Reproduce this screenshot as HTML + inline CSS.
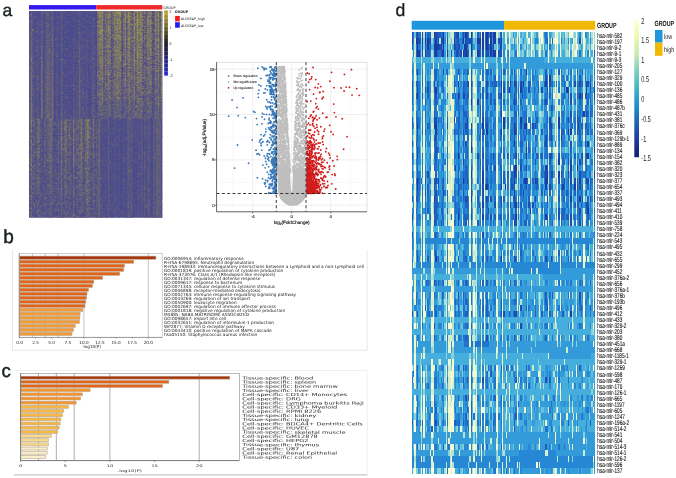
<!DOCTYPE html><html><head><meta charset="utf-8"><style>html,body{margin:0;padding:0;background:#fff}body{width:676px;height:478px;overflow:hidden;position:relative}svg{position:absolute;left:0;top:0}text{font-family:"Liberation Sans",Arial,sans-serif}.dj{font-family:"DejaVu Sans","Liberation Sans",sans-serif}svg text{text-rendering:geometricPrecision}</style></head><body>
<svg width="676" height="478" viewBox="0 0 676 478">
<text x="2.6" y="15.8" font-size="17.4" fill="#1a221c" stroke="#1a221c" stroke-width="0.45">a</text>
<text x="3.2" y="243.4" font-size="19" fill="#1a221c" stroke="#1a221c" stroke-width="0.45">b</text>
<text x="1.6" y="377" font-size="18.5" fill="#1a221c" stroke="#1a221c" stroke-width="0.5">c</text>
<text x="395.6" y="15.6" font-size="17.6" fill="#1a221c" stroke="#1a221c" stroke-width="0.35">d</text>
<rect x="29" y="5.1" width="67.2" height="4.4" fill="#3418f0"/>
<rect x="96.2" y="5.1" width="66.1" height="4.4" fill="#f02a2a"/>
<rect x="29.0" y="11.0" width="133.3" height="206.7" fill="#4a4a8e"/>
<g transform="translate(29.76 11) scale(1.5148 0.9986)" fill="none" stroke-width="1" shape-rendering="crispEdges">
<path d="M0 3v2M0 7v3M0 11v1M0 14v2M0 17v1M0 19v1M0 21v6M0 28v4M0 35v5M0 41v1M0 44v1M0 46v2M0 50v2M0 53v4M0 58v1M0 60v1M0 62v1M0 64v1M0 66v6M0 73v2M0 76v2M0 79v3M0 83v1M0 86v2M0 89v7M0 97v5M0 103v5M0 113v1M0 115v2M0 118v2M0 123v2M0 127v1M0 129v1M0 132v6M0 139v1M0 145v1M0 150v1M0 154v1M0 162v1M0 166v1M0 170v4M0 175v2M0 181v1M0 183v2M0 186v2M0 195v1M0 198v1M0 200v1M0 204v2M1 0v1M1 7v2M1 123v1M1 183v1M1 190v1M1 199v1M2 0v1M2 4v5M2 10v6M2 17v1M2 20v4M2 25v3M2 32v1M2 34v6M2 43v2M2 48v2M2 51v1M2 53v1M2 55v1M2 57v1M2 61v3M2 68v3M2 72v2M2 78v1M2 80v3M2 85v6M2 92v1M2 97v1M2 103v1M2 117v1M2 121v1M2 123v1M2 127v2M2 131v1M2 137v1M2 143v1M2 148v2M2 158v2M2 161v2M2 176v1M2 183v1M2 188v2M2 193v2M2 197v1M2 203v2M3 1v2M3 4v4M3 10v1M3 13v1M3 19v2M3 22v2M3 25v1M3 27v4M3 33v1M3 36v1M3 38v1M3 43v5M3 49v5M3 55v9M3 65v1M3 71v2M3 77v2M3 80v8M3 89v4M3 94v5M3 100v4M3 105v2M3 118v1M3 123v1M3 148v1M3 159v2M3 164v1M3 170v1M3 175v1M3 183v2M3 187v1M3 191v1M3 198v3M3 202v2M3 205v1M4 1v1M4 5v2M4 13v1M4 17v4M4 22v1M4 26v1M4 30v1M4 35v1M4 41v1M4 44v1M4 50v2M4 54v1M4 56v1M4 59v1M4 62v1M4 64v1M4 68v3M4 72v3M4 77v1M4 86v1M4 88v1M4 91v1M4 98v2M4 103v1M4 107v2M4 110v1M4 113v2M4 116v1M4 118v3M4 125v3M4 130v1M4 136v1M4 140v1M4 144v2M4 150v2M4 153v1M4 156v3M4 163v2M4 166v1M4 168v2M4 176v1M4 179v1M4 181v1M4 183v3M4 187v1M4 191v1M4 197v1M5 2v1M5 4v3M5 9v2M5 14v4M5 19v1M5 22v7M5 31v1M5 33v2M5 40v1M5 42v2M5 46v7M5 54v1M5 56v6M5 63v1M5 69v1M5 73v1M5 75v1M5 79v4M5 87v6M5 94v1M5 100v1M5 103v1M5 119v1M5 128v1M5 135v2M5 139v1M5 154v1M5 162v1M5 178v1M5 180v1M5 183v2M5 187v1M5 190v2M5 202v1M6 1v1M6 8v2M6 11v2M6 14v1M6 16v2M6 19v1M6 22v3M6 28v1M6 30v1M6 32v2M6 36v1M6 39v1M6 42v3M6 48v2M6 51v5M6 57v2M6 60v2M6 64v6M6 71v1M6 74v3M6 79v2M6 89v1M6 91v4M6 96v1M6 98v2M6 101v1M6 103v1M6 105v1M6 107v1M6 132v1M6 142v1M6 148v1M6 150v1M6 156v2M6 162v1M6 183v3M6 195v2M7 0v1M7 2v1M7 9v2M7 13v2M7 16v1M7 20v3M7 27v1M7 29v1M7 31v1M7 33v1M7 35v2M7 38v1M7 41v1M7 45v1M7 49v1M7 51v1M7 56v1M7 58v1M7 60v2M7 63v4M7 68v1M7 70v7M7 79v5M7 86v3M7 91v1M7 97v3M7 101v7M7 111v2M7 117v2M7 122v2M7 127v2M7 136v1M7 142v4M7 148v1M7 154v2M7 158v1M7 161v2M7 164v1M7 166v1M7 170v1M7 172v1M7 174v1M7 178v2M7 188v3M7 192v1M7 194v1M7 197v4M8 7v2M8 18v1M8 109v1M8 124v1M8 126v1M8 131v2M8 141v1M8 143v4M8 149v1M8 154v1M8 167v1M8 172v1M8 175v2M8 181v1M8 187v1M8 192v1M8 197v1M8 199v1M8 204v1M9 1v2M9 10v1M9 12v2M9 20v2M9 29v1M9 52v4M9 69v2M9 72v1M9 79v1M9 84v1M9 89v2M9 92v1M9 95v2M9 99v1M9 104v2M9 108v1M9 119v4M9 124v3M9 129v2M9 136v3M9 143v1M9 147v2M9 155v1M9 159v1M9 161v2M9 166v2M9 169v1M9 171v1M9 174v3M9 179v1M9 181v2M9 184v2M9 190v1M9 192v4M9 197v1M9 200v1M9 203v1M9 205v1M10 0v1M10 2v2M10 6v1M10 8v1M10 10v2M10 14v1M10 18v1M10 20v1M10 22v1M10 24v2M10 27v1M10 29v1M10 32v1M10 35v4M10 40v1M10 44v1M10 47v4M10 53v1M10 55v4M10 60v2M10 63v1M10 65v4M10 72v10M10 86v6M10 93v5M10 99v1M10 102v5M10 118v1M10 122v1M10 125v1M10 128v1M10 137v1M10 141v2M10 147v1M10 163v1M10 165v2M10 168v1M10 172v3M10 176v1M10 180v2M10 184v1M10 187v1M10 190v1M10 198v4M11 0v1M11 4v2M11 7v4M11 13v1M11 16v1M11 20v1M11 22v1M11 24v1M11 27v2M11 33v1M11 37v1M11 40v1M11 46v2M11 49v1M11 54v1M11 59v1M11 63v1M11 66v1M11 86v1M11 109v1M11 112v2M11 116v1M11 122v1M11 129v1M11 132v1M11 134v2M11 140v1M11 151v1M11 158v1M11 161v1M11 163v1M11 166v1M11 168v5M11 174v2M11 181v1M11 188v1M11 190v2M11 200v1M11 202v2M12 1v1M12 3v1M12 7v1M12 9v2M12 17v1M12 19v1M12 38v1M12 112v2M12 117v1M12 124v2M12 127v1M12 129v1M12 131v1M12 136v1M12 139v1M12 144v1M12 147v1M12 151v1M12 157v1M12 160v1M12 164v1M12 168v1M12 172v2M12 176v1M12 181v1M12 191v1M12 193v2M12 199v6M13 0v2M13 3v10M13 15v4M13 20v2M13 23v1M13 25v4M13 30v1M13 32v2M13 36v1M13 43v2M13 47v1M13 95v1M13 110v1M13 116v1M13 120v1M13 141v1M13 151v3M13 156v1M13 159v1M13 162v1M13 165v2M13 168v1M13 175v1M13 178v1M13 185v1M13 192v1M13 201v2M13 206v1M14 1v3M14 5v1M14 7v2M14 11v4M14 16v6M14 23v3M14 30v2M14 33v4M14 39v2M14 43v2M14 46v5M14 52v1M14 54v3M14 58v2M14 61v1M14 65v1M14 68v1M14 70v1M14 82v2M14 86v1M14 89v2M14 95v1M14 101v1M14 105v2M14 136v1M14 147v1M14 153v1M14 171v1M14 173v1M14 179v1M14 183v2M14 189v1M14 191v1M14 200v1M14 204v1M14 206v1M15 3v2M15 9v1M15 13v1M15 116v1M15 132v1M15 139v1M15 143v3M15 149v4M15 154v4M15 159v2M15 167v1M15 176v2M15 181v1M15 194v1M15 198v1M15 202v1M15 205v1M16 4v2M16 7v3M16 12v1M16 14v3M16 18v1M16 20v1M16 22v1M16 24v1M16 26v1M16 30v3M16 37v1M16 39v2M16 44v1M16 46v1M16 48v1M16 50v1M16 52v3M16 56v2M16 59v1M16 62v2M16 65v2M16 68v1M16 74v2M16 78v2M16 81v5M16 87v2M16 90v2M16 93v2M16 96v10M16 107v1M16 110v1M16 117v1M16 119v1M16 121v1M16 126v2M16 136v1M16 145v1M16 151v1M16 153v3M16 157v4M16 165v2M16 171v1M16 174v1M16 179v1M16 181v2M16 186v1M16 188v1M17 0v1M17 16v1M17 18v1M17 25v1M17 27v1M17 35v1M17 52v1M17 62v1M17 70v1M17 76v1M17 83v1M17 91v1M17 100v2M17 108v1M17 110v1M17 112v1M17 121v2M17 124v1M17 129v2M17 133v1M17 136v1M17 139v1M17 143v2M17 148v4M17 153v1M17 155v2M17 161v1M17 163v1M17 165v1M17 169v2M17 175v4M17 183v1M17 189v2M17 198v1M18 0v1M18 3v1M18 5v2M18 8v1M18 11v8M18 22v1M18 24v4M18 29v3M18 34v3M18 38v3M18 43v1M18 46v4M18 51v11M18 63v1M18 67v4M18 73v1M18 76v1M18 78v1M18 83v1M18 85v2M18 88v2M18 92v1M18 95v5M18 101v1M18 106v1M18 110v1M18 112v1M18 115v2M18 121v1M18 123v1M18 127v1M18 131v1M18 133v1M18 136v1M18 141v1M18 143v1M18 145v3M18 151v1M18 153v1M18 174v3M18 178v3M18 182v1M18 185v3M18 197v1M19 5v2M19 10v3M19 15v3M19 22v1M19 25v1M19 27v1M19 34v2M19 42v1M19 44v1M19 48v1M19 57v1M19 65v1M19 67v1M19 69v1M19 76v2M19 79v2M19 87v1M19 93v2M19 97v1M19 101v1M19 103v1M19 107v2M19 110v1M19 112v1M19 118v2M19 124v1M19 127v3M19 131v1M19 135v1M19 137v1M19 139v2M19 152v4M19 158v1M19 164v2M19 175v1M19 186v2M19 189v1M19 193v2M19 197v1M19 200v3M20 0v1M20 2v1M20 5v4M20 13v1M20 16v2M20 20v3M20 24v1M20 31v1M20 33v1M20 40v1M20 47v3M20 53v1M20 56v1M20 58v1M20 64v1M20 67v1M20 69v2M20 72v3M20 76v1M20 78v2M20 81v1M20 93v1M20 99v1M20 101v1M20 103v1M20 106v1M20 113v7M20 122v6M20 129v1M20 135v6M20 144v1M20 147v1M20 149v1M20 157v2M20 160v1M20 163v1M20 166v1M20 170v2M20 176v1M20 183v1M20 189v1M20 193v1M20 198v1M20 201v1M20 203v1M20 206v1M21 0v3M21 5v1M21 9v2M21 12v3M21 17v1M21 20v2M21 23v2M21 30v2M21 40v1M21 42v1M21 44v1M21 46v1M21 50v1M21 54v2M21 57v1M21 77v1M21 84v1M21 93v1M21 95v1M21 124v1M21 166v1M21 189v1M21 191v1M21 195v1M21 205v1M22 2v1M22 4v2M22 7v2M22 13v2M22 16v2M22 25v1M22 27v2M22 32v2M22 37v1M22 39v3M22 47v1M22 50v3M22 54v2M22 62v4M22 67v6M22 74v1M22 77v1M22 79v1M22 82v2M22 85v1M22 87v3M22 94v5M22 102v2M22 110v1M22 115v5M22 122v1M22 125v1M22 135v2M22 139v1M22 142v1M22 145v1M22 147v2M22 151v1M22 154v1M22 159v2M22 165v3M22 170v1M22 175v1M22 177v1M22 179v1M22 182v1M22 188v1M22 191v1M22 197v1M22 200v1M22 202v1M22 206v1M23 0v2M23 5v2M23 10v2M23 13v2M23 19v1M23 23v2M23 26v1M23 29v4M23 37v2M23 41v1M23 44v1M23 49v3M23 53v2M23 56v1M23 60v1M23 63v4M23 71v1M23 73v2M23 76v2M23 79v2M23 82v1M23 84v4M23 90v2M23 93v2M23 96v2M23 99v2M23 102v4M23 107v1M23 123v1M23 141v1M23 143v1M23 147v2M23 151v3M23 160v3M23 168v3M23 173v1M23 177v1M23 183v1M23 185v1M23 187v1M23 190v2M23 194v1M23 196v2M23 200v1M24 0v2M24 3v2M24 7v1M24 10v1M24 12v2M24 15v1M24 21v1M24 23v1M24 25v3M24 31v1M24 38v2M24 42v2M24 45v1M24 49v3M24 55v2M24 63v3M24 69v2M24 75v1M24 77v1M24 81v1M24 83v1M24 85v1M24 88v1M24 90v1M24 93v2M24 96v1M24 98v2M24 101v1M24 103v4M24 158v1M24 187v1M24 189v1M24 193v2M24 198v5M25 3v2M25 8v5M25 14v1M25 16v1M25 19v2M25 25v2M25 33v1M25 37v3M25 42v1M25 44v2M25 48v2M25 52v2M25 56v3M25 60v4M25 65v2M25 68v1M25 70v3M25 74v4M25 79v2M25 82v1M25 85v1M25 90v2M25 94v6M25 101v1M25 103v2M25 106v6M25 113v1M25 115v2M25 123v1M25 125v1M25 128v1M25 130v1M25 132v1M25 135v1M25 141v1M25 143v1M25 157v1M25 159v1M25 164v1M25 167v1M25 172v1M25 177v1M25 183v1M25 187v1M25 193v2M25 197v1M25 201v1M26 2v1M26 4v1M26 11v1M26 19v1M26 21v1M26 27v1M26 31v1M26 35v2M26 40v1M26 43v1M26 51v1M26 58v1M26 60v2M26 66v1M26 74v1M26 80v1M26 83v1M26 87v1M26 89v1M26 91v3M26 97v1M26 105v1M26 108v1M26 111v2M26 129v2M26 138v1M26 146v1M26 153v1M26 159v2M26 169v1M26 172v1M26 179v2M26 184v1M26 189v1M26 191v1M26 198v1M26 202v1M26 205v1M27 1v1M27 3v2M27 7v1M27 11v1M27 13v1M27 23v1M27 25v1M27 31v1M27 35v1M27 38v1M27 42v5M27 48v1M27 50v1M27 52v1M27 58v1M27 60v4M27 68v3M27 72v1M27 74v2M27 80v2M27 83v1M27 85v2M27 88v1M27 92v1M27 94v4M27 103v1M27 106v2M27 110v1M27 114v2M27 125v1M27 128v1M27 131v1M27 139v1M27 144v1M27 148v1M27 151v2M27 154v4M27 159v1M27 171v1M27 174v2M27 177v1M27 181v1M27 187v1M27 190v1M27 193v1M27 197v1M27 203v2M28 1v2M28 7v2M28 28v1M28 31v1M28 34v2M28 40v2M28 49v2M28 56v1M28 59v3M28 79v1M28 91v1M28 101v1M28 107v2M28 110v1M28 113v1M28 117v1M28 120v1M28 125v3M28 129v1M28 132v1M28 147v1M28 150v1M28 154v2M28 157v1M28 163v1M28 165v1M28 170v1M28 172v1M28 174v2M28 177v2M28 181v1M28 183v2M28 187v1M28 189v2M28 193v1M28 200v1M28 202v1M28 204v1M29 2v1M29 7v2M29 10v2M29 14v2M29 18v3M29 23v2M29 26v2M29 29v1M29 32v2M29 35v1M29 38v1M29 40v2M29 44v4M29 49v1M29 51v1M29 53v3M29 57v4M29 62v4M29 67v1M29 69v2M29 73v1M29 76v1M29 78v4M29 83v5M29 89v1M29 91v3M29 97v2M29 101v2M29 104v1M29 106v2M29 162v1M29 187v2M29 192v1M29 195v1M29 197v2M29 200v1M30 0v2M30 4v2M30 8v2M30 11v1M30 14v4M30 19v1M30 22v2M30 25v1M30 27v1M30 29v1M30 31v2M30 36v1M30 38v1M30 40v2M30 43v5M30 49v1M30 51v1M30 53v1M30 56v1M30 59v1M30 62v1M30 64v2M30 67v3M30 74v1M30 77v1M30 79v1M30 85v1M30 88v2M30 92v3M30 96v1M30 99v10M30 113v1M30 117v1M30 120v1M30 127v1M30 129v2M30 133v1M30 136v1M30 139v1M30 141v1M30 145v1M30 152v1M30 157v1M30 159v1M30 161v1M30 165v1M30 175v1M30 178v1M30 181v1M30 183v1M30 187v6M30 195v2M30 200v1M30 205v2M31 1v3M31 10v1M31 13v1M31 17v1M31 21v2M31 26v1M31 29v2M31 32v6M31 41v6M31 48v2M31 53v1M31 56v4M31 61v1M31 64v3M31 69v3M31 73v4M31 78v3M31 83v5M31 89v1M31 91v1M31 93v2M31 98v6M31 105v3M31 120v1M31 140v1M31 144v4M31 150v1M31 156v3M31 160v1M31 164v1M31 170v2M31 178v2M31 184v2M31 189v1M31 192v1M31 197v1M31 199v1M31 202v1M31 204v1M31 206v1M32 0v4M32 5v1M32 8v1M32 10v2M32 13v1M32 15v4M32 23v1M32 26v1M32 29v2M32 32v1M32 34v5M32 40v3M32 44v1M32 46v1M32 49v1M32 51v7M32 61v2M32 64v2M32 67v2M32 71v1M32 73v1M32 75v1M32 77v1M32 79v4M32 85v1M32 88v8M32 97v1M32 102v2M32 105v1M32 107v1M32 119v1M32 121v2M32 127v1M32 132v1M32 135v1M32 139v1M32 144v1M32 151v2M32 158v1M32 160v1M32 168v2M32 171v3M32 175v1M32 178v2M32 185v1M32 202v2M33 0v3M33 4v5M33 11v2M33 14v3M33 18v2M33 24v1M33 28v1M33 30v1M33 35v1M33 113v2M33 125v1M33 129v1M33 132v1M33 139v1M33 141v1M33 145v1M33 152v1M33 154v1M33 157v2M33 166v1M33 176v1M33 178v1M33 181v1M33 189v1M33 193v1M33 195v3M33 205v2M34 2v1M34 11v3M34 25v1M34 28v1M34 35v1M34 43v1M34 56v1M34 58v1M34 60v1M34 62v1M34 70v1M34 73v3M34 81v1M34 84v5M34 97v2M34 101v2M34 177v1M34 185v1M34 187v1M34 193v1M34 203v1M35 1v1M35 3v1M35 5v2M35 8v1M35 10v1M35 12v2M35 18v7M35 26v8M35 37v1M35 39v6M35 46v1M35 48v2M35 51v1M35 57v2M35 60v3M35 64v1M35 66v1M35 69v3M35 73v3M35 79v1M35 83v1M35 86v2M35 89v2M35 92v2M35 101v1M35 103v1M35 106v1M35 110v1M35 112v1M35 123v1M35 141v1M35 143v1M35 149v3M35 153v2M35 157v1M35 163v2M35 171v1M35 175v1M35 179v1M35 183v1M35 186v4M35 194v1M35 200v1M35 205v1M36 1v1M36 3v1M36 8v2M36 12v1M36 16v1M36 20v2M36 27v2M36 30v1M36 33v2M36 37v2M36 43v1M36 45v2M36 49v1M36 51v2M36 55v1M36 60v1M36 62v2M36 65v1M36 67v2M36 71v1M36 73v1M36 76v1M36 80v4M36 85v4M36 91v2M36 97v3M36 101v1M36 105v5M36 112v2M36 115v1M36 118v3M36 123v1M36 127v1M36 130v1M36 132v2M36 140v1M36 145v1M36 150v2M36 154v3M36 159v3M36 165v3M36 170v1M36 173v1M36 176v1M36 179v1M36 190v2M36 198v1M36 200v4M37 0v2M37 5v2M37 8v1M37 10v1M37 15v2M37 18v5M37 29v1M37 33v4M37 38v2M37 41v7M37 49v1M37 52v1M37 55v1M37 57v2M37 60v3M37 69v2M37 74v3M37 78v10M37 89v4M37 94v1M37 96v2M37 99v8M37 134v1M37 137v1M37 142v1M37 151v1M37 164v1M37 168v1M37 170v1M37 183v1M37 185v3M37 190v1M37 193v1M37 195v2M37 203v1M37 206v1M38 0v1M38 2v2M38 5v2M38 9v4M38 14v1M38 16v3M38 20v2M38 23v4M38 28v1M38 30v8M38 39v2M38 43v20M38 66v3M38 70v7M38 78v6M38 87v1M38 89v3M38 94v4M38 99v6M38 107v1M38 184v1M38 196v1M38 202v1M39 1v1M39 7v1M39 10v2M39 15v1M39 19v1M39 21v1M39 25v1M39 28v2M39 34v1M39 36v2M39 43v2M39 47v1M39 49v1M39 52v1M39 54v1M39 66v1M39 70v1M39 72v1M39 76v1M39 81v1M39 88v1M39 95v1M39 97v1M39 102v1M39 105v1M39 128v1M39 149v1M39 154v1M39 160v1M39 167v2M39 172v1M39 177v1M39 189v1M39 192v1M39 205v1M40 2v1M40 8v1M40 11v2M40 15v1M40 22v2M40 25v2M40 29v3M40 35v1M40 37v1M40 42v2M40 45v1M40 49v1M40 55v2M40 58v1M40 60v1M40 66v3M40 71v1M40 75v1M40 77v1M40 85v1M40 88v1M40 94v1M40 97v1M40 100v1M40 102v1M40 105v1M40 114v1M40 124v1M40 130v1M40 132v2M40 138v1M40 141v1M40 144v2M40 150v2M40 164v2M40 169v3M40 176v2M40 180v2M40 183v2M40 189v1M40 192v1M40 194v1M40 197v1M40 200v1M40 202v1M41 0v1M41 2v2M41 6v1M41 9v1M41 12v1M41 14v3M41 18v1M41 20v5M41 26v2M41 29v4M41 34v1M41 37v2M41 40v3M41 44v1M41 47v1M41 49v1M41 51v1M41 54v4M41 60v6M41 68v1M41 70v2M41 73v5M41 79v6M41 90v2M41 93v6M41 101v1M41 104v4M41 110v2M41 113v1M41 117v1M41 119v1M41 122v3M41 126v1M41 129v1M41 131v2M41 135v1M41 138v1M41 140v1M41 142v1M41 145v1M41 147v1M41 149v2M41 153v1M41 159v1M41 162v2M41 175v1M41 180v1M41 186v1M41 198v1M41 203v1M42 2v1M42 7v1M42 10v2M42 13v5M42 19v4M42 24v3M42 29v1M42 31v2M42 36v2M42 39v1M42 42v3M42 49v3M42 53v1M42 57v2M42 60v1M42 63v1M42 67v1M42 70v1M42 79v1M42 85v1M42 92v1M42 95v1M42 101v1M42 148v1M42 153v1M42 159v1M42 161v1M42 166v1M42 170v1M42 175v1M42 185v1M42 188v1M42 196v1M42 199v1M42 203v1M43 1v2M43 7v2M43 12v5M43 18v1M43 21v2M43 29v1M43 31v1M43 33v1M43 36v2M43 39v3M43 44v1M43 46v3M43 50v4M43 56v1M43 58v7M43 66v1M43 68v7M43 76v3M43 81v1M43 83v2M43 87v1M43 89v3M43 93v4M43 99v1M43 101v4M43 107v1M43 113v1M43 116v2M43 120v1M43 124v2M43 132v1M43 140v3M43 149v1M43 156v1M43 163v1M43 165v1M43 167v1M43 177v2M43 180v1M43 182v1M43 191v1M43 194v1M43 196v1M43 198v1M43 200v1M43 203v1M43 205v1M44 22v1M44 33v1M44 38v1M44 44v1M44 46v1M44 49v1M44 54v1M44 64v1M44 67v1M44 81v1M44 84v1M44 86v1M44 88v1M44 91v3M44 101v3M44 108v1M44 111v1M44 114v1M44 116v1M44 118v2M44 124v1M44 132v2M44 137v2M44 140v1M44 142v1M44 145v2M44 150v1M44 155v1M44 164v2M44 170v2M44 173v1M44 180v3M44 184v1M44 186v1M44 195v1M44 197v1M44 200v2M45 8v1M45 76v1M45 85v1M45 88v1M45 90v1M45 94v1M45 96v1M45 99v3M45 104v1M45 110v1M45 112v1M45 116v1M45 130v1M45 136v1M45 139v1M45 141v1M45 146v2M45 158v1M45 162v1M45 165v1M45 196v2M45 201v1M45 204v2M46 61v2M46 74v1M46 77v1M46 105v1M46 107v1M47 97v1M47 101v1M47 108v3M47 113v3M47 117v1M47 119v2M47 124v2M47 130v1M47 132v1M47 134v1M47 136v1M47 139v1M47 153v1M47 155v1M47 157v1M47 159v2M47 162v2M47 167v2M47 171v1M47 173v1M47 179v2M47 182v1M47 186v4M47 193v4M47 198v1M47 200v1M47 202v1M47 204v1M47 206v1M48 94v1M48 97v1M48 100v2M48 105v1M48 108v1M48 110v3M48 114v8M48 124v1M48 126v2M48 129v1M48 131v1M48 133v2M48 137v3M48 141v1M48 145v1M48 147v8M48 157v2M48 160v1M48 162v1M48 164v1M48 166v5M48 175v1M48 177v1M48 182v1M48 184v2M48 187v1M48 189v2M48 192v4M48 197v2M48 202v2M48 205v2M49 1v1M49 6v2M49 12v1M49 20v1M49 22v1M49 29v6M49 38v1M49 40v1M49 42v2M49 50v1M49 52v1M49 56v6M49 65v1M49 69v1M49 72v2M49 85v1M49 90v1M49 102v2M49 106v1M49 108v1M49 110v2M49 113v2M49 117v3M49 121v1M49 124v2M49 130v1M49 132v1M49 134v3M49 138v3M49 143v1M49 145v2M49 148v1M49 150v1M49 153v3M49 158v2M49 163v2M49 167v2M49 171v2M49 177v1M49 180v2M49 183v2M49 186v2M49 189v2M49 192v1M49 198v1M49 200v2M49 204v2M50 24v1M50 29v1M50 35v1M50 38v1M50 42v1M50 50v1M50 52v1M50 67v1M50 69v1M50 79v1M50 84v1M50 91v2M50 96v1M50 98v1M50 100v1M50 104v1M50 107v3M50 113v1M50 116v3M50 121v1M50 124v1M50 126v3M50 130v1M50 136v1M50 138v12M50 151v1M50 154v2M50 157v1M50 159v11M50 171v1M50 174v7M50 182v1M50 184v3M50 188v4M50 193v1M50 197v1M50 199v1M50 203v2M51 28v1M51 33v1M51 47v1M51 56v1M51 65v1M51 69v1M51 82v1M51 86v1M51 100v1M51 103v1M51 108v3M51 112v1M51 114v2M51 121v1M51 125v2M51 131v1M51 141v1M51 148v1M51 150v3M51 154v1M51 158v1M51 160v4M51 166v1M51 168v1M51 171v1M51 176v1M51 179v1M51 181v1M51 185v1M51 196v2M51 199v1M51 202v1M51 204v1M51 206v1M52 108v1M52 120v1M52 124v2M52 135v1M52 138v1M52 150v1M52 171v1M52 181v1M52 187v1M52 196v1M52 202v1M53 37v1M53 67v1M53 78v2M53 106v1M53 110v1M53 113v1M53 115v1M53 117v2M53 120v2M53 124v2M53 127v2M53 130v1M53 132v2M53 136v1M53 139v2M53 146v2M53 150v4M53 155v2M53 158v3M53 166v4M53 175v1M53 177v2M53 181v1M53 183v1M53 186v2M53 191v1M53 194v2M53 197v3M54 5v1M54 7v3M54 11v1M54 13v2M54 16v2M54 20v1M54 23v1M54 29v1M54 31v1M54 36v2M54 42v2M54 48v2M54 51v1M54 53v1M54 55v2M54 62v1M54 71v2M54 75v1M54 80v1M54 82v1M54 96v3M54 104v2M54 107v1M54 110v3M54 114v1M54 117v2M54 121v1M54 123v1M54 125v2M54 129v1M54 131v4M54 137v7M54 150v1M54 152v1M54 154v1M54 158v1M54 160v2M54 163v1M54 166v1M54 168v1M54 170v2M54 173v2M54 176v3M54 183v4M54 189v1M54 191v1M54 193v1M54 196v1M54 198v2M54 201v1M54 203v1M54 206v1M55 5v1M55 33v1M55 36v1M55 45v1M55 47v1M55 50v1M55 54v1M55 60v2M55 64v1M55 72v1M55 87v1M55 99v8M55 108v1M55 110v1M55 112v1M55 116v2M55 120v4M55 132v1M55 135v1M55 148v1M55 151v1M55 154v1M55 156v1M55 161v2M55 164v3M55 168v1M55 170v1M55 175v1M55 177v2M55 180v2M55 183v1M55 188v1M55 190v1M55 192v2M55 197v1M55 199v1M55 201v1M56 41v1M56 66v2M56 94v1M56 110v10M56 121v2M56 124v2M56 127v1M56 129v3M56 133v4M56 138v4M56 144v6M56 151v1M56 153v1M56 155v1M56 158v2M56 161v2M56 164v4M56 169v2M56 173v3M56 177v3M56 181v5M56 187v3M56 191v3M56 195v1M56 197v10M57 90v1M57 92v1M57 95v1M57 99v1M57 103v1M57 106v1M57 108v4M57 113v1M57 115v1M57 117v2M57 120v1M57 122v1M57 125v4M57 131v2M57 134v1M57 136v3M57 140v1M57 142v2M57 148v2M57 152v3M57 156v2M57 159v2M57 162v6M57 171v4M57 176v3M57 180v2M57 185v1M57 188v2M57 191v1M57 194v8M57 204v1M58 103v1M58 106v3M58 114v1M58 116v1M58 118v2M58 125v2M58 132v4M58 142v1M58 144v1M58 146v1M58 149v1M58 152v1M58 154v1M58 157v1M58 162v1M58 165v1M58 167v2M58 179v1M58 183v2M58 187v1M58 191v1M58 193v1M58 195v5M58 203v1M59 68v1M59 91v1M59 100v1M59 107v4M59 112v1M59 115v1M59 117v3M59 121v5M59 128v1M59 131v9M59 141v2M59 144v2M59 148v2M59 151v1M59 153v5M59 159v3M59 163v7M59 172v10M59 183v5M59 189v2M59 192v2M59 195v1M59 197v4M59 202v5M60 39v1M60 85v1M60 97v1M60 100v1M60 109v1M60 116v1M60 122v1M60 130v1M60 134v1M60 142v2M60 146v1M60 155v1M60 157v1M60 164v1M60 169v1M60 191v1M60 200v2M60 203v1M60 205v1M61 4v1M61 7v1M61 9v1M61 11v1M61 14v1M61 16v1M61 19v1M61 26v1M61 33v1M61 35v1M61 37v1M61 42v1M61 49v1M61 59v1M61 63v1M61 65v1M61 76v1M61 80v1M61 89v2M61 95v2M61 105v1M61 117v1M61 122v1M61 126v1M61 130v2M61 136v2M61 144v1M61 147v1M61 152v1M61 159v1M61 161v1M61 171v1M61 173v1M61 185v3M61 192v1M61 194v1M61 198v3M61 204v1M62 5v1M62 30v1M62 58v1M62 60v1M62 64v3M62 76v1M62 80v1M62 88v1M62 96v1M62 99v2M62 105v1M62 108v1M62 110v2M62 113v1M62 115v6M62 123v4M62 128v3M62 132v3M62 137v4M62 142v5M62 148v1M62 152v4M62 157v3M62 161v1M62 163v1M62 165v3M62 170v2M62 174v4M62 179v8M62 188v9M62 199v1M62 202v5M63 77v1M63 97v1M63 104v1M63 110v1M63 112v1M63 126v2M63 129v1M63 143v1M63 157v1M63 163v1M63 173v1M63 177v1M63 180v2M63 187v1M63 191v1M63 198v1M63 201v1M63 203v2M64 8v3M64 14v3M64 19v1M64 23v1M64 26v1M64 29v1M64 39v1M64 42v1M64 48v2M64 55v1M64 58v1M64 63v2M64 67v1M64 75v1M64 83v1M64 87v2M64 94v2M64 102v1M64 106v14M64 121v2M64 126v5M64 133v5M64 140v4M64 146v1M64 148v5M64 154v1M64 157v2M64 160v3M64 164v1M64 168v6M64 175v1M64 177v1M64 179v1M64 182v1M64 184v1M64 188v1M64 190v7M64 199v1M64 201v3M64 205v2M65 99v1M65 104v1M65 113v1M65 116v1M65 118v1M65 124v1M65 131v1M65 135v1M65 141v1M65 144v1M65 149v1M65 154v1M65 170v2M65 174v2M65 177v2M65 182v1M65 185v1M65 198v2M65 202v1M66 82v1M66 104v1M66 109v5M66 115v1M66 118v5M66 124v2M66 127v1M66 131v6M66 138v12M66 151v2M66 154v1M66 158v1M66 161v1M66 163v3M66 167v1M66 169v1M66 171v2M66 175v1M66 177v7M66 185v1M66 188v3M66 192v2M66 195v4M66 200v2M66 203v2M67 0v2M67 7v1M67 11v1M67 21v1M67 32v1M67 39v1M67 43v1M67 50v1M67 54v1M67 58v1M67 71v1M67 84v1M67 86v3M67 91v1M67 99v1M67 102v1M67 110v1M67 117v4M67 127v1M67 131v4M67 136v1M67 142v1M67 145v3M67 151v2M67 154v3M67 165v1M67 167v1M67 169v1M67 173v1M67 176v1M67 179v1M67 181v1M67 184v1M67 186v2M67 190v1M67 200v1M67 205v2M68 0v2M68 4v1M68 10v1M68 14v2M68 17v1M68 19v1M68 22v1M68 28v1M68 31v1M68 33v1M68 38v2M68 41v2M68 45v1M68 52v1M68 57v1M68 63v1M68 69v2M68 72v1M68 77v1M68 81v2M68 92v1M68 95v1M68 104v1M68 109v3M68 114v1M68 116v6M68 123v2M68 126v7M68 137v3M68 141v2M68 145v3M68 151v1M68 154v2M68 157v1M68 159v2M68 162v2M68 165v5M68 172v2M68 175v2M68 178v1M68 181v1M68 183v7M68 192v5M68 199v1M68 201v1M68 206v1M69 88v1M69 95v1M69 109v1M69 112v1M69 114v1M69 119v1M69 121v1M69 123v2M69 126v1M69 135v1M69 141v1M69 143v1M69 149v1M69 156v2M69 160v2M69 174v1M69 177v1M69 188v2M69 195v1M69 198v1M69 201v1M70 10v1M70 19v1M70 21v1M70 25v1M70 28v1M70 31v1M70 43v2M70 46v1M70 56v1M70 62v3M70 75v2M70 78v1M70 80v1M70 83v2M70 91v1M70 97v1M70 109v1M70 111v2M70 114v1M70 117v2M70 121v2M70 124v7M70 133v1M70 135v3M70 141v3M70 147v4M70 152v1M70 155v1M70 158v2M70 163v1M70 167v1M70 171v2M70 175v2M70 181v2M70 185v1M70 187v1M70 189v1M70 193v3M70 197v2M70 201v1M70 203v3M71 72v1M71 81v1M71 108v1M71 111v2M71 114v3M71 118v4M71 126v1M71 128v1M71 130v2M71 133v1M71 135v1M71 138v1M71 141v1M71 144v1M71 150v2M71 156v1M71 162v5M71 170v1M71 174v1M71 182v1M71 186v1M71 188v1M71 191v1M71 193v1M71 195v1M71 199v2M71 202v2M72 81v1M72 86v1M72 93v2M72 108v6M72 115v2M72 118v1M72 120v2M72 124v2M72 127v2M72 130v2M72 136v5M72 142v1M72 144v1M72 150v8M72 159v2M72 164v1M72 166v1M72 168v2M72 172v2M72 175v8M72 184v2M72 189v11M72 202v4M73 31v1M73 97v1M73 119v1M73 124v1M73 127v1M73 129v1M73 137v1M73 140v1M73 142v1M73 145v1M73 147v1M73 153v1M73 155v2M73 166v1M73 176v1M73 178v1M73 183v2M73 186v1M73 188v1M73 203v1M74 65v1M74 71v2M74 86v1M74 106v1M74 109v1M74 127v1M74 129v1M74 157v1M74 159v1M74 165v1M74 167v1M74 171v1M74 173v1M74 180v1M74 187v1M74 192v1M74 196v1M74 198v2M74 201v1M75 3v2M75 10v2M75 21v2M75 37v1M75 39v1M75 48v1M75 52v6M75 59v2M75 65v1M75 71v1M75 83v2M75 95v2M75 101v1M75 104v1M75 117v1M75 122v1M75 129v1M75 139v1M75 147v1M75 156v2M75 159v1M75 167v1M75 176v1M75 186v3M75 191v2M75 198v1M75 200v1M75 202v1M76 13v1M76 22v1M76 31v1M76 37v1M76 44v1M76 51v1M76 57v1M76 70v1M76 72v1M76 74v1M76 82v1M76 85v1M76 89v1M76 91v2M76 102v1M76 111v3M76 121v1M76 126v4M76 131v2M76 134v2M76 138v1M76 140v1M76 148v1M76 157v1M76 159v1M76 161v1M76 163v1M76 165v3M76 170v1M76 173v1M76 180v1M76 190v4M76 197v1M76 201v1M76 205v1M77 1v2M77 6v2M77 10v1M77 12v1M77 16v1M77 19v2M77 27v1M77 29v1M77 31v1M77 33v1M77 37v1M77 40v5M77 50v1M77 53v1M77 57v1M77 59v2M77 62v2M77 65v2M77 70v1M77 73v4M77 78v2M77 85v3M77 93v1M77 95v1M77 98v1M77 105v1M77 110v1M77 114v1M77 120v2M77 123v1M77 125v3M77 142v1M77 147v1M77 150v1M77 159v1M77 163v1M77 173v1M77 176v1M77 188v1M77 190v1M78 96v2M78 111v2M78 114v1M78 116v1M78 119v1M78 122v3M78 128v2M78 131v1M78 133v1M78 135v1M78 137v2M78 141v3M78 147v1M78 150v2M78 153v3M78 160v1M78 162v1M78 168v1M78 171v3M78 177v1M78 184v1M78 186v3M78 192v1M78 200v1M78 203v2M79 7v1M79 18v1M79 85v2M79 94v1M79 98v1M79 104v1M79 108v2M79 111v1M79 114v1M79 119v2M79 125v1M79 130v1M79 132v1M79 134v1M79 139v1M79 142v3M79 147v1M79 151v2M79 155v1M79 157v2M79 160v1M79 163v2M79 166v1M79 168v2M79 173v1M79 175v1M79 181v1M79 183v1M79 185v1M79 187v1M79 196v2M79 203v1M79 206v1M80 83v1M80 86v1M80 88v2M80 116v2M80 121v1M80 133v1M80 136v1M80 140v2M80 143v1M80 146v2M80 149v1M80 157v1M80 162v3M80 167v1M80 171v1M80 173v1M80 177v2M80 183v3M80 188v1M80 194v2M80 203v2M81 0v1M81 6v2M81 9v1M81 15v1M81 17v1M81 21v1M81 29v1M81 32v2M81 47v3M81 51v2M81 54v2M81 59v2M81 62v1M81 64v1M81 70v3M81 76v1M81 80v3M81 90v1M81 93v1M81 96v1M81 100v1M81 103v1M81 121v1M81 129v1M81 134v3M81 144v1M81 149v1M81 158v1M81 167v1M81 175v1M81 186v1M81 188v1M81 192v1M81 196v1M81 198v1M81 202v1M81 206v1M82 0v1M82 4v1M82 6v2M82 9v1M82 16v1M82 20v2M82 24v4M82 39v1M82 45v1M82 53v1M82 59v2M82 69v2M82 74v1M82 77v1M82 80v2M82 83v3M82 88v3M82 95v1M82 105v1M82 107v1M82 119v1M82 130v1M82 142v1M82 153v1M82 176v1M82 179v1M82 189v1M82 194v1M82 203v2M83 99v1M83 108v2M83 111v2M83 114v3M83 120v4M83 125v3M83 129v4M83 134v1M83 136v1M83 138v1M83 140v1M83 143v3M83 148v3M83 152v2M83 156v12M83 169v3M83 175v2M83 178v5M83 184v2M83 187v1M83 189v1M83 191v6M83 200v3M83 206v1M84 31v1M84 50v1M84 56v1M84 61v1M84 65v1M84 67v1M84 81v1M84 89v1M84 96v1M84 100v1M85 101v1M85 109v1M85 114v1M85 116v1M85 130v1M85 132v1M85 136v1M85 146v1M85 158v1M85 160v1M85 164v1M85 166v1M85 169v1M85 173v1M85 178v1M85 183v2M85 188v1M85 197v1M85 205v1M86 8v2M86 12v2M86 17v3M86 23v1M86 35v1M86 43v2M86 47v1M86 49v1M86 51v1M86 55v2M86 59v1M86 63v1M86 65v1M86 67v1M86 69v1M86 74v1M86 77v3M86 81v4M86 94v5M86 103v1M86 182v1M86 185v1M86 197v1M86 200v1M86 202v1M86 204v1M87 58v1M87 87v1M87 108v2M87 112v1M87 114v4M87 119v1M87 122v6M87 132v2M87 135v2M87 138v1M87 140v1M87 142v2M87 146v3M87 150v3M87 154v2M87 158v2M87 161v10M87 172v2M87 175v2M87 178v2M87 181v8M87 194v2M87 197v1M87 199v1M87 202v1M87 204v2" stroke="#565485"/>
<path d="M0 10v1M0 27v1M0 33v2M0 45v1M0 57v1M0 63v1M0 84v1M0 102v1M0 111v1M0 120v1M0 128v1M0 144v1M0 152v1M0 157v3M0 180v1M0 192v1M0 197v1M1 1v1M1 5v2M1 9v1M1 11v3M1 15v3M1 19v2M1 24v1M1 26v3M1 35v1M1 39v2M1 52v2M1 128v1M1 156v1M1 158v1M1 160v2M1 169v1M1 172v1M1 174v1M1 179v2M1 182v1M1 193v3M1 198v1M1 201v1M2 1v1M2 9v1M2 28v1M2 30v2M2 33v1M2 40v1M2 42v1M2 45v1M2 47v1M2 50v1M2 54v1M2 56v1M2 58v1M2 60v1M2 64v4M2 71v1M2 74v3M2 79v1M2 84v1M2 91v1M2 93v4M2 99v4M2 104v2M2 107v2M2 113v1M2 115v1M2 119v1M2 122v1M2 124v2M2 132v1M2 136v1M2 139v2M2 142v1M2 145v1M2 147v1M2 151v1M2 157v1M2 163v1M2 166v4M2 173v2M2 177v1M2 184v3M2 190v1M2 199v2M2 205v1M3 66v1M3 74v1M3 79v1M3 88v1M3 107v1M3 110v1M3 120v1M3 122v1M3 126v1M3 128v1M3 130v1M3 135v1M3 137v1M3 139v2M3 142v1M3 146v2M3 149v1M3 156v1M3 158v1M3 161v1M3 165v1M3 167v1M3 174v1M3 177v2M3 180v1M3 188v1M3 192v1M3 201v1M3 206v1M4 39v1M4 123v1M4 128v1M4 131v1M4 137v1M4 139v1M4 152v1M4 154v1M4 159v2M4 167v1M4 172v1M4 174v2M4 180v1M4 189v1M4 192v1M5 11v2M5 21v1M5 30v1M5 32v1M5 35v5M5 41v1M5 44v2M5 53v1M5 62v1M5 64v1M5 66v3M5 71v2M5 74v1M5 76v1M5 78v1M5 83v4M5 93v1M5 95v5M5 101v2M5 104v1M5 107v1M5 109v1M5 112v2M5 129v1M5 133v1M5 140v2M5 146v4M5 151v1M5 153v1M5 158v4M5 166v1M5 168v1M5 172v4M5 181v1M5 194v2M5 198v1M6 13v1M6 41v1M6 73v1M6 78v1M6 102v1M6 121v1M6 134v1M6 139v1M6 149v1M6 151v1M6 155v1M6 158v1M6 163v3M6 169v1M6 174v1M6 176v1M6 179v2M6 186v2M6 192v1M6 202v1M7 109v1M7 115v2M7 121v1M7 125v2M7 129v1M7 133v3M7 138v1M7 140v1M7 146v1M7 157v1M7 160v1M7 163v1M7 171v1M7 185v1M7 187v1M7 196v1M7 201v1M7 203v1M7 205v2M8 0v3M8 4v2M8 9v4M8 14v2M8 17v1M8 19v1M8 22v10M8 33v1M8 38v1M8 42v2M8 48v2M8 117v1M8 121v1M8 129v2M8 139v1M8 147v1M8 150v2M8 156v3M8 160v2M8 164v1M8 168v1M8 170v2M8 173v1M8 180v1M8 184v2M8 195v1M8 201v3M9 97v1M9 117v1M9 131v1M9 154v1M9 186v1M9 188v1M10 46v1M10 59v1M10 71v1M10 83v1M10 85v1M10 98v1M10 101v1M10 116v1M10 124v1M10 126v1M10 129v1M10 135v1M10 138v2M10 144v1M10 148v1M10 150v1M10 153v1M10 156v1M10 158v1M10 160v1M10 162v1M10 167v1M10 175v1M10 177v3M10 182v2M10 185v1M10 189v1M10 194v1M10 197v1M10 203v2M10 206v1M11 1v3M11 6v1M11 11v2M11 14v2M11 17v3M11 21v1M11 23v1M11 25v2M11 29v4M11 34v3M11 38v2M11 41v5M11 48v1M11 50v1M11 52v2M11 55v4M11 62v1M11 64v1M11 67v2M11 70v3M11 74v2M11 80v2M11 83v1M11 90v1M11 92v2M11 98v1M11 102v1M11 110v1M11 114v1M11 120v1M11 123v1M11 130v1M11 152v1M11 157v1M11 162v1M11 164v1M11 167v1M11 183v1M11 192v1M11 199v1M11 201v1M12 0v1M12 2v1M12 5v2M12 8v1M12 11v5M12 20v6M12 27v11M12 39v4M12 44v5M12 50v2M12 59v2M12 64v1M12 68v1M12 70v2M12 75v1M12 79v1M12 85v1M12 91v1M12 93v1M12 96v1M12 98v1M12 101v1M12 108v4M12 115v1M12 121v1M12 133v2M12 140v2M12 143v1M12 162v2M12 165v1M12 167v1M12 169v1M12 178v2M12 182v1M12 195v1M12 197v1M13 13v2M13 19v1M13 22v1M13 29v1M13 31v1M13 34v2M13 37v1M13 42v1M13 45v2M13 48v18M13 67v1M13 69v8M13 78v1M13 80v7M13 88v4M13 93v2M13 97v1M13 99v2M13 105v1M13 107v1M13 118v1M13 121v1M13 125v2M13 133v1M13 136v2M13 139v1M13 145v1M13 155v1M13 158v1M13 163v2M13 171v2M13 176v1M13 182v3M13 186v1M13 188v3M13 193v2M13 197v1M13 200v1M13 205v1M14 0v1M14 6v1M14 9v1M14 22v1M14 26v1M14 29v1M14 32v1M14 37v1M14 41v2M14 45v1M14 51v1M14 57v1M14 60v1M14 62v3M14 66v2M14 69v1M14 71v5M14 77v5M14 84v2M14 87v1M14 91v2M14 94v1M14 96v5M14 102v2M14 107v1M14 125v1M14 130v1M14 155v1M14 159v1M14 164v1M14 167v1M14 170v1M14 177v1M14 186v2M14 193v2M14 197v1M14 199v1M14 203v1M15 0v3M15 5v2M15 8v1M15 10v3M15 14v4M15 19v1M15 21v3M15 25v1M15 30v1M15 32v1M15 36v4M15 42v1M15 45v1M15 53v1M15 56v2M15 61v1M15 63v1M15 76v1M15 79v1M15 110v1M15 112v1M15 119v3M15 127v1M15 129v1M15 131v1M15 136v3M15 141v1M15 146v1M15 148v1M15 153v1M15 161v1M15 164v3M15 174v2M15 178v1M15 182v1M15 184v1M15 186v1M15 190v1M15 192v1M15 200v2M15 204v1M15 206v1M16 29v1M16 42v2M16 49v1M16 69v1M16 80v1M16 112v1M16 114v1M16 118v1M16 130v1M16 141v1M16 144v1M16 148v1M16 156v1M16 162v1M16 164v1M16 172v1M16 175v1M16 183v3M16 190v3M16 197v1M16 199v1M17 127v2M17 131v1M17 134v1M17 138v1M17 142v1M17 147v1M17 159v2M17 164v1M17 166v1M17 168v1M17 171v2M17 179v2M17 184v1M17 188v1M17 193v1M17 197v1M17 203v1M18 1v1M18 19v3M18 28v1M18 32v2M18 41v2M18 44v1M18 50v1M18 62v1M18 64v3M18 71v2M18 75v1M18 77v1M18 79v4M18 84v1M18 87v1M18 91v1M18 93v2M18 100v1M18 102v2M18 105v1M18 107v2M18 114v1M18 117v1M18 122v1M18 130v1M18 135v1M18 137v2M18 142v1M18 150v1M18 156v1M18 162v1M18 164v1M18 167v2M18 171v1M18 173v1M18 181v1M18 183v1M18 189v1M18 192v1M18 194v3M18 198v1M18 205v1M19 115v2M19 120v1M19 122v2M19 134v1M19 141v5M19 147v3M19 156v2M19 159v1M19 161v1M19 167v1M19 169v1M19 172v1M19 176v1M19 180v2M19 185v1M19 188v1M19 190v1M19 196v1M19 203v1M19 205v2M20 112v1M20 120v1M20 130v2M20 141v2M20 150v1M20 155v2M20 161v1M20 164v1M20 180v1M20 186v2M20 190v1M20 192v1M21 3v2M21 6v1M21 8v1M21 11v1M21 15v2M21 18v2M21 22v1M21 25v5M21 32v2M21 35v5M21 41v1M21 43v1M21 45v1M21 48v1M21 51v3M21 56v1M21 58v10M21 69v8M21 78v3M21 83v1M21 85v1M21 87v5M21 96v5M21 107v1M21 115v1M21 140v1M21 147v1M21 165v1M21 172v1M21 180v2M21 186v1M21 197v2M21 201v4M22 1v1M22 81v1M22 93v1M22 105v1M22 108v1M22 111v2M22 126v2M22 130v1M22 132v1M22 141v1M22 143v2M22 149v1M22 158v1M22 168v1M22 172v1M22 203v1M23 21v1M23 34v1M23 43v1M23 106v1M23 108v3M23 115v1M23 121v2M23 124v1M23 127v4M23 132v1M23 135v1M23 138v3M23 145v1M23 155v3M23 163v1M23 179v4M23 188v1M23 193v1M23 199v1M23 202v2M24 37v1M24 74v1M24 133v1M24 142v1M24 145v1M24 163v1M24 165v1M24 168v1M24 170v1M24 172v1M24 180v2M24 185v1M24 190v1M24 197v1M24 203v1M24 206v1M25 73v1M25 87v1M25 112v1M25 119v1M25 124v1M25 127v1M25 129v1M25 133v2M25 136v1M25 147v2M25 150v1M25 154v1M25 162v1M25 168v2M25 175v1M25 186v1M25 189v2M25 195v1M25 200v1M25 204v1M26 121v1M26 127v1M26 133v2M26 136v2M26 139v2M26 157v1M26 162v1M26 165v1M26 168v1M26 171v1M26 173v1M26 178v1M26 182v2M26 188v1M26 192v1M26 194v1M26 199v2M26 204v1M27 55v1M27 111v1M27 116v4M27 122v1M27 129v2M27 132v1M27 137v2M27 140v1M27 147v1M27 149v1M27 153v1M27 164v1M27 178v1M27 180v1M27 183v1M27 185v1M27 188v1M27 191v1M27 198v1M27 201v2M27 205v2M28 111v1M28 115v2M28 131v1M28 133v1M28 164v1M28 176v1M28 180v1M28 186v1M28 197v1M28 199v1M28 201v1M28 205v1M29 5v1M29 28v1M29 30v1M29 37v1M29 42v1M29 48v1M29 56v1M29 66v1M29 71v2M29 74v2M29 77v1M29 82v1M29 88v1M29 90v1M29 94v3M29 99v2M29 103v1M29 105v1M29 133v1M29 157v1M29 163v1M29 168v1M29 171v1M29 173v1M29 175v1M29 177v1M29 189v1M29 202v1M29 206v1M30 78v1M30 110v1M30 112v1M30 118v1M30 122v1M30 124v2M30 132v1M30 135v1M30 149v1M30 166v2M30 169v1M30 171v1M30 173v1M30 177v1M30 182v1M30 185v1M30 193v1M31 9v1M31 62v1M31 95v1M31 97v1M31 104v1M31 108v3M31 112v1M31 115v1M31 121v2M31 124v1M31 128v4M31 136v1M31 138v1M31 152v4M31 161v3M31 168v1M31 174v4M31 180v1M31 183v1M31 187v1M31 190v2M31 193v1M31 196v1M31 201v1M32 21v1M32 45v1M32 60v1M32 69v1M32 74v1M32 76v1M32 84v1M32 86v1M32 98v1M32 101v1M32 118v1M32 125v1M32 130v1M32 133v2M32 136v1M32 138v1M32 140v1M32 143v1M32 146v2M32 149v2M32 155v2M32 159v1M32 164v4M32 180v2M32 188v3M32 192v2M32 196v1M32 199v1M32 201v1M33 9v2M33 13v1M33 17v1M33 20v4M33 25v3M33 29v1M33 31v4M33 36v1M33 38v1M33 41v5M33 47v2M33 51v7M33 59v2M33 62v1M33 65v1M33 67v1M33 69v2M33 73v1M33 76v2M33 83v1M33 88v1M33 98v1M33 104v1M33 107v2M33 117v1M33 120v2M33 123v1M33 126v1M33 128v1M33 133v1M33 146v2M33 150v2M33 153v1M33 162v1M33 164v2M33 168v1M33 171v2M33 177v1M33 182v1M33 185v1M33 188v1M33 201v4M34 22v1M34 115v1M34 126v1M34 139v1M34 168v1M34 175v2M34 182v1M34 190v3M34 194v5M34 201v2M35 7v1M35 15v2M35 34v3M35 45v1M35 47v1M35 52v2M35 56v1M35 63v1M35 65v1M35 67v2M35 72v1M35 77v2M35 80v3M35 84v2M35 88v1M35 91v1M35 95v6M35 102v1M35 105v1M35 107v2M35 114v2M35 118v1M35 120v1M35 124v1M35 127v1M35 130v2M35 134v2M35 138v1M35 142v1M35 148v1M35 156v1M35 159v3M35 167v4M35 173v2M35 177v2M35 185v1M35 196v1M35 206v1M36 47v1M36 111v1M36 116v2M36 122v1M36 124v1M36 129v1M36 143v2M36 149v1M36 152v1M36 175v1M36 184v1M36 196v1M37 27v1M37 30v1M37 67v1M37 73v1M37 88v1M37 93v1M37 95v1M37 110v1M37 112v1M37 121v1M37 126v1M37 139v2M37 150v1M37 152v2M37 155v2M37 162v2M37 166v2M37 172v2M37 181v1M37 192v1M37 198v2M37 201v1M38 4v1M38 29v1M38 42v1M38 63v1M38 65v1M38 69v1M38 84v3M38 92v1M38 98v1M38 105v2M38 138v1M38 148v1M38 154v2M38 158v2M38 173v1M38 176v1M38 181v1M38 186v1M38 194v1M38 201v1M38 203v1M38 206v1M39 115v1M39 118v1M39 129v1M39 142v1M39 148v1M39 150v1M39 152v1M39 156v1M39 162v1M39 164v2M39 176v1M39 182v3M39 187v2M39 191v1M39 193v3M39 198v1M39 201v1M39 203v1M40 50v1M40 108v2M40 111v3M40 115v2M40 122v2M40 125v2M40 131v1M40 134v1M40 136v1M40 148v2M40 152v1M40 154v2M40 157v1M40 162v2M40 168v1M40 172v1M40 179v1M40 182v1M40 185v1M40 190v1M40 193v1M40 195v1M40 201v1M40 203v1M41 46v1M41 67v1M41 88v1M41 99v2M41 102v2M41 116v1M41 118v1M41 125v1M41 130v1M41 133v1M41 136v1M41 148v1M41 161v1M41 165v6M41 177v1M41 182v1M41 202v1M41 205v1M42 1v1M42 8v2M42 12v1M42 18v1M42 23v1M42 27v2M42 30v1M42 33v3M42 38v1M42 40v2M42 45v4M42 52v1M42 54v3M42 59v1M42 61v2M42 64v3M42 68v2M42 71v7M42 80v4M42 88v2M42 91v1M42 93v1M42 97v3M42 102v1M42 104v3M42 115v1M42 139v1M42 150v2M42 164v1M42 167v1M42 169v1M42 173v1M42 180v2M42 186v1M42 194v2M42 197v2M42 200v1M42 205v1M43 35v1M43 42v1M43 54v1M43 75v1M43 98v1M43 100v1M43 105v2M43 110v1M43 114v2M43 118v2M43 123v1M43 131v1M43 136v1M43 145v2M43 150v1M43 153v2M43 158v1M43 160v1M43 166v1M43 169v2M43 172v1M43 175v2M43 181v1M43 190v1M43 197v1M43 199v1M44 110v1M44 113v1M44 115v1M44 125v2M44 129v1M44 131v1M44 139v1M44 147v3M44 151v3M44 157v2M44 160v4M44 169v1M44 174v6M44 185v1M44 196v1M44 198v1M44 202v2M45 7v1M45 30v1M45 32v1M45 46v1M45 55v3M45 62v1M45 68v3M45 75v1M45 77v1M45 86v2M45 92v1M45 95v1M45 102v1M45 106v1M45 108v2M45 111v1M45 113v3M45 117v2M45 121v4M45 126v4M45 131v2M45 134v2M45 137v2M45 140v1M45 142v1M45 144v2M45 148v4M45 153v1M45 155v3M45 159v3M45 163v2M45 166v7M45 174v3M45 178v3M45 182v14M45 198v3M45 202v2M45 206v1M46 25v2M46 53v1M46 75v2M46 78v1M46 80v1M46 86v3M46 101v2M46 122v1M46 124v1M46 131v2M46 135v1M46 157v1M46 161v1M46 165v1M46 171v1M46 174v1M46 182v4M47 38v1M47 44v1M47 70v1M47 85v1M47 89v1M47 96v1M47 150v1M47 161v1M47 197v1M48 75v2M48 79v1M48 91v1M48 103v1M48 106v1M48 122v1M48 191v1M49 3v1M49 5v1M49 10v1M49 15v2M49 18v1M49 26v1M49 28v1M49 37v1M49 44v2M49 53v1M49 66v3M49 70v2M49 76v1M49 78v1M49 80v2M49 86v1M49 91v1M49 95v1M49 99v1M49 105v1M49 107v1M50 2v1M50 7v2M50 18v2M50 22v1M50 25v1M50 31v1M50 37v1M50 58v2M50 71v1M50 74v1M50 76v1M50 78v1M50 80v1M50 82v2M50 89v2M50 99v1M50 101v1M50 105v2M50 115v1M50 119v2M50 150v1M50 173v1M50 181v1M50 194v1M50 206v1M51 2v1M51 9v1M51 11v1M51 14v1M51 22v1M51 26v2M51 37v1M51 41v1M51 43v1M51 46v1M51 53v1M51 58v1M51 66v2M51 70v1M51 76v1M51 80v1M51 84v1M51 89v1M51 91v1M51 95v4M51 102v1M51 104v1M51 106v1M51 137v1M51 194v1M52 55v1M52 58v1M52 80v1M52 83v1M52 88v1M52 93v1M52 97v1M52 100v2M52 105v3M52 109v2M52 112v8M52 121v2M52 126v4M52 131v1M52 134v1M52 136v2M52 139v3M52 143v7M52 152v3M52 157v8M52 166v5M52 172v9M52 182v5M52 188v8M52 197v3M52 201v1M52 203v4M53 13v1M53 38v1M53 47v1M53 56v2M53 59v1M53 66v1M53 72v2M53 75v1M53 83v2M53 90v1M53 92v1M53 99v1M53 123v1M53 149v1M53 184v1M53 189v1M53 193v1M54 0v1M54 2v1M54 15v1M54 19v1M54 26v1M54 33v1M54 39v1M54 45v1M54 52v1M54 57v1M54 60v2M54 69v1M54 73v1M54 78v2M54 84v1M54 86v1M54 90v2M54 93v1M54 99v2M54 103v1M54 106v1M54 156v1M54 165v1M54 194v1M55 0v1M55 14v3M55 18v3M55 22v1M55 28v2M55 31v2M55 34v2M55 38v1M55 41v2M55 49v1M55 51v3M55 57v2M55 62v1M55 66v3M55 73v2M55 79v1M55 83v1M55 86v1M55 89v2M55 96v1M55 98v1M55 107v1M55 133v1M55 195v1M55 206v1M56 2v1M56 29v1M56 45v1M56 47v1M56 56v1M56 70v1M56 75v1M56 80v1M56 85v2M56 91v2M56 97v1M56 103v1M56 109v1M56 120v1M56 128v1M56 143v1M56 152v1M56 154v1M56 157v1M56 163v1M56 168v1M56 172v1M56 180v1M56 186v1M56 190v1M57 32v1M57 49v1M57 52v1M57 57v1M57 59v1M57 61v1M57 67v1M57 96v1M57 100v1M57 104v1M57 107v1M57 129v1M57 133v1M57 144v1M57 182v1M57 187v1M58 60v1M58 71v1M58 79v1M58 84v1M58 88v1M58 92v1M58 95v2M58 98v1M58 101v1M59 60v1M59 73v1M59 82v1M59 84v1M59 90v1M59 93v1M59 96v1M59 102v1M59 106v1M59 114v1M59 120v1M59 126v2M59 129v1M59 140v1M59 143v1M59 146v2M59 152v1M59 158v1M59 171v1M59 182v1M59 191v1M60 7v1M60 56v2M60 60v1M60 63v1M60 66v1M60 72v2M60 78v1M60 80v2M60 84v1M60 86v1M60 88v1M60 93v1M60 101v1M60 103v1M60 105v1M61 0v1M61 5v1M61 17v1M61 20v1M61 23v1M61 25v1M61 28v2M61 50v1M61 54v2M61 62v1M61 68v1M61 70v1M61 72v2M61 75v1M61 81v1M61 93v1M62 4v1M62 15v1M62 19v2M62 24v1M62 32v1M62 34v1M62 37v1M62 39v2M62 42v1M62 45v2M62 48v1M62 51v1M62 56v2M62 59v1M62 67v1M62 71v1M62 73v3M62 77v2M62 83v3M62 92v3M62 97v1M62 102v3M62 107v1M62 114v1M62 127v1M62 135v1M62 149v3M62 156v1M62 162v1M62 168v1M62 173v1M62 201v1M63 12v1M63 41v1M63 55v1M63 57v1M63 63v1M63 76v1M63 81v1M63 91v1M63 107v1M64 0v1M64 2v3M64 7v1M64 12v1M64 18v1M64 21v2M64 24v1M64 27v1M64 34v3M64 38v1M64 46v1M64 56v2M64 59v2M64 65v1M64 68v1M64 71v2M64 78v2M64 84v1M64 90v1M64 96v2M64 101v1M64 153v1M64 176v1M64 187v1M65 58v1M65 69v1M65 76v1M65 86v1M65 89v3M65 94v1M65 102v1M65 105v1M65 107v1M65 109v4M65 114v2M65 117v1M65 119v3M65 123v1M65 125v3M65 129v2M65 132v3M65 136v5M65 143v1M65 147v2M65 150v4M65 156v8M65 165v5M65 172v2M65 176v1M65 179v3M65 183v2M65 187v2M65 190v4M65 197v1M65 200v2M65 203v4M66 39v1M66 51v1M66 59v3M66 65v1M66 67v1M66 84v2M66 97v1M66 99v1M66 101v1M66 103v1M66 105v1M66 108v1M66 114v1M66 116v2M66 123v1M66 126v1M66 129v2M66 137v1M66 150v1M66 153v1M66 155v2M66 162v1M66 166v1M66 168v1M66 173v2M66 184v1M66 186v1M66 191v1M66 199v1M66 202v1M66 205v2M67 4v1M67 9v2M67 15v1M67 18v1M67 23v2M67 29v1M67 33v3M67 37v1M67 41v2M67 44v1M67 51v2M67 55v1M67 69v2M67 72v2M67 75v7M67 92v1M67 94v1M67 96v1M67 101v1M67 103v3M67 107v3M67 111v2M67 114v3M67 122v1M67 124v3M67 128v3M67 135v1M67 137v5M67 143v2M67 148v1M67 150v1M67 153v1M67 157v8M67 166v1M67 168v1M67 170v3M67 174v1M67 177v2M67 180v1M67 182v2M67 188v2M67 191v1M67 193v7M67 201v4M68 3v1M68 21v1M68 23v1M68 26v1M68 37v1M68 40v1M68 48v2M68 51v1M68 53v1M68 58v2M68 61v1M68 65v1M68 68v1M68 75v1M68 79v1M68 83v1M68 85v1M68 89v1M68 94v1M68 98v1M68 101v2M68 105v3M68 112v1M68 125v1M68 136v1M68 149v1M68 197v1M69 64v1M69 73v1M69 75v1M69 96v1M69 98v2M69 104v1M69 115v1M70 3v1M70 8v1M70 16v3M70 20v1M70 33v2M70 40v1M70 42v1M70 48v1M70 51v1M70 53v3M70 60v1M70 67v1M70 70v2M70 74v1M70 79v1M70 82v1M70 85v3M70 94v1M70 96v1M70 102v1M70 106v1M70 123v1M71 77v1M71 79v1M71 88v1M71 97v1M71 106v1M72 6v1M72 16v1M72 41v1M72 47v1M72 54v1M72 59v2M72 64v1M72 73v1M72 75v1M72 79v1M72 82v1M72 96v1M72 100v1M72 103v2M72 106v2M72 114v1M72 117v1M72 122v2M72 132v4M72 141v1M72 143v1M72 145v4M72 158v1M72 161v3M72 165v1M72 170v2M72 174v1M72 183v1M72 186v3M72 200v2M72 206v1M73 25v1M73 48v1M73 56v1M73 79v1M73 82v2M73 86v1M73 89v1M73 92v1M73 98v1M73 102v1M73 104v1M73 132v1M74 48v1M74 51v1M74 62v1M74 78v1M74 85v1M74 94v1M74 104v1M74 108v1M74 110v17M74 128v1M74 130v1M74 132v2M74 135v4M74 140v16M74 158v1M74 160v5M74 166v1M74 168v3M74 172v1M74 174v6M74 181v6M74 188v4M74 193v3M74 197v1M74 200v1M74 202v2M74 205v2M75 0v2M75 12v1M75 18v1M75 20v1M75 29v1M75 31v1M75 34v1M75 38v1M75 40v1M75 42v1M75 49v1M75 51v1M75 67v1M75 76v1M75 80v1M75 87v1M75 90v1M75 92v2M75 99v1M75 106v1M75 181v1M76 3v2M76 10v1M76 18v1M76 30v1M76 32v1M76 35v2M76 39v1M76 43v1M76 47v2M76 53v2M76 68v1M76 73v1M76 75v1M76 77v2M76 81v1M76 84v1M76 86v3M76 94v3M76 100v1M76 104v3M76 109v2M76 114v2M76 118v3M76 122v4M76 130v1M76 133v1M76 136v2M76 139v1M76 141v2M76 144v4M76 149v6M76 160v1M76 162v1M76 164v1M76 168v2M76 171v2M76 174v3M76 179v1M76 181v1M76 183v7M76 195v2M76 198v3M76 202v3M76 206v1M77 3v1M77 8v2M77 11v1M77 14v2M77 17v1M77 38v1M77 48v1M77 67v2M77 71v1M77 80v1M77 84v1M77 89v2M77 92v1M77 97v1M77 100v2M77 103v1M77 106v1M78 55v1M78 63v1M78 78v1M78 84v1M78 90v1M78 98v1M78 105v1M78 107v4M78 113v1M78 115v1M78 118v1M78 120v2M78 125v3M78 130v1M78 132v1M78 134v1M78 136v1M78 139v2M78 144v3M78 148v2M78 152v1M78 156v4M78 161v1M78 163v5M78 169v2M78 174v1M78 176v1M78 178v6M78 185v1M78 189v3M78 194v6M78 201v2M78 205v2M79 22v1M79 33v1M79 43v1M79 50v1M79 53v2M79 56v1M79 69v1M79 71v1M79 74v1M79 76v2M79 82v3M79 88v1M79 90v1M79 93v1M79 103v1M79 105v1M79 107v1M79 110v1M79 112v2M79 115v1M79 117v2M79 121v2M79 124v1M79 126v1M79 128v2M79 131v1M79 133v1M79 135v1M79 137v2M79 140v2M79 145v2M79 148v3M79 153v2M79 156v1M79 159v1M79 161v2M79 165v1M79 167v1M79 170v3M79 176v5M79 182v1M79 184v1M79 186v1M79 188v8M79 198v5M79 205v1M80 36v1M80 45v1M80 48v1M80 53v1M80 58v1M80 60v1M80 62v1M80 79v1M80 85v1M80 87v1M80 91v1M80 97v1M80 101v2M80 104v1M81 2v1M81 5v1M81 10v2M81 13v1M81 18v1M81 24v2M81 27v2M81 36v1M81 40v2M81 44v1M81 58v1M81 63v1M81 66v1M81 68v1M81 83v1M81 94v1M81 104v1M81 107v1M82 2v2M82 5v1M82 11v1M82 33v1M82 38v1M82 41v2M82 44v1M82 51v1M82 56v1M82 61v1M82 65v1M82 67v1M82 71v1M82 73v1M82 78v1M82 87v1M82 92v1M82 97v1M82 99v1M82 102v1M82 104v1M82 106v1M82 108v8M82 118v1M82 122v1M82 124v4M82 129v1M82 131v1M82 133v9M82 143v3M82 147v1M82 149v1M82 151v2M82 154v6M82 161v1M82 163v3M82 167v5M82 173v1M82 175v1M82 177v1M82 180v9M82 190v4M82 195v1M82 197v3M82 201v1M82 205v2M83 41v1M83 53v1M83 58v1M83 61v1M83 73v1M83 75v1M83 77v1M83 85v1M83 90v2M83 94v2M83 97v2M83 107v1M83 110v1M83 113v1M83 117v3M83 135v1M83 146v2M83 183v1M83 190v1M83 197v1M83 203v2M84 6v1M84 11v1M84 14v1M84 16v1M84 20v1M84 24v1M84 32v1M84 39v1M84 41v1M84 51v1M84 54v1M84 62v1M84 64v1M84 69v2M84 73v1M84 76v2M84 83v1M84 88v1M84 93v2M84 99v1M84 101v4M84 107v1M84 110v2M84 113v1M84 115v2M84 118v1M84 121v1M84 125v1M84 128v1M84 130v4M84 135v2M84 141v1M84 144v2M84 150v2M84 161v1M84 173v2M84 176v2M84 181v1M84 186v1M84 189v1M84 191v1M84 195v1M84 204v1M85 37v1M85 58v1M85 80v1M85 82v1M85 90v1M85 97v1M85 99v1M85 105v2M85 108v1M85 110v2M85 113v1M85 115v1M85 117v1M85 119v11M85 131v1M85 133v1M85 137v5M85 143v3M85 147v8M85 156v2M85 159v1M85 161v3M85 168v1M85 170v1M85 174v4M85 179v2M85 182v1M85 185v3M85 189v1M85 191v6M85 198v1M85 200v2M85 203v2M85 206v1M86 0v1M86 7v1M86 11v1M86 16v1M86 29v2M86 32v1M86 34v1M86 36v3M86 42v1M86 46v1M86 48v1M86 58v1M86 60v1M86 70v2M86 75v1M86 86v2M86 93v1M86 107v3M86 111v1M86 114v1M86 118v6M86 125v1M86 127v3M86 131v1M86 133v3M86 138v1M86 140v1M86 142v2M86 145v5M86 151v1M86 153v2M86 156v1M86 158v1M86 160v4M86 165v3M86 169v2M86 172v1M86 174v5M86 180v1M86 183v2M86 187v1M86 189v1M86 193v1M86 196v1M86 199v1M86 201v1M86 205v2M87 50v1M87 62v1M87 65v1M87 90v2M87 95v1M87 98v2M87 102v1M87 106v2M87 111v1M87 120v1M87 129v1M87 144v2M87 177v1M87 192v2M87 198v1M87 203v1M87 206v1" stroke="#625e7c"/>
<path d="M0 109v1M0 122v1M0 125v1M0 185v1M0 201v1M1 2v3M1 10v1M1 14v1M1 18v1M1 21v3M1 25v1M1 30v5M1 36v3M1 41v6M1 50v2M1 54v1M1 56v2M1 59v4M1 65v1M1 68v2M1 72v2M1 76v1M1 80v1M1 83v1M1 85v1M1 88v1M1 90v1M1 118v1M1 122v1M1 124v1M1 126v1M1 134v1M1 141v2M1 152v1M1 155v1M1 164v2M1 167v2M1 170v1M1 177v1M1 181v1M1 185v1M1 187v1M1 189v1M1 191v2M1 196v1M1 202v1M1 204v3M2 52v1M2 59v1M2 77v1M2 83v1M2 98v1M2 106v1M2 109v2M2 114v1M2 120v1M2 126v1M2 133v2M2 144v1M2 146v1M2 150v1M2 155v2M2 160v1M2 165v1M2 172v1M2 178v1M2 182v1M2 191v1M3 64v1M3 108v2M3 113v5M3 119v1M3 127v1M3 131v2M3 134v1M3 138v1M3 143v2M3 153v2M3 157v1M3 168v1M3 171v3M3 176v1M3 179v1M3 182v1M3 186v1M3 195v3M4 100v1M4 122v1M4 182v1M4 201v1M5 29v1M5 55v1M5 110v2M5 115v2M5 121v1M5 123v2M5 127v1M5 132v1M5 134v1M5 138v1M5 142v1M5 150v1M5 152v1M5 155v1M5 157v1M5 165v1M5 169v2M5 176v2M5 182v1M5 185v1M5 196v1M5 200v1M6 114v2M6 119v2M6 123v3M6 133v1M6 136v1M6 144v1M6 152v1M6 159v2M6 168v1M6 170v1M6 173v1M6 177v1M6 181v2M6 189v1M6 191v1M6 198v1M6 200v1M6 206v1M7 47v1M7 110v1M7 119v2M7 149v1M7 152v1M7 159v1M7 168v1M7 182v1M7 195v1M8 3v1M8 6v1M8 13v1M8 16v1M8 20v2M8 32v1M8 34v3M8 40v2M8 44v4M8 52v2M8 56v1M8 58v2M8 61v1M8 63v1M8 65v1M8 68v1M8 72v3M8 76v2M8 81v1M8 86v1M8 111v1M8 113v1M8 118v1M8 123v1M8 127v1M8 133v1M8 138v1M8 140v1M8 148v1M8 194v1M8 205v1M9 101v1M9 151v1M9 177v1M9 202v1M10 1v1M10 109v6M10 117v1M10 119v1M10 121v1M10 123v1M10 127v1M10 131v1M10 134v1M10 140v1M10 143v1M10 146v1M10 149v1M10 152v1M10 154v1M10 159v1M10 161v1M10 164v1M10 186v1M10 195v2M10 205v1M11 51v1M11 60v2M11 69v1M11 73v1M11 76v4M11 82v1M11 84v2M11 87v3M11 94v3M11 99v3M11 103v5M11 125v1M11 138v1M11 144v1M11 159v1M11 180v1M11 182v1M11 187v1M11 193v1M11 198v1M12 16v1M12 18v1M12 26v1M12 43v1M12 49v1M12 52v7M12 61v3M12 65v3M12 69v1M12 72v3M12 76v3M12 80v5M12 86v5M12 95v1M12 97v1M12 99v2M12 102v2M12 106v1M12 118v2M12 122v1M12 126v1M12 128v1M12 132v1M12 135v1M12 137v2M12 142v1M12 145v1M12 148v1M12 155v1M12 159v1M12 161v1M12 166v1M12 175v1M12 183v1M12 190v1M13 38v1M13 40v2M13 66v1M13 68v1M13 77v1M13 79v1M13 87v1M13 92v1M13 96v1M13 98v1M13 101v4M13 106v1M13 111v3M13 115v1M13 117v1M13 119v1M13 122v2M13 127v1M13 129v2M13 132v1M13 135v1M13 138v1M13 140v1M13 142v2M13 149v2M13 157v1M13 160v2M13 170v1M13 173v2M13 177v1M13 180v2M13 198v2M14 76v1M14 93v1M14 104v1M14 117v1M14 119v1M14 121v2M14 127v1M14 131v2M14 140v2M14 143v1M14 146v1M14 151v1M14 160v1M14 162v1M14 165v1M14 168v2M14 172v1M14 175v1M14 180v2M14 185v1M14 188v1M14 190v1M14 195v2M14 198v1M14 201v1M14 205v1M15 7v1M15 18v1M15 20v1M15 24v1M15 26v4M15 31v1M15 33v3M15 40v2M15 43v2M15 46v7M15 54v2M15 58v3M15 64v12M15 77v2M15 80v1M15 82v1M15 85v1M15 87v5M15 97v1M15 99v1M15 104v1M15 109v1M15 111v1M15 113v1M15 115v1M15 117v2M15 122v2M15 125v2M15 128v1M15 130v1M15 133v2M15 163v1M15 169v1M15 179v2M15 188v1M15 191v1M15 193v1M16 38v1M16 113v1M16 149v1M16 205v1M17 28v1M17 111v1M17 113v1M17 118v1M17 145v1M17 158v1M17 162v1M17 199v2M18 90v1M18 104v1M18 134v1M18 148v1M18 172v1M18 193v1M18 206v1M19 109v1M19 111v1M19 113v1M19 125v2M19 133v1M19 138v1M19 146v1M19 150v1M19 163v1M19 168v1M19 170v1M19 174v1M19 177v3M19 192v1M19 199v1M19 204v1M20 128v1M20 165v1M20 172v1M20 181v1M20 184v1M20 194v1M20 205v1M21 34v1M21 47v1M21 68v1M21 81v2M21 86v1M21 92v1M21 94v1M21 101v6M21 108v1M21 131v1M21 143v1M21 145v1M21 148v1M21 154v1M21 156v1M21 160v1M21 164v1M21 167v1M21 169v3M21 173v1M21 175v2M21 184v1M21 187v2M21 190v1M21 192v2M21 199v1M22 48v1M22 61v1M22 133v1M22 163v1M22 192v1M22 199v1M23 52v1M23 112v2M23 120v1M23 126v1M23 136v1M23 142v1M23 144v1M23 149v2M23 158v1M23 164v2M23 167v1M23 172v1M23 174v2M23 186v1M23 189v1M23 192v1M24 111v1M24 114v1M24 124v1M24 126v1M24 130v2M24 146v2M24 149v1M24 153v1M24 155v2M24 164v1M24 166v2M24 169v1M24 171v1M24 174v3M24 179v1M24 183v2M24 186v1M24 191v1M24 195v2M24 204v2M25 142v1M25 144v1M25 161v1M25 166v1M25 176v1M25 179v2M25 192v1M25 206v1M26 103v1M26 110v1M26 114v1M26 116v3M26 123v1M26 131v2M26 135v1M26 141v4M26 147v5M26 156v1M26 158v1M26 161v1M26 166v1M26 175v1M26 177v1M26 185v3M26 196v2M27 105v1M27 108v2M27 112v2M27 124v1M27 126v1M27 133v1M27 141v2M27 145v1M27 158v1M27 161v1M27 165v2M27 169v1M27 173v1M27 176v1M27 179v1M27 182v1M27 192v1M27 194v1M28 74v1M28 144v1M28 203v1M29 114v1M29 116v1M29 123v1M29 126v1M29 131v1M29 134v1M29 140v2M29 145v1M29 147v1M29 150v1M29 158v2M29 165v2M29 170v1M29 172v1M29 174v1M29 179v1M29 182v1M29 185v2M29 191v1M29 203v1M30 119v1M30 123v1M30 128v1M30 153v1M30 204v1M31 81v1M31 111v1M31 114v1M31 116v4M31 123v1M31 125v1M31 127v1M31 132v3M31 137v1M31 141v3M31 148v2M31 186v1M31 188v1M31 194v1M31 198v1M31 205v1M32 108v1M32 110v1M32 112v2M32 116v2M32 120v1M32 123v2M32 126v1M32 129v1M32 131v1M32 145v1M32 148v1M32 153v1M32 157v1M32 163v1M32 176v1M32 182v3M32 195v1M32 200v1M32 205v1M33 3v1M33 39v2M33 46v1M33 49v2M33 58v1M33 61v1M33 63v2M33 66v1M33 68v1M33 72v1M33 74v2M33 78v5M33 84v4M33 89v9M33 99v1M33 101v3M33 105v1M33 109v3M33 115v2M33 118v1M33 122v1M33 135v3M33 142v3M33 148v1M33 160v1M33 163v1M33 173v2M33 179v1M33 183v1M33 187v1M33 198v1M34 47v1M34 59v1M34 69v1M34 119v2M34 145v1M34 148v2M34 151v1M34 155v1M34 157v1M34 160v1M34 163v2M34 169v2M34 173v2M34 180v1M34 183v1M34 186v1M34 188v1M34 199v1M34 206v1M35 104v1M35 109v1M35 111v1M35 117v1M35 119v1M35 125v1M35 128v1M35 132v2M35 136v1M35 139v1M35 145v2M35 158v1M35 162v1M35 166v1M35 176v1M35 181v2M35 184v1M35 192v2M35 195v1M35 198v2M35 201v1M36 126v1M36 137v1M36 139v1M36 146v1M36 157v1M36 164v1M36 174v1M36 178v1M36 186v1M36 194v1M37 113v3M37 117v2M37 122v1M37 124v1M37 127v1M37 132v1M37 135v2M37 144v3M37 148v1M37 154v1M37 159v1M37 169v1M37 176v4M37 184v1M37 188v2M37 197v1M37 202v1M38 119v1M38 134v1M38 145v1M38 152v2M38 156v1M38 160v1M38 163v1M38 165v1M38 169v1M38 174v2M38 177v1M38 182v1M38 189v1M38 192v1M38 195v1M38 197v4M38 204v2M39 111v1M39 113v1M39 123v1M39 132v1M39 134v1M39 137v1M39 139v2M39 143v2M39 153v1M39 155v1M39 161v1M39 166v1M39 171v1M39 173v3M39 179v2M39 185v1M39 196v1M39 199v1M39 204v1M39 206v1M40 5v1M40 57v1M40 121v1M40 127v2M40 135v1M40 140v1M40 143v1M40 156v1M40 178v1M40 188v1M41 48v1M41 127v1M41 164v1M42 6v1M42 78v1M42 84v1M42 86v2M42 90v1M42 94v1M42 96v1M42 100v1M42 103v1M42 107v1M42 116v1M42 120v3M42 126v1M42 128v4M42 137v1M42 140v1M42 142v1M42 149v1M42 154v3M42 158v1M42 162v2M42 168v1M42 171v2M42 176v4M42 182v2M42 189v1M42 191v3M42 201v1M42 204v1M42 206v1M43 126v2M43 144v1M43 152v1M43 159v1M43 164v1M43 173v1M43 184v1M44 109v1M44 112v1M44 117v1M44 120v1M44 134v3M44 141v1M44 144v1M44 159v1M44 166v1M44 187v1M44 192v1M44 206v1M45 5v1M45 9v1M45 12v2M45 16v2M45 22v1M45 25v1M45 35v1M45 38v4M45 43v3M45 48v7M45 59v1M45 65v2M45 71v1M45 73v2M45 79v4M45 84v1M45 93v1M45 97v1M45 103v1M45 105v1M45 119v2M45 125v1M45 133v1M45 143v1M45 152v1M45 154v1M45 173v1M45 177v1M45 181v1M46 9v1M46 13v2M46 16v1M46 18v2M46 24v1M46 34v1M46 40v1M46 43v1M46 47v1M46 54v2M46 57v1M46 59v1M46 63v1M46 66v1M46 70v2M46 73v1M46 79v1M46 81v1M46 89v1M46 92v4M46 98v1M46 100v1M46 103v2M46 108v12M46 125v1M46 127v2M46 130v1M46 133v2M46 136v9M46 146v3M46 150v7M46 158v3M46 163v2M46 166v1M46 169v2M46 172v2M46 175v7M46 186v5M46 192v2M46 195v7M46 203v1M46 205v1M47 8v1M47 39v1M47 53v1M47 58v1M47 64v3M47 68v2M47 74v4M47 80v2M47 84v1M47 86v1M47 88v1M47 90v2M47 94v1M47 98v3M47 102v1M47 166v1M48 3v1M48 31v1M48 36v1M48 47v1M48 54v1M48 59v1M48 66v1M48 72v3M48 80v1M48 85v1M48 88v2M48 93v1M48 96v1M48 104v1M48 201v1M49 0v1M49 2v1M49 4v1M49 9v1M49 17v1M49 23v2M49 27v1M49 39v1M49 46v2M49 49v1M49 51v1M49 54v1M49 62v1M49 64v1M49 79v1M49 88v2M49 94v1M49 97v2M49 101v1M49 104v1M50 1v1M50 4v2M50 11v1M50 13v2M50 17v1M50 26v1M50 33v1M50 40v2M50 44v3M50 48v1M50 51v1M50 53v1M50 56v1M50 62v2M50 70v1M50 77v1M50 81v1M50 85v2M50 94v2M50 97v1M50 103v1M50 187v1M51 0v1M51 5v1M51 12v2M51 21v1M51 23v1M51 29v1M51 32v1M51 38v1M51 42v1M51 44v1M51 50v1M51 52v1M51 55v1M51 57v1M51 60v1M51 62v3M51 68v1M51 72v2M51 75v1M51 77v3M51 81v1M51 90v1M51 93v1M51 101v1M51 105v1M51 107v1M52 4v1M52 8v2M52 26v1M52 31v1M52 33v1M52 42v1M52 49v1M52 53v2M52 74v2M52 79v1M52 86v2M52 89v1M52 91v1M52 96v1M52 98v2M52 102v3M52 111v1M52 123v1M52 130v1M52 132v2M52 142v1M52 151v1M52 155v2M52 165v1M52 200v1M53 7v1M53 17v1M53 25v1M53 29v1M53 33v1M53 42v1M53 45v1M53 48v1M53 58v1M53 60v1M53 64v2M53 68v1M53 74v1M53 80v2M53 86v1M53 89v1M53 93v1M53 95v1M53 98v1M53 100v6M54 6v1M54 10v1M54 12v1M54 40v1M54 66v1M54 70v1M54 74v1M55 3v1M55 9v1M55 12v1M55 17v1M55 26v2M55 46v1M55 48v1M55 65v1M55 69v3M55 75v3M55 80v3M55 84v2M55 88v1M55 94v1M55 97v1M55 134v1M56 0v1M56 6v1M56 20v1M56 23v3M56 30v1M56 33v1M56 49v1M56 51v1M56 57v3M56 62v1M56 64v2M56 68v2M56 79v1M56 82v1M56 84v1M56 90v1M56 101v2M56 104v1M56 106v2M57 5v1M57 10v1M57 13v1M57 22v1M57 31v1M57 35v1M57 43v1M57 53v2M57 58v1M57 62v2M57 72v1M57 76v1M57 78v1M57 80v2M57 85v3M57 91v1M57 94v1M57 97v2M57 101v1M57 205v1M58 6v1M58 28v2M58 33v2M58 38v1M58 42v1M58 45v1M58 54v1M58 58v1M58 63v1M58 69v2M58 83v1M58 86v1M58 89v1M58 91v1M58 93v1M58 97v1M58 99v2M58 102v1M58 104v1M59 22v1M59 29v1M59 41v1M59 48v2M59 54v1M59 56v1M59 59v1M59 65v3M59 69v2M59 75v3M59 83v1M59 85v1M59 92v1M59 95v1M59 97v3M59 103v1M60 21v1M60 23v1M60 30v1M60 36v1M60 50v5M60 61v1M60 67v2M60 70v2M60 75v3M60 89v1M60 91v2M60 94v1M60 96v1M60 99v1M60 102v1M60 104v1M60 106v1M60 118v1M61 2v1M61 10v1M61 21v1M61 98v1M61 106v1M61 201v1M62 0v1M62 2v1M62 6v1M62 10v2M62 16v1M62 23v1M62 26v2M62 29v1M62 36v1M62 38v1M62 43v1M62 49v1M62 52v1M62 55v1M62 62v2M62 68v2M62 72v1M62 79v1M62 82v1M62 86v2M62 89v2M62 106v1M63 44v1M63 59v2M63 62v1M63 71v1M63 73v1M63 80v1M63 82v1M63 84v1M63 86v1M63 92v1M63 94v3M63 100v2M63 105v2M64 1v1M64 11v1M64 17v1M64 25v1M64 28v1M64 40v2M64 44v2M64 52v2M64 62v1M64 73v1M64 80v2M64 98v1M64 100v1M64 147v1M65 12v1M65 18v1M65 24v1M65 50v1M65 52v1M65 54v2M65 60v1M65 66v3M65 71v1M65 73v1M65 77v1M65 80v2M65 83v1M65 87v1M65 92v2M65 95v1M65 97v1M65 108v1M65 122v1M65 128v1M65 146v1M65 155v1M65 164v1M65 186v1M65 195v2M66 3v1M66 15v1M66 19v1M66 30v1M66 35v1M66 38v1M66 43v1M66 46v1M66 54v1M66 58v1M66 62v1M66 64v1M66 71v3M66 75v1M66 83v1M66 89v1M66 93v4M66 100v1M66 102v1M66 106v1M66 160v1M67 3v1M67 6v1M67 14v1M67 16v2M67 19v1M67 25v1M67 27v1M67 31v1M67 38v1M67 45v1M67 49v1M67 53v1M67 57v1M67 59v1M67 62v1M67 68v1M67 82v1M67 89v1M67 98v1M67 123v1M67 149v1M67 175v1M67 185v1M67 192v1M68 2v1M68 6v1M68 8v1M68 18v1M68 27v1M68 32v1M68 35v2M68 43v1M68 46v1M68 50v1M68 54v1M68 56v1M68 60v1M68 64v1M68 66v1M68 71v1M68 78v1M68 80v1M68 86v3M68 91v1M68 93v1M68 96v1M68 99v1M68 103v1M69 11v1M69 32v1M69 35v1M69 58v1M69 60v1M69 62v1M69 71v2M69 74v1M69 78v1M69 91v1M69 93v2M69 101v3M69 105v3M69 151v1M69 171v1M70 1v1M70 6v1M70 9v1M70 11v2M70 15v1M70 23v1M70 29v2M70 37v1M70 41v1M70 52v1M70 57v3M70 65v2M70 68v1M70 72v2M70 88v1M70 100v2M70 104v2M71 54v1M71 56v1M71 62v1M71 64v1M71 70v1M71 76v1M71 82v1M71 86v2M71 92v2M71 98v1M71 100v1M71 102v4M71 179v1M72 2v1M72 14v2M72 26v1M72 28v1M72 32v1M72 37v2M72 49v1M72 52v1M72 63v1M72 67v1M72 70v1M72 74v1M72 84v2M72 95v1M72 98v2M72 102v1M73 15v1M73 27v1M73 33v1M73 45v1M73 57v1M73 59v1M73 67v1M73 72v2M73 76v1M73 81v1M73 88v1M73 91v1M73 95v2M73 99v3M74 10v1M74 20v1M74 35v1M74 37v2M74 45v1M74 53v1M74 55v1M74 57v2M74 61v1M74 70v1M74 74v3M74 79v2M74 90v1M74 92v1M74 95v1M74 97v3M74 101v2M74 105v1M74 131v1M74 134v1M74 139v1M74 156v1M74 204v1M75 2v1M75 6v1M75 8v1M75 15v1M75 26v1M75 30v1M75 44v1M75 58v1M75 61v1M75 70v1M75 81v1M75 91v1M75 107v1M75 142v1M76 7v1M76 9v1M76 12v1M76 14v1M76 16v1M76 20v1M76 23v1M76 29v1M76 33v1M76 38v1M76 42v1M76 45v1M76 49v2M76 58v4M76 63v2M76 69v1M76 71v1M76 79v1M76 90v1M76 93v1M76 98v1M76 103v1M76 107v2M76 116v2M76 143v1M76 155v2M76 158v1M76 178v1M76 182v1M76 194v1M77 13v1M77 21v1M77 23v4M77 30v1M77 34v3M77 39v1M77 46v2M77 51v1M77 56v1M77 58v1M77 69v1M77 72v1M77 77v1M77 81v2M77 88v1M77 96v1M77 104v1M77 194v1M77 196v1M78 0v1M78 14v1M78 26v1M78 39v2M78 49v2M78 52v2M78 59v1M78 64v3M78 69v3M78 73v2M78 80v1M78 83v1M78 85v3M78 95v1M78 101v2M78 104v1M78 117v1M79 0v1M79 11v1M79 16v1M79 24v1M79 29v1M79 39v2M79 45v1M79 52v1M79 55v1M79 57v1M79 63v1M79 66v1M79 68v1M79 73v1M79 75v1M79 78v1M79 87v1M79 92v1M79 96v1M79 99v1M79 102v1M79 116v1M79 123v1M79 204v1M80 0v1M80 7v1M80 13v1M80 21v1M80 32v1M80 50v1M80 54v1M80 57v1M80 61v1M80 63v1M80 65v1M80 67v1M80 74v1M80 81v1M80 84v1M80 93v2M80 98v2M80 103v1M80 105v1M81 22v2M81 26v1M81 34v1M81 42v1M81 50v1M81 57v1M81 77v1M81 85v1M81 91v1M82 12v1M82 18v2M82 23v1M82 28v1M82 32v1M82 36v2M82 43v1M82 49v2M82 52v1M82 57v2M82 96v1M82 117v1M82 120v2M82 123v1M82 128v1M82 132v1M82 148v1M82 150v1M82 160v1M82 162v1M82 166v1M82 172v1M82 174v1M82 178v1M82 196v1M82 200v1M83 4v1M83 17v1M83 21v1M83 24v1M83 26v1M83 33v1M83 38v1M83 40v1M83 43v2M83 46v2M83 51v1M83 54v1M83 56v2M83 63v1M83 66v1M83 70v1M83 76v1M83 78v1M83 82v3M83 86v1M83 89v1M83 96v1M83 142v1M83 173v1M84 2v2M84 7v1M84 13v1M84 18v1M84 23v1M84 25v2M84 36v1M84 38v1M84 45v1M84 47v2M84 52v2M84 58v1M84 63v1M84 71v2M84 74v1M84 79v1M84 82v1M84 85v1M84 87v1M84 90v2M84 97v2M84 105v2M84 108v2M84 112v1M84 117v1M84 119v1M84 122v3M84 126v2M84 129v1M84 134v1M84 138v3M84 142v2M84 146v4M84 152v9M84 162v5M84 168v5M84 175v1M84 178v3M84 182v4M84 187v2M84 190v1M84 192v3M84 196v6M84 203v1M84 205v2M85 25v1M85 51v1M85 54v1M85 64v1M85 67v1M85 69v1M85 72v1M85 76v4M85 83v2M85 88v1M85 104v1M85 112v1M85 118v1M85 134v1M85 155v1M85 165v1M85 167v1M85 171v2M85 181v1M85 190v1M85 199v1M85 202v1M86 2v1M86 5v2M86 22v1M86 27v1M86 33v1M86 45v1M86 53v1M86 89v2M86 92v1M86 100v1M86 105v1M86 110v1M86 112v1M86 115v3M86 124v1M86 126v1M86 130v1M86 132v1M86 136v2M86 139v1M86 141v1M86 144v1M86 150v1M86 152v1M86 155v1M86 157v1M86 159v1M86 164v1M86 168v1M86 171v1M86 173v1M86 181v1M86 188v1M86 190v3M86 194v2M86 203v1M87 9v1M87 20v1M87 34v1M87 46v1M87 57v1M87 60v1M87 71v1M87 80v1M87 83v1M87 88v1M87 92v2M87 96v2M87 100v1M87 103v2M87 156v1" stroke="#6e6973"/>
<path d="M0 148v1M0 151v1M1 29v1M1 47v1M1 49v1M1 55v1M1 58v1M1 63v2M1 66v2M1 70v2M1 74v2M1 77v3M1 81v2M1 84v1M1 86v2M1 89v1M1 91v1M1 93v3M1 97v5M1 104v1M1 106v1M1 108v1M1 114v1M1 116v1M1 127v1M1 131v1M1 133v1M1 135v2M1 139v2M1 143v3M1 148v1M1 150v1M1 162v2M1 166v1M1 171v1M1 173v1M1 175v1M1 178v1M1 200v1M2 19v1M2 181v1M3 111v2M3 125v1M3 129v1M3 133v1M3 141v1M3 145v1M3 150v1M3 155v1M3 162v1M3 166v1M3 194v1M4 190v1M5 20v1M5 65v1M5 77v1M5 105v1M5 117v2M5 120v1M5 122v1M5 125v2M5 131v1M5 137v1M5 143v1M5 145v1M5 156v1M5 164v1M5 171v1M5 179v1M5 192v2M5 199v1M5 201v1M5 203v1M6 110v1M6 116v1M6 118v1M6 122v1M6 126v2M6 129v3M6 143v1M6 145v3M6 153v2M6 161v1M6 166v2M6 172v1M6 175v1M6 178v1M6 190v1M6 194v1M6 199v1M6 205v1M7 124v1M7 184v1M8 37v1M8 39v1M8 50v2M8 54v2M8 57v1M8 60v1M8 62v1M8 64v1M8 66v2M8 69v3M8 75v1M8 79v2M8 82v4M8 87v4M8 92v2M8 95v3M8 99v8M8 166v1M8 183v1M9 191v1M10 108v1M10 120v1M10 130v1M10 132v2M10 136v1M10 145v1M10 151v1M10 188v1M10 193v1M10 202v1M11 65v1M11 91v1M11 97v1M11 118v1M11 124v1M11 127v1M11 149v1M11 186v1M12 4v1M12 92v1M12 94v1M12 104v2M12 107v1M12 116v1M12 120v1M12 123v1M12 149v2M12 152v1M12 156v1M12 177v1M13 24v1M13 108v1M13 114v1M13 131v1M13 134v1M13 144v1M13 147v1M13 154v1M13 167v1M13 203v1M14 28v1M14 53v1M14 88v1M14 110v2M14 113v1M14 116v1M14 118v1M14 120v1M14 123v2M14 128v1M14 133v1M14 135v1M14 137v3M14 142v1M14 144v1M14 148v3M14 152v1M14 156v3M14 163v1M14 166v1M14 176v1M14 178v1M14 182v1M14 202v1M15 62v1M15 81v1M15 83v2M15 86v1M15 92v5M15 100v4M15 105v4M15 147v1M15 171v1M16 177v1M17 186v1M18 45v1M18 177v1M18 199v1M19 114v1M19 117v1M19 136v1M19 162v1M19 182v1M19 191v1M19 198v1M21 49v1M21 109v5M21 116v1M21 119v3M21 130v1M21 132v1M21 134v1M21 136v1M21 138v1M21 141v1M21 144v1M21 146v1M21 149v2M21 153v1M21 155v1M21 157v3M21 161v3M21 174v1M21 177v3M21 182v2M21 185v1M21 194v1M21 196v1M21 200v1M23 101v1M23 114v1M23 116v4M23 125v1M23 131v1M23 133v2M23 146v1M23 166v1M23 171v1M23 176v1M23 184v1M23 201v1M24 108v1M24 113v1M24 120v1M24 123v1M24 125v1M24 128v1M24 137v2M24 144v1M24 148v1M24 150v3M24 154v1M24 157v1M24 159v2M24 162v1M24 173v1M24 177v2M24 192v1M25 86v1M26 109v1M26 113v1M26 120v1M26 122v1M26 125v2M26 152v1M26 154v1M26 167v1M26 181v1M27 121v1M27 134v1M27 163v1M27 168v1M27 170v1M27 172v1M29 108v1M29 112v1M29 124v1M29 139v1M29 143v2M29 151v1M29 153v1M29 155v2M29 161v1M29 164v1M29 169v1M29 176v1M29 178v1M29 180v2M29 190v1M29 194v1M29 196v1M29 199v1M29 201v1M29 205v1M30 144v1M30 147v1M30 150v1M31 113v1M31 126v1M31 151v1M31 166v2M32 50v1M32 109v1M32 111v1M32 114v2M32 128v1M32 137v1M32 141v2M32 154v1M32 161v2M32 174v1M32 177v1M32 206v1M33 37v1M33 100v1M33 106v1M33 127v1M33 138v1M33 149v1M33 155v2M33 169v1M33 175v1M33 200v1M34 110v5M34 124v1M34 128v1M34 131v1M34 136v2M34 140v1M34 150v1M34 152v1M34 154v1M34 158v1M34 161v2M34 165v3M34 178v2M34 181v1M34 189v1M34 200v1M35 113v1M35 122v1M35 126v1M35 140v1M35 147v1M35 152v1M35 191v1M36 102v1M36 182v1M37 108v1M37 111v1M37 116v1M37 119v1M37 123v1M37 125v1M37 129v1M37 133v1M37 138v1M37 141v1M37 143v1M37 157v2M37 160v2M37 165v1M37 174v2M37 180v1M37 191v1M37 205v1M38 108v1M38 111v1M38 117v1M38 122v1M38 128v1M38 130v3M38 135v1M38 137v1M38 139v2M38 143v1M38 150v1M38 161v1M38 167v1M38 172v1M38 178v1M38 183v1M38 187v1M38 190v2M39 112v1M39 120v1M39 133v1M39 135v2M39 138v1M39 141v1M39 145v3M39 151v1M39 157v3M39 163v1M39 178v1M39 181v1M39 186v1M39 197v1M40 117v2M40 142v1M40 166v1M40 174v1M40 198v1M41 197v1M42 110v1M42 112v1M42 117v3M42 123v3M42 127v1M42 132v4M42 138v1M42 141v1M42 143v3M42 147v1M42 160v1M42 165v1M42 174v1M42 184v1M42 187v1M42 190v1M43 86v1M43 183v1M43 189v1M43 202v1M44 127v1M44 130v1M44 143v1M44 189v1M44 194v1M45 2v3M45 6v1M45 18v2M45 21v1M45 23v2M45 26v4M45 31v1M45 36v1M45 42v1M45 47v1M45 60v1M45 63v1M45 72v1M45 78v1M45 89v1M45 91v1M46 22v2M46 27v1M46 30v2M46 36v3M46 42v1M46 44v3M46 48v2M46 51v2M46 56v1M46 58v1M46 60v1M46 64v1M46 68v1M46 72v1M46 82v4M46 91v1M46 96v2M46 99v1M46 120v2M46 123v1M46 126v1M46 129v1M46 145v1M46 162v1M46 167v2M46 191v1M46 194v1M46 202v1M46 204v1M46 206v1M47 0v1M47 7v1M47 11v1M47 13v1M47 17v1M47 29v1M47 32v1M47 35v1M47 40v1M47 46v1M47 49v1M47 55v1M47 57v1M47 59v1M47 73v1M47 78v1M47 87v1M47 92v1M47 95v1M47 104v1M47 107v1M47 174v1M48 17v1M48 22v1M48 27v1M48 34v1M48 38v1M48 41v1M48 43v4M48 52v1M48 60v1M48 62v3M48 69v1M48 71v1M48 77v2M48 81v1M48 83v2M48 95v1M48 98v2M48 107v1M49 19v1M49 35v2M49 84v1M50 0v1M50 3v1M50 9v2M50 15v1M50 23v1M50 27v1M50 30v1M50 32v1M50 34v1M50 36v1M50 43v1M50 54v2M50 61v1M50 64v1M50 66v1M50 68v1M50 72v2M50 102v1M51 1v1M51 6v3M51 15v2M51 18v3M51 25v1M51 30v1M51 36v1M51 39v1M51 45v1M51 49v1M51 51v1M51 61v1M51 83v1M51 88v1M52 0v1M52 2v1M52 7v1M52 13v1M52 23v1M52 25v1M52 27v1M52 37v2M52 41v1M52 43v1M52 45v2M52 51v1M52 56v2M52 60v2M52 64v2M52 67v2M52 70v1M52 76v2M52 81v2M52 92v1M52 94v1M53 1v1M53 8v1M53 10v3M53 15v1M53 23v2M53 27v1M53 31v2M53 35v1M53 39v1M53 43v1M53 46v1M53 51v1M53 53v3M53 61v1M53 63v1M53 70v2M53 77v1M53 87v2M53 94v1M53 96v2M54 25v1M54 59v1M54 87v1M55 4v1M55 6v3M55 10v2M55 13v1M55 23v1M55 25v1M55 37v1M55 39v1M55 43v2M55 55v2M55 63v1M55 93v1M56 7v1M56 13v2M56 17v2M56 22v1M56 26v1M56 32v1M56 34v1M56 37v2M56 40v1M56 42v1M56 44v1M56 46v1M56 50v1M56 53v1M56 55v1M56 60v2M56 72v3M56 76v1M56 87v1M56 89v1M56 93v1M56 99v2M57 8v1M57 11v1M57 16v1M57 19v2M57 26v1M57 30v1M57 34v1M57 37v1M57 40v1M57 47v1M57 50v2M57 55v1M57 60v1M57 64v1M57 66v1M57 69v1M57 71v1M57 73v3M57 77v1M57 79v1M57 82v3M57 93v1M57 102v1M57 105v1M58 3v3M58 7v1M58 13v4M58 22v1M58 37v1M58 46v2M58 49v2M58 53v1M58 57v1M58 59v1M58 65v1M58 67v2M58 73v1M58 75v1M58 77v2M58 85v1M58 105v1M59 6v1M59 10v1M59 19v2M59 23v1M59 30v3M59 34v1M59 37v1M59 44v1M59 46v1M59 52v1M59 57v2M59 62v2M59 71v1M59 74v1M59 78v2M59 81v1M59 87v3M59 94v1M59 101v1M59 104v1M60 6v1M60 9v1M60 13v1M60 17v2M60 24v1M60 26v1M60 32v1M60 35v1M60 37v2M60 42v2M60 47v1M60 58v1M60 65v1M60 74v1M60 79v1M60 87v1M60 90v1M60 95v1M60 98v1M60 107v1M61 43v1M61 78v1M61 86v1M61 104v1M62 1v1M62 3v1M62 7v2M62 12v1M62 14v1M62 17v2M62 21v2M62 25v1M62 28v1M62 33v1M62 50v1M62 54v1M62 61v1M62 70v1M62 81v1M62 147v1M62 169v1M63 2v1M63 13v2M63 18v1M63 22v2M63 31v1M63 37v1M63 40v1M63 43v1M63 46v3M63 58v1M63 61v1M63 65v1M63 70v1M63 78v2M63 85v1M63 87v2M63 90v1M63 93v1M63 98v1M63 102v1M64 5v2M64 32v1M64 43v1M64 47v1M64 77v1M64 86v1M65 0v1M65 8v1M65 22v1M65 25v1M65 35v1M65 37v1M65 39v1M65 41v1M65 46v2M65 56v1M65 65v1M65 72v1M65 74v1M65 78v2M65 84v2M65 96v1M65 98v1M65 100v2M65 103v1M65 106v1M65 142v1M65 145v1M65 194v1M66 7v1M66 10v1M66 16v1M66 20v1M66 25v2M66 32v1M66 34v1M66 37v1M66 40v1M66 47v3M66 52v1M66 56v1M66 66v1M66 68v3M66 74v1M66 76v1M66 78v1M66 80v1M66 86v1M66 88v1M66 90v2M67 2v1M67 8v1M67 12v1M67 22v1M67 26v1M67 30v1M67 47v2M67 56v1M67 61v1M67 63v2M67 67v1M67 90v1M67 95v1M68 7v1M68 20v1M68 30v1M68 34v1M68 44v1M68 67v1M68 73v2M68 76v1M68 100v1M69 27v1M69 31v1M69 37v1M69 41v1M69 43v1M69 51v1M69 55v1M69 61v1M69 66v3M69 70v1M69 79v2M69 82v1M69 84v2M69 90v1M69 92v1M70 5v1M70 7v1M70 22v1M70 24v1M70 26v2M70 32v1M70 36v1M70 38v1M70 49v2M71 17v1M71 32v1M71 34v1M71 36v1M71 47v1M71 51v1M71 58v1M71 61v1M71 65v1M71 68v2M71 74v2M71 80v1M71 83v3M71 90v2M71 94v1M71 99v1M71 101v1M71 107v1M72 0v2M72 4v2M72 10v1M72 18v1M72 20v1M72 22v1M72 25v1M72 27v1M72 30v2M72 40v1M72 46v1M72 50v2M72 53v1M72 55v1M72 57v2M72 65v2M72 68v1M72 77v2M72 80v1M72 88v4M72 97v1M73 7v2M73 12v1M73 17v1M73 20v1M73 24v1M73 30v1M73 34v2M73 37v1M73 40v1M73 42v1M73 44v1M73 49v1M73 51v1M73 60v1M73 62v4M73 68v1M73 71v1M73 74v2M73 77v2M73 80v1M73 84v1M73 87v1M73 90v1M73 93v1M73 105v1M73 107v1M73 163v1M74 0v1M74 30v1M74 32v1M74 34v1M74 39v1M74 41v2M74 44v1M74 56v1M74 59v2M74 68v2M74 77v1M74 82v3M74 87v1M74 89v1M74 91v1M74 103v1M74 107v1M75 5v1M75 14v1M75 19v1M75 63v1M75 66v1M75 75v1M75 77v1M75 82v1M75 94v1M76 5v2M76 11v1M76 17v1M76 19v1M76 24v3M76 28v1M76 34v1M76 40v1M76 46v1M76 62v1M76 65v2M76 80v1M76 99v1M76 177v1M78 2v2M78 16v1M78 22v1M78 35v2M78 38v1M78 44v1M78 46v1M78 51v1M78 58v1M78 60v1M78 62v1M78 68v1M78 75v1M78 77v1M78 79v1M78 82v1M78 88v1M78 93v2M78 99v1M78 106v1M78 193v1M79 1v1M79 4v1M79 6v1M79 9v1M79 12v1M79 14v2M79 19v1M79 23v1M79 25v1M79 27v2M79 30v2M79 37v1M79 41v2M79 44v1M79 46v1M79 48v2M79 58v4M79 64v2M79 67v1M79 70v1M79 72v1M79 79v2M79 95v1M79 97v1M79 100v2M79 106v1M79 136v1M80 4v3M80 14v2M80 26v3M80 46v1M80 49v1M80 51v1M80 66v1M80 69v1M80 75v4M80 80v1M80 82v1M80 95v2M80 100v1M81 12v1M82 202v1M83 6v1M83 15v2M83 25v1M83 34v3M83 45v1M83 48v3M83 60v1M83 64v2M83 69v1M83 71v2M83 80v1M83 87v1M83 93v1M83 100v4M83 105v2M84 0v1M84 5v1M84 8v1M84 10v1M84 12v1M84 19v1M84 21v2M84 27v2M84 30v1M84 33v2M84 37v1M84 40v1M84 43v1M84 46v1M84 49v1M84 60v1M84 68v1M84 78v1M84 86v1M84 92v1M84 114v1M84 137v1M84 167v1M84 202v1M85 6v2M85 10v2M85 32v1M85 38v2M85 41v1M85 45v1M85 47v2M85 50v1M85 52v2M85 55v1M85 57v1M85 60v4M85 66v1M85 70v2M85 74v1M85 81v1M85 86v2M85 91v1M85 95v1M85 98v1M85 102v2M85 135v1M86 15v1M86 50v1M86 57v1M86 64v1M86 113v1M86 186v1M86 198v1M87 1v1M87 8v1M87 15v1M87 21v1M87 26v1M87 28v2M87 39v1M87 41v1M87 43v2M87 47v3M87 52v1M87 55v2M87 61v1M87 66v1M87 70v1M87 73v3M87 82v1M87 84v2M87 94v1M87 101v1M87 105v1" stroke="#7a736a"/>
<path d="M1 48v1M1 92v1M1 96v1M1 102v2M1 105v1M1 107v1M1 110v2M1 115v1M1 117v1M1 121v1M1 125v1M1 132v1M1 137v2M1 146v2M1 151v1M1 157v1M1 184v1M1 186v1M1 188v1M1 203v1M2 18v1M3 163v1M4 141v1M5 130v1M5 144v1M5 167v1M6 109v1M6 111v3M6 117v1M6 128v1M6 135v1M6 137v2M6 140v1M6 171v1M6 204v1M8 78v1M8 91v1M8 94v1M8 98v1M8 107v1M10 115v1M10 170v1M11 147v1M12 114v1M12 130v1M12 174v1M13 39v1M13 109v1M13 124v1M14 109v1M14 112v1M14 114v2M14 134v1M14 145v1M14 154v1M14 174v1M14 192v1M15 98v1M16 189v1M19 130v1M19 132v1M19 166v1M21 117v2M21 125v3M21 129v1M21 137v1M21 139v1M21 142v1M21 151v2M21 168v1M23 159v1M24 109v2M24 117v2M24 122v1M24 127v1M24 139v3M24 143v1M24 161v1M26 115v1M26 119v1M26 128v1M29 109v3M29 115v1M29 117v1M29 119v4M29 127v4M29 132v1M29 136v3M29 142v1M29 154v1M29 160v1M29 167v1M29 184v1M29 193v1M33 71v1M33 134v1M33 161v1M34 109v1M34 116v3M34 123v1M34 125v1M34 127v1M34 130v1M34 132v4M34 141v4M34 146v2M34 153v1M34 156v1M34 159v1M34 171v1M34 184v1M35 137v1M37 109v1M37 120v1M37 128v1M37 131v1M37 147v1M37 171v1M37 182v1M38 109v1M38 112v5M38 118v1M38 120v2M38 124v3M38 133v1M38 144v1M38 146v2M38 149v1M38 151v1M38 157v1M38 166v1M38 168v1M38 170v2M38 179v2M38 185v1M38 193v1M39 108v1M39 114v1M39 116v2M39 119v1M39 121v2M39 125v3M39 130v2M39 169v1M39 202v1M41 143v1M42 108v2M42 113v1M42 136v1M42 146v1M42 152v1M44 122v1M45 0v2M45 20v1M45 33v2M45 37v1M45 61v1M45 83v1M46 1v1M46 3v1M46 6v2M46 11v2M46 17v1M46 29v1M46 33v1M46 39v1M46 41v1M46 50v1M46 65v1M46 69v1M47 6v1M47 10v1M47 12v1M47 21v1M47 24v1M47 26v2M47 30v1M47 37v1M47 41v3M47 47v1M47 50v2M47 60v4M47 72v1M47 79v1M47 82v2M47 103v1M48 0v1M48 4v1M48 7v1M48 9v3M48 13v4M48 21v1M48 23v1M48 25v1M48 28v1M48 32v1M48 37v1M48 39v1M48 42v1M48 49v2M48 53v1M48 55v4M48 61v1M48 68v1M48 87v1M48 92v1M49 8v1M50 6v1M50 12v1M50 20v2M50 28v1M50 39v1M50 47v1M50 49v1M50 57v1M50 60v1M50 88v1M51 4v1M51 10v1M51 17v1M51 24v1M51 31v1M51 40v1M51 54v1M51 59v1M51 87v1M51 92v1M52 1v1M52 3v1M52 10v1M52 12v1M52 20v3M52 24v1M52 29v2M52 36v1M52 39v1M52 48v1M52 50v1M52 62v1M52 66v1M52 69v1M52 71v1M52 73v1M52 84v2M52 90v1M52 95v1M53 2v1M53 6v1M53 9v1M53 14v1M53 16v1M53 19v3M53 28v1M53 30v1M53 34v1M53 40v2M53 44v1M53 50v1M53 52v1M53 69v1M53 76v1M53 82v1M53 85v1M55 2v1M55 24v1M56 4v2M56 9v3M56 15v2M56 21v1M56 28v1M56 31v1M56 35v2M56 43v1M56 48v1M56 52v1M56 78v1M56 81v1M56 83v1M56 96v1M56 105v1M57 1v2M57 9v1M57 12v1M57 14v1M57 23v1M57 25v1M57 28v1M57 33v1M57 36v1M57 38v1M57 42v1M57 45v2M57 48v1M57 65v1M57 68v1M57 70v1M57 89v1M58 11v1M58 17v1M58 19v1M58 21v1M58 23v1M58 25v2M58 32v1M58 35v2M58 40v2M58 43v2M58 48v1M58 51v2M58 55v2M58 61v2M58 66v1M58 72v1M58 80v1M58 82v1M58 90v1M58 94v1M59 0v1M59 3v1M59 12v2M59 15v1M59 18v1M59 21v1M59 26v2M59 36v1M59 39v1M59 45v1M59 51v1M59 53v1M59 55v1M59 61v1M59 64v1M59 72v1M59 80v1M59 86v1M59 105v1M60 0v1M60 5v1M60 8v1M60 10v1M60 15v2M60 19v1M60 22v1M60 28v2M60 31v1M60 33v2M60 40v1M60 45v1M60 55v1M60 64v1M60 69v1M60 82v2M62 9v1M62 31v1M62 41v1M62 44v1M62 53v1M63 1v1M63 15v1M63 19v1M63 21v1M63 24v1M63 26v2M63 30v1M63 33v3M63 38v2M63 45v1M63 49v3M63 54v1M63 56v1M63 66v1M63 69v1M63 74v1M63 103v1M64 69v1M65 6v1M65 13v2M65 16v2M65 20v2M65 23v1M65 26v1M65 29v2M65 33v2M65 38v1M65 42v2M65 45v1M65 48v1M65 53v1M65 57v1M65 62v3M65 70v1M65 75v1M65 88v1M66 0v2M66 4v2M66 9v1M66 11v2M66 17v2M66 23v2M66 29v1M66 41v2M66 44v2M66 50v1M66 53v1M66 55v1M66 57v1M66 63v1M66 77v1M66 79v1M66 81v1M66 87v1M66 92v1M66 159v1M67 5v1M67 13v1M67 65v2M67 85v1M68 25v1M68 29v1M68 84v1M69 0v2M69 5v1M69 7v1M69 9v1M69 13v3M69 18v1M69 20v1M69 22v3M69 28v3M69 33v2M69 42v1M69 44v1M69 46v1M69 48v1M69 53v1M69 56v2M69 59v1M69 63v1M69 65v1M69 69v1M69 76v2M69 83v1M69 86v2M69 97v1M69 100v1M70 13v2M70 95v1M70 103v1M71 7v1M71 20v1M71 23v2M71 26v1M71 30v1M71 33v1M71 37v1M71 39v2M71 45v1M71 49v1M71 55v1M71 57v1M71 59v1M71 63v1M71 67v1M71 73v1M71 89v1M71 95v2M72 3v1M72 7v1M72 9v1M72 11v2M72 23v2M72 29v1M72 33v1M72 35v1M72 39v1M72 43v2M72 48v1M72 69v1M72 71v2M72 92v1M72 105v1M73 0v1M73 2v1M73 11v1M73 13v2M73 16v1M73 22v1M73 26v1M73 29v1M73 39v1M73 41v1M73 43v1M73 47v1M73 50v1M73 52v2M73 55v1M73 58v1M73 66v1M73 69v1M73 94v1M73 106v1M74 1v4M74 6v1M74 9v1M74 14v2M74 17v3M74 21v2M74 26v1M74 28v1M74 33v1M74 36v1M74 43v1M74 50v1M74 52v1M74 63v1M74 66v2M74 73v1M74 88v1M74 93v1M74 96v1M76 0v1M76 2v1M76 15v1M76 21v1M76 41v1M76 55v2M76 67v1M76 83v1M77 32v1M78 4v1M78 8v1M78 17v1M78 20v1M78 23v3M78 29v1M78 32v1M78 37v1M78 41v1M78 43v1M78 45v1M78 48v1M78 54v1M78 57v1M78 67v1M78 72v1M78 76v1M78 81v1M78 89v1M78 91v2M78 100v1M79 2v2M79 8v1M79 10v1M79 17v1M79 20v2M79 26v1M79 32v1M79 35v2M79 38v1M79 47v1M79 51v1M79 62v1M79 81v1M79 91v1M80 8v2M80 16v2M80 19v1M80 22v1M80 24v2M80 31v1M80 34v1M80 42v2M80 47v1M80 56v1M80 68v1M80 71v2M80 90v1M80 92v1M82 116v1M82 146v1M83 0v1M83 2v1M83 8v1M83 10v3M83 14v1M83 22v2M83 27v1M83 29v2M83 37v1M83 39v1M83 42v1M83 52v1M83 62v1M83 68v1M83 74v1M83 79v1M83 81v1M83 88v1M83 92v1M84 1v1M84 9v1M84 17v1M84 29v1M84 35v1M84 57v1M84 59v1M84 66v1M84 80v1M85 0v2M85 15v3M85 21v4M85 26v2M85 30v2M85 34v2M85 42v1M85 44v1M85 56v1M85 65v1M85 68v1M85 75v1M85 85v1M85 93v2M85 96v1M85 100v1M85 107v1M85 142v1M86 179v1M87 2v1M87 10v1M87 12v3M87 16v2M87 23v1M87 27v1M87 30v2M87 35v4M87 51v1M87 54v1M87 63v2M87 67v2M87 72v1M87 76v3M87 89v1" stroke="#867d61"/>
<path d="M1 109v1M1 112v2M1 119v2M1 129v1M1 149v1M1 153v2M1 176v1M1 197v1M3 193v1M5 108v1M6 108v1M10 155v1M13 146v1M14 108v1M14 126v1M14 129v1M14 161v1M19 151v1M21 114v1M21 122v2M21 133v1M21 135v1M23 111v1M23 137v1M24 112v1M24 116v1M24 119v1M24 121v1M24 129v1M24 132v1M24 134v1M24 136v1M24 182v1M25 202v1M27 127v1M29 113v1M29 118v1M29 125v1M29 135v1M29 146v1M29 148v2M29 152v1M29 183v1M29 204v1M32 170v1M34 108v1M34 122v1M34 138v1M38 127v1M38 129v1M38 136v1M38 141v2M38 162v1M38 164v1M38 188v1M39 109v2M39 124v1M39 170v1M39 190v1M40 187v1M42 111v1M42 114v1M45 11v1M45 14v2M45 64v1M46 0v1M46 4v1M46 8v1M46 10v1M46 15v1M46 20v1M46 28v1M46 32v1M46 35v1M46 67v1M46 90v1M46 149v1M47 1v5M47 16v1M47 20v1M47 25v1M47 31v1M47 33v2M47 36v1M47 45v1M47 48v1M47 52v1M47 56v1M47 67v1M47 93v1M48 5v2M48 8v1M48 12v1M48 18v1M48 20v1M48 24v1M48 30v1M48 33v1M48 35v1M48 51v1M48 65v1M48 67v1M48 70v1M48 82v1M48 86v1M48 90v1M48 102v1M50 75v1M51 34v2M51 48v1M51 74v1M51 99v1M52 5v2M52 11v1M52 14v2M52 17v1M52 19v1M52 28v1M52 32v1M52 34v2M52 40v1M52 44v1M52 47v1M52 59v1M52 72v1M52 78v1M53 0v1M53 5v1M53 26v1M53 36v1M53 49v1M53 62v1M55 1v1M56 3v1M56 8v1M56 19v1M56 27v1M56 54v1M56 63v1M56 71v1M57 0v1M57 3v2M57 7v1M57 18v1M57 29v1M57 39v1M57 41v1M57 56v1M58 1v1M58 8v2M58 18v1M58 20v1M58 24v1M58 27v1M58 30v2M58 64v1M58 74v1M58 76v1M58 81v1M59 4v2M59 8v1M59 11v1M59 14v1M59 17v1M59 25v1M59 28v1M59 35v1M59 38v1M59 42v2M59 50v1M60 2v3M60 12v1M60 14v1M60 20v1M60 25v1M60 41v1M60 44v1M60 48v2M60 59v1M60 62v1M62 13v1M63 0v1M63 5v3M63 9v1M63 11v1M63 16v1M63 20v1M63 25v1M63 29v1M63 32v1M63 36v1M63 42v1M63 52v1M63 64v1M63 67v2M63 72v1M63 75v1M65 1v3M65 7v1M65 15v1M65 19v1M65 28v1M65 31v2M65 36v1M65 40v1M65 44v1M65 51v1M65 59v1M65 61v1M65 82v1M66 13v2M66 21v2M66 28v1M66 33v1M66 98v1M66 107v1M68 13v1M69 2v1M69 4v1M69 12v1M69 19v1M69 21v1M69 25v1M69 36v1M69 40v1M69 45v1M69 47v1M69 49v2M69 52v1M69 54v1M69 81v1M69 89v1M71 1v1M71 3v1M71 6v1M71 13v1M71 15v1M71 19v1M71 21v1M71 27v1M71 29v1M71 31v1M71 35v1M71 38v1M71 42v3M71 48v1M71 50v1M71 52v2M71 60v1M71 66v1M71 78v1M72 13v1M72 17v1M72 19v1M72 21v1M72 34v1M72 45v1M72 56v1M72 61v2M72 76v1M72 87v1M73 1v1M73 4v2M73 9v2M73 19v1M73 21v1M73 23v1M73 32v1M73 36v1M73 38v1M73 46v1M73 54v1M73 61v1M73 70v1M73 103v1M74 7v2M74 12v1M74 16v1M74 23v3M74 29v1M74 40v1M74 46v2M74 49v1M74 54v1M74 64v1M74 81v1M74 100v1M75 9v1M76 1v1M76 27v1M78 1v1M78 5v1M78 7v1M78 13v1M78 15v1M78 18v1M78 27v2M78 30v2M78 42v1M78 61v1M79 5v1M79 13v1M79 34v1M80 1v1M80 3v1M80 11v1M80 18v1M80 20v1M80 23v1M80 30v1M80 35v1M80 37v5M80 44v1M80 52v1M80 55v1M80 59v1M80 64v1M80 73v1M83 1v1M83 3v1M83 9v1M83 18v1M83 20v1M83 28v1M83 31v1M83 59v1M83 67v1M84 4v1M84 15v1M84 42v1M84 120v1M85 2v1M85 4v1M85 13v2M85 19v1M85 29v1M85 33v1M85 43v1M85 46v1M85 49v1M85 73v1M85 89v1M85 92v1M87 3v1M87 6v1M87 11v1M87 24v1M87 32v2M87 42v1M87 45v1M87 53v1M87 59v1M87 69v1M87 79v1M87 86v1" stroke="#928858"/>
<path d="M1 130v1M21 128v1M22 138v1M26 124v1M31 139v1M34 121v1M34 129v1M37 149v1M38 110v1M38 123v1M45 10v1M46 5v1M47 9v1M47 14v2M47 18v2M47 23v1M48 2v1M48 19v1M48 26v1M48 29v1M48 40v1M48 48v1M51 3v1M52 18v1M52 52v1M53 3v1M53 18v1M53 22v1M56 1v1M56 12v1M56 39v1M57 6v1M57 17v1M57 21v1M57 24v1M57 27v1M57 44v1M58 0v1M58 10v1M58 12v1M58 39v1M59 1v1M59 7v1M59 9v1M59 16v1M59 33v1M59 40v1M59 47v1M60 1v1M60 11v1M60 27v1M60 46v1M63 4v1M63 8v1M63 17v1M63 28v1M63 53v1M65 4v1M65 9v2M65 27v1M65 49v1M66 2v1M66 6v1M66 27v1M66 31v1M66 36v1M69 3v1M69 6v1M69 8v1M69 10v1M69 17v1M69 38v1M70 0v1M71 2v1M71 4v2M71 8v1M71 12v1M71 16v1M71 18v1M71 25v1M71 28v1M71 41v1M72 36v1M72 42v1M73 3v1M73 6v1M73 18v1M74 5v1M74 11v1M74 13v1M74 31v1M78 6v1M78 10v3M78 19v1M78 21v1M78 33v2M78 47v1M78 56v1M80 2v1M80 10v1M80 12v1M80 33v1M80 70v1M83 5v1M83 13v1M83 19v1M83 32v1M85 3v1M85 5v1M85 9v1M85 18v1M85 20v1M85 36v1M85 40v1M85 59v1M87 4v2M87 7v1M87 19v1M87 22v1M87 25v1M87 40v1M87 81v1" stroke="#9e924f"/>
<path d="M1 159v1M6 141v1M24 115v1M46 2v1M46 21v1M47 22v1M47 28v1M47 54v1M48 1v1M52 16v1M52 63v1M53 4v1M57 15v1M58 2v1M58 87v1M59 2v1M59 24v1M63 3v1M63 10v1M65 5v1M65 11v1M66 8v1M69 16v1M69 26v1M69 39v1M71 0v1M71 9v3M71 14v1M71 22v1M71 46v1M71 71v1M72 8v1M73 28v1M74 27v1M78 9v1M80 29v1M83 7v1M83 55v1M85 8v1M85 12v1M85 28v1M87 0v1M87 18v1" stroke="#aa9c46"/>
</g>
<text class="dj" x="163.3" y="8.7" font-size="3.4" fill="#222">GROUP</text>
<rect x="164.2" y="10.4" width="3.7" height="4.12" fill="#b8a23a"/>
<rect x="164.2" y="14.47" width="3.7" height="4.12" fill="#a39036"/>
<rect x="164.2" y="18.55" width="3.7" height="4.12" fill="#8f7f33"/>
<rect x="164.2" y="22.62" width="3.7" height="4.12" fill="#7a6d2f"/>
<rect x="164.2" y="26.7" width="3.7" height="4.12" fill="#665c2b"/>
<rect x="164.2" y="30.77" width="3.7" height="4.12" fill="#514a27"/>
<rect x="164.2" y="34.85" width="3.7" height="4.12" fill="#3d3824"/>
<rect x="164.2" y="38.92" width="3.7" height="4.12" fill="#282720"/>
<rect x="164.2" y="43" width="3.7" height="4.12" fill="#1f1f38"/>
<rect x="164.2" y="47.07" width="3.7" height="4.12" fill="#20204b"/>
<rect x="164.2" y="51.15" width="3.7" height="4.12" fill="#22225f"/>
<rect x="164.2" y="55.22" width="3.7" height="4.12" fill="#242472"/>
<rect x="164.2" y="59.3" width="3.7" height="4.12" fill="#252586"/>
<rect x="164.2" y="63.37" width="3.7" height="4.12" fill="#272799"/>
<rect x="164.2" y="67.45" width="3.7" height="4.12" fill="#2828ad"/>
<rect x="164.2" y="71.52" width="3.7" height="4.12" fill="#2a2ac0"/>
<text class="dj" x="169.3" y="13" font-size="3.6" fill="#222">2</text>
<text class="dj" x="169.3" y="28.6" font-size="3.6" fill="#222">1</text>
<text class="dj" x="169.3" y="44.8" font-size="3.6" fill="#222">0</text>
<text class="dj" x="169.3" y="61" font-size="3.6" fill="#222">-1</text>
<text class="dj" x="169.3" y="77.4" font-size="3.6" fill="#222">-2</text>
<text class="dj" x="174.8" y="13.4" font-size="3.4" fill="#222" font-weight="bold">GROUP</text>
<rect x="175.1" y="15.9" width="4.7" height="5.5" fill="#f01e1e"/>
<rect x="175.1" y="22.2" width="4.7" height="5.5" fill="#1e1ef0"/>
<text class="dj" x="181" y="20.1" font-size="3.35" fill="#222">ALOX5AP_high</text>
<text class="dj" x="181" y="26.6" font-size="3.35" fill="#222">ALOX5AP_low</text>
<rect x="216.6" y="62.2" width="150.4" height="149.6" fill="#fff" stroke="#d0d0d0" stroke-width="0.6"/>
<path d="M233.2 62.2V211.8M272.2 62.2V211.8M311.2 62.2V211.8M350.2 62.2V211.8M216.6 182.52H367.0M216.6 137.17H367.0M216.6 91.82H367.0" stroke="#f0f0f0" stroke-width="0.5"/>
<path d="M252.7 62.2V211.8M291.7 62.2V211.8M330.7 62.2V211.8M216.6 205.2H367.0M216.6 159.85H367.0M216.6 114.5H367.0M216.6 69.15H367.0" stroke="#e4e4e4" stroke-width="0.6"/>
<polygon points="277.07,167.11 289.74,167.11 289.93,170.6 290.12,174.1 290.3,177.6 290.49,181.1 290.68,184.6 290.87,188.1 291.06,191.59 292.29,191.59 292.37,188.36 292.52,185.12 292.66,181.88 292.81,178.64 292.95,175.4 293.1,172.16 293.25,168.92 306.32,168.92 306.9,193.5 306.2,196 304.2,199.8 302,202 299.4,204 297.4,205.2 295.6,205.8 289.6,205.8 287.8,205.2 285.8,204 283.2,202 281,199.8 279,196 278.3,193.5" fill="#bebebe"/>
<path d="M288.23 145.19h0M277.22 112.83h0M286.39 133.45h0M285.56 94.43h0M295.89 144.92h0M281.99 169.8h0M303.58 140.41h0M295.82 123.43h0M299.04 106.4h0M283.59 168.61h0M277.74 112.13h0M300.84 105.13h0M281.01 131.77h0M299.68 107.06h0M299.45 118.53h0M286.43 158.67h0M297.61 120.25h0M286.66 129.13h0M279.78 69.04h0M303.99 108.06h0M297.04 149.68h0M296.94 94.99h0M283.3 78.72h0M280.19 164.85h0M296.97 164.37h0M284.12 87.37h0M284.49 130.89h0M279.98 66.83h0M287.61 135.8h0M297.74 99.86h0M282.62 142.39h0M293.77 170.78h0M283.11 105.42h0M293.44 160.34h0M298.79 164.39h0M282.61 110.86h0M279.84 139.63h0M297.22 168.89h0M295.39 158.46h0M283.81 115.86h0M300.89 158.81h0M284.27 71.95h0M279.63 86.43h0M281.6 81.72h0M278.55 69.91h0M285.79 110.51h0M282.8 77.21h0M288.11 171.41h0M285.54 95.31h0M282.82 126.08h0M286.45 170.54h0M303.19 130.19h0M280.84 87.16h0M280.46 126.67h0M277.52 84.19h0M289.63 170.51h0M283.54 143.75h0M281.13 146.42h0M282.06 112.62h0M299.93 169.87h0M284.17 158.04h0M280.07 151.08h0M303.34 157.76h0M285.72 151.63h0M279.08 110.12h0M282.7 146.53h0M295.08 127.54h0M284.22 95.4h0M279.35 121.92h0M283.07 79.85h0M280.21 169.27h0M286.93 107.74h0M280.26 115.89h0M300.55 97.9h0M281.61 76.89h0M302.84 147.7h0M278.47 97.3h0M283.27 100.2h0M298.4 152.67h0M279.04 147.93h0M301.92 162h0M278.35 85.15h0M281.46 116.21h0M282.48 166.11h0M280.99 79.92h0M301.85 76.51h0M278.42 130.96h0M304.02 169.76h0M295.14 126.56h0M281.64 172.29h0M282.26 163.34h0M281.55 159.87h0M301.16 125.51h0M281.68 114.01h0M284 133.39h0M283.53 67.13h0M283.19 74.12h0M281.33 101.74h0M282 142.48h0M293.43 169.21h0M288.73 159.5h0M281.26 103.57h0M283.06 87.3h0M281.99 90.29h0M298.62 145.96h0M301.99 172.48h0M284.98 85.88h0M287 141.32h0M287.76 128.57h0M284.62 69.24h0M297.1 77.72h0M305.88 147.84h0M294.42 167.99h0M279.69 147.09h0M305.38 147.14h0M278.2 149.01h0M278.64 167.71h0M289.13 155.33h0M282.96 97.57h0M288.57 169.48h0M285.61 145.79h0M301.04 156.71h0M303.04 129.44h0M286.15 152.3h0M282.47 97.48h0M280.23 99.72h0M284.09 117.89h0M280.4 121.83h0M285.86 109.15h0M290.09 168.19h0M287.39 130.6h0M280.16 88.57h0M296.4 158.87h0M279.94 105.87h0M283.42 166.78h0M282.4 124.77h0M281.9 126.21h0M297.81 158h0M283.66 136.67h0M303.18 109.5h0M300.53 89.6h0M278.36 168.01h0M305.48 129.12h0M293.9 148.55h0M283.78 110.27h0M287.38 162.1h0M303.8 130.36h0M280.06 157.58h0M288.09 151.12h0M303.54 168.74h0M283.27 125.91h0M278.12 153.88h0M302.54 121.03h0M281.54 90.67h0M301.06 145.51h0M284.1 122.69h0M295.59 156.55h0M281.3 108.54h0M277.16 169.81h0M304.26 134.54h0M288.83 146.32h0M278.51 170.67h0M278.82 159.14h0M281.56 115.28h0M298.87 124.32h0M295.92 145.71h0M279.97 85.05h0M295.37 129.82h0M283.87 86.64h0M281.18 141.54h0M304.32 119.7h0M286.33 101.1h0M286 171.04h0M289.44 156.87h0M289.19 166.6h0M299.04 128.16h0M277.83 100.08h0M302.67 126.97h0M298.58 156.56h0M285.96 131.61h0M281.21 153.77h0M287.61 151.73h0M298.69 171.59h0M297.3 152.65h0M282.53 98.83h0M299.7 169.16h0M278.94 145.12h0M287.59 123.52h0M285.57 165.55h0M282 168.58h0M281.98 166.39h0M285.77 101.73h0M301.33 104.35h0M301.74 102.2h0M277.6 102.04h0M295.9 107.99h0M287.18 119.29h0M297.66 143.73h0M277.29 137.46h0M283.65 96.8h0M280.95 96.88h0M281.56 145.27h0M285.44 167.33h0M286.8 133.43h0M283.4 100.07h0M297.31 118.25h0M302.69 171.73h0M281.03 87.68h0M293.34 169.6h0M280.3 83.71h0M280.25 134.38h0M300.51 137.13h0M284.58 101.04h0M278.08 143.19h0M283.39 156.93h0M300.37 90.44h0M286.97 160.56h0M286.91 125.24h0M280.32 150.8h0M300.77 149.81h0M280.39 136.47h0M278.92 149.87h0M283.45 109.14h0M287.87 158.32h0M284.77 78.28h0M277.49 170.16h0M286.51 102.38h0M296.19 112.84h0M277.93 77.34h0M283.16 148.97h0M283.65 129.8h0M296.54 154.42h0M297.3 100.5h0M301.52 168.15h0M286.54 127.26h0M278.38 165.84h0M281.12 152.11h0M277.91 130.81h0M299.81 91.69h0M285.74 143.15h0M281.65 122h0M298.38 151.21h0M285.83 87.74h0M283.53 68.82h0M293.91 172.49h0M282.43 113.71h0M284.8 76.52h0M281.63 86.21h0M297.26 113.75h0M282.18 157.59h0M284.07 137.19h0M280.58 127.43h0M281.54 87.16h0M279.08 154.45h0M285.85 95.08h0M299.62 148.68h0M280.44 151.77h0M293.96 172.53h0M298.02 119.63h0M296.05 119.48h0M283.06 150.61h0M283.23 129.76h0M299.12 128.1h0M285.08 148.17h0M294.98 161.73h0M280.03 72h0M282.97 85.62h0M280.08 90.93h0M301.12 154.75h0M283.56 97.23h0M288.73 141.21h0M298.22 118.87h0M300.68 97.49h0M277.09 78.38h0M290.14 172.02h0M298.34 156.78h0M301.75 126.93h0M296.07 154.92h0M287.68 162.14h0M280.32 78.35h0M302.83 126.27h0M285.22 96.54h0M281.34 128.82h0M285.29 88.2h0M300.8 164.74h0M287.78 126.35h0M279.7 98.62h0M284.87 128.59h0M283.46 130.28h0M277.08 68.94h0M305.81 139.42h0M285.11 115.38h0M284.21 140.27h0M286.89 129.16h0M297.57 114.33h0M304.86 169.91h0M282.78 66.7h0M301.95 100.94h0M277.93 104.51h0M284.01 163.27h0M279.96 172.23h0M304.23 150.1h0M282.57 133.33h0M278.26 147.77h0M281.7 169.48h0M284.31 96.86h0M293.44 172.26h0M285.5 90.36h0M299.33 165.5h0M277.73 153.86h0M288.64 171.87h0M277.82 148.35h0M284.47 91.75h0M288.17 170.86h0M300.48 101.97h0M281.21 91.02h0M281.92 90.89h0M299.81 122.71h0M283.7 168.33h0M280.76 132.36h0M277.88 110.51h0M294.31 141.16h0M283.44 102.89h0M281.7 126.87h0M286.39 148.8h0M303.45 112.19h0M277.44 123.13h0M281.98 149.02h0M285.59 172.12h0M285.9 113.74h0M283.28 70.94h0M282.24 81.16h0M284.71 144.54h0M283.21 152.11h0M299.95 143.73h0M279.91 99.61h0M303.08 162.28h0M296.96 111.45h0M302.94 85.4h0M278.76 100.12h0M295.18 166.45h0M277.71 82.01h0M279.86 160.17h0M277.24 172.24h0M279.48 157.24h0M279.26 165.28h0M303.13 165.84h0M300.03 111.87h0M284.48 106.63h0M283.28 142.48h0M284.48 149.84h0M299.08 129.58h0M287.13 122.99h0M281.54 155.44h0M284.96 155.12h0M279.06 126.26h0M282.15 124.49h0M301.85 102.25h0M300.14 128.64h0M301.84 119.66h0M296.39 110.01h0M282.72 140.74h0M281.48 171.76h0M284.87 70.21h0M304.86 156.93h0M290.27 170.54h0M279.91 72.77h0M306.1 171.21h0M297.43 152.33h0M302.3 93.49h0M278.74 106.42h0M277.43 166.86h0M297.97 104.02h0M294.98 134.13h0M298.61 122.77h0M282.05 73.29h0M282.64 109.61h0M281.91 132.14h0M298.81 73.78h0M302.29 115.09h0M302.44 90.13h0M304.27 172.08h0M283.79 137.43h0M296.32 123.99h0M299.29 75.83h0M288.94 170.21h0M300.86 146.41h0M285.63 99.02h0M303.14 170.47h0M295.73 154.26h0M278.77 73.23h0M277.19 156.86h0M284.67 84.7h0M301.61 135.66h0M288.61 169.18h0M293.95 146.87h0M289.32 163.19h0M284.51 110.2h0M279.78 164.53h0M298.89 172.31h0M301.63 159.9h0M280.22 100.78h0M282.71 91.61h0M302.44 148.16h0M283.99 129.08h0M295.02 144.43h0M289.36 159.61h0M285.89 96.47h0M285.44 167.22h0M278.14 141.38h0M278.49 90.29h0M280.87 149.92h0M297.1 85.7h0M282.66 87.78h0M301.66 142.11h0M289.96 164.98h0M287.14 171.58h0M303.06 151.04h0M280.79 72.33h0M280.71 145.67h0M287.98 141.44h0M302.69 125.07h0M282.51 75.5h0M299.82 115.33h0M300.11 171.87h0M282.8 111.78h0M303.23 114.71h0M294.6 169.96h0M279.84 167.09h0M281.47 120.99h0M284.51 143.44h0M297.05 147.01h0M286.63 163.76h0M279.04 96.01h0M279 77.71h0M297.07 90.13h0M301.08 151.75h0M282.28 75.89h0M277.74 154.58h0M281.1 104.87h0M294.81 153.88h0M296.79 146.54h0M279 123.1h0M297.73 123.49h0M288.95 158.96h0M286.14 102.04h0M299.91 126.91h0M290.23 170.87h0M279.79 102.38h0M279.28 108.64h0M289.66 166.21h0M297.3 134.45h0M280.4 145.73h0M284.09 164.42h0M296.64 100.2h0M287.49 154.91h0M286.19 103.77h0M306.24 161.33h0M298.47 171.56h0M293.99 168.31h0M299.69 129.73h0M280.06 134.28h0M288.3 162.73h0M279.25 139.25h0M300.18 142.75h0M289.14 167.47h0M285.1 172.02h0M282.25 109.79h0M288.58 156.42h0M301.53 83.66h0M299.35 97.02h0M305.79 139.48h0M300.96 172.12h0M278.49 67.79h0M282.02 80.84h0M284.53 109.68h0M278.41 134.96h0M302.28 120.57h0M301.72 98.52h0M283.52 68.16h0M277.18 112.31h0M277.83 143.48h0M298.31 153.9h0M285.86 93.84h0M279 126.17h0M283.64 120.87h0M301.31 110.96h0M279.26 106.09h0M300.31 160.56h0M278.01 72.43h0M299.36 81.87h0M300.82 137.26h0M286.69 138.1h0M279.26 135.66h0M297.79 128.73h0M286.14 113.89h0M281.53 127.17h0M285.34 78.31h0M301.36 146.38h0M286.06 97.56h0M299.02 96.7h0M303.13 92.41h0M282.05 142.36h0M277.25 143.46h0M288.75 168.03h0M281.65 131.93h0M288.54 144.91h0M279.39 123.17h0M278.29 168.45h0M280.64 101.83h0M302.6 152.23h0M302.77 136.3h0M277.71 109.73h0M279.54 95.3h0M283.97 106.17h0M285.21 156.51h0M287.91 159.19h0M297.11 133.31h0M303.93 154.05h0M282.88 111.43h0M286.15 96.47h0M280.36 127.23h0M278.1 158.93h0M293.48 169.2h0M277.68 169.04h0M297.17 153.8h0M293.81 150.49h0M278.77 115.47h0M281.15 68.48h0M289.65 170.62h0M297.12 103.84h0M296.4 102.5h0M298.86 78.62h0M290.28 169.85h0M280.2 171.71h0M300.39 167.59h0M303.31 131.15h0M283.38 103.41h0M284.37 136.33h0M280.05 93.34h0M301.45 132.9h0M277.84 86.94h0M289.33 170.62h0M281.49 90.19h0M298.21 88.81h0M295.34 128.86h0M280.07 111.68h0M280.92 110.45h0M278.82 137.95h0M282.03 105.67h0M288.77 158.2h0M288.5 157.75h0M283.47 142.47h0M286.75 111.7h0M284.83 70.65h0M302.02 152.04h0M301.84 142.92h0M305.14 134.29h0M294.16 142.7h0M282.89 82.89h0M282.05 95.43h0M281.21 168.08h0M302.34 125.27h0M305.87 140.32h0M301.01 157.6h0M282.29 72.39h0M302.99 125.35h0M285.31 110.49h0M297.08 168.18h0M297.53 116.14h0M284.83 111.95h0M302.16 92.93h0M303.35 159.18h0M279.15 106.6h0M287.18 149.56h0M296.31 163.54h0M279.16 160.53h0M297.71 88.53h0M300.84 165.5h0M296.4 143.13h0M281.42 135.85h0M289.1 172.14h0M277.8 165.19h0M295.6 143.1h0M283.7 126.06h0M286.63 121.69h0M282.05 113.88h0M282.01 129.38h0M281.61 71.74h0M277.79 81.49h0M303.28 150.22h0M296.66 159.74h0M285.5 122.66h0M278.14 146.84h0M277.26 70.91h0M285.45 164.14h0M285.05 93.61h0M284.53 94.3h0M287.49 141.21h0M285.53 156.04h0M283.44 148.23h0M305.73 158.2h0M281.19 149.84h0M294.93 150.67h0M295.75 121.04h0M278.85 146.01h0M286.55 152.93h0M298.61 161.14h0M302.31 135.83h0M302.16 132.2h0M282.93 83.05h0M302.3 107.46h0M301.43 161.36h0M282.12 73.99h0M279.75 138.55h0M282.51 166.28h0M277.57 170.98h0M296.23 108.82h0M289.71 170.56h0M286.78 121.03h0M295.7 124.58h0M284.14 69.62h0M289.51 156.29h0M285.25 85.05h0M286.54 136.8h0M300.24 78.56h0M283.8 150.45h0M304.72 137.52h0M299.52 125.56h0M296.03 103.18h0M279.41 161.09h0M295.94 134.36h0M304.45 123.23h0M282.35 157.75h0M279.6 69.18h0M278.4 68.5h0M283.98 73.4h0M282.42 137.23h0M295.33 157.79h0M278.63 115.85h0M286.56 127.24h0M285.67 84h0M278.66 154.05h0M278.36 97.14h0M301.69 132.58h0M302.38 172.09h0M303.07 143.23h0M288.32 152.92h0M282.4 122.98h0M304.48 134.71h0M304.43 141.9h0M282.31 103.68h0M282.66 80.94h0M285.17 120.18h0M282.51 155.09h0M299.31 144.18h0M302.41 140.39h0M282.49 109.03h0M285.12 78.99h0M280.57 167.19h0M297.42 142.68h0M304.32 161.54h0M306.25 143.28h0M277.77 81.38h0M279.25 156.93h0M280.74 85.9h0M303.28 149.51h0M283.6 112.9h0M294.39 150.1h0M280.34 170.47h0M295.46 129.29h0M285.44 97.28h0M295.76 112.71h0M281.72 96.95h0M280.94 146.76h0M283.82 157.92h0M300.08 126.12h0M284.52 79.56h0M283.57 154.37h0M300.26 165.12h0M303.96 119.62h0M283.39 130.94h0M280.78 90.76h0M298.54 156.28h0M286.1 157.01h0M305.73 145.77h0M283.26 144.89h0M298.6 154.53h0M297.15 154.94h0M289.81 165.7h0M287.28 148.52h0M295.61 160.33h0M282.5 114.08h0M304.32 130.13h0M298.64 130.92h0M283.88 126.78h0M286.83 162.21h0M287.87 134.07h0M299.02 120.77h0M300.77 135.22h0M282.11 163.17h0M287.41 125.95h0M288.59 143.06h0M279.21 108.51h0M298.78 147.86h0M278.45 84.48h0M277.84 143.97h0M299.64 145.94h0M284.21 90.35h0M279.68 149.85h0M278.28 98.44h0M305.77 132.15h0M282.12 152.33h0M285.37 101.77h0M282.74 169.02h0M280.69 140.2h0M284.19 102.46h0M279.52 98.04h0M286.61 145.65h0M287.89 148.84h0M278.64 123.97h0M282.56 126.32h0M301.96 143.55h0M296.29 171.57h0M296.61 149.58h0M296.47 96.68h0M280.6 166.38h0M279.86 113.53h0M284.15 155.53h0M284.57 87.11h0M283.25 169.93h0M280.69 71.8h0M283.97 138.88h0M304.44 148.72h0M289.56 161.38h0M286.09 108.95h0M294.08 167.43h0M277.76 164.86h0M287.37 137.32h0M280.03 68.74h0M288.65 147.41h0M293.82 171.13h0M282.55 167.83h0M303.29 153.07h0M295.64 171.34h0M282.49 93.34h0M302.39 74.17h0M284.51 84.96h0M286.25 106.5h0M284.48 145.85h0M289.35 154.79h0M282.4 101.83h0M279.27 144.57h0M299.54 106.48h0M295.2 125.95h0M298.62 133.85h0M278.93 135.16h0M302.14 67.33h0M301.25 131.41h0M298.86 113.3h0M289.8 168.47h0M284.95 172.03h0M280.33 87.8h0M286.31 100.16h0M285.22 168.86h0M284.38 138.07h0M283.78 70.49h0M305.61 165.01h0M300.72 152.16h0M297.22 84.72h0M285.99 135.72h0M279.91 81.89h0M294.25 157.49h0M284.12 68.65h0M282.79 135.58h0M283.64 94.56h0M299.56 126.15h0M296.87 130.13h0M280.94 81.65h0M280.2 107.12h0M277.35 169.46h0M303.62 130.04h0M286.74 123.58h0M277.8 67.46h0M280.18 139.47h0M285.78 128.81h0M280.67 103.59h0M281.26 117.25h0M277.74 109.75h0M277.54 139.95h0M282.28 107.62h0M303.17 164.12h0M283.68 161.3h0M303.95 125.54h0M280.71 73.4h0M304.45 155.58h0M282.55 110.56h0M300.85 155.25h0M301.47 68.65h0M302.11 170.55h0M305.78 163.54h0M288.48 162.64h0M285.38 120.39h0M282.32 107.68h0M294.68 167.81h0M280.44 99.95h0M296.69 159.39h0M287.06 132.89h0M301.33 131.2h0M290.07 168.36h0M282.69 73.38h0M278.45 166.42h0M282.69 171.2h0M301.7 126.43h0M299.35 163.29h0M304.79 118.82h0M284.64 105.28h0M287.18 139.78h0M284.62 154.05h0M295.51 161.44h0M302.23 96.6h0M280.23 171.9h0M298.67 158.4h0M279.72 142.13h0M298.83 170.89h0M285.88 93.66h0M280.91 151.88h0M284.53 111.28h0M303.51 89.35h0M299.94 123.26h0M297.45 129.75h0M280.9 138.8h0M286.4 118.09h0M284.64 80.46h0M277.51 163.21h0M282.52 95.65h0M301.25 141.26h0M296.57 97.46h0M305.98 171.8h0M286.46 105.07h0M282.76 163.37h0M299.87 169.54h0M284.14 67.65h0M286.95 163.6h0M281.21 66.66h0M278.47 79.49h0M282.66 158.42h0M278.4 154.95h0M283.29 169.94h0M285.28 122.08h0M293.21 172.22h0M277.89 171.49h0M277.73 166.39h0M280.91 72.16h0M303.44 151.88h0M278.29 168.31h0M302.84 168.61h0M281.74 158.92h0M277.65 137.77h0M279.46 132.21h0M299.15 153.38h0M302.7 99.35h0M299.79 99.85h0M284.96 77.89h0M287.16 160.33h0M284.6 88.3h0M285.27 139.9h0M285.83 125.61h0M277.27 123.28h0M282.72 91.75h0M296.72 165.86h0M284.85 157.74h0M289.35 167.22h0M278.93 145.57h0M278.46 132.98h0M281.61 88.67h0M278.84 119.96h0M282.14 171.5h0M278.13 73.58h0M286.45 171.99h0M283.25 163.52h0M285.36 153.87h0M288.09 141.55h0M285.96 154.83h0M284.8 118.26h0M279.78 144.38h0M306.25 163.27h0M282.43 90.29h0M277.18 77.61h0M293.01 166.52h0M297.92 108.03h0M285.07 151.03h0M296.05 141.17h0M278.48 87.92h0M304.52 170.18h0M277.55 82.66h0M279.7 96.52h0M301.27 161.07h0M289.18 166.64h0M295.8 140.09h0M295.83 129.4h0M304.93 124.59h0M284.25 132.83h0M290.38 172.34h0M284.01 135.41h0M305.72 169.72h0M289.1 159.07h0M282.4 151.82h0M277.33 90.39h0M292.88 170.67h0M288.59 170.31h0M284.47 77.78h0M286.65 107.51h0M297.46 152.6h0M302.43 103.87h0M304.25 126.25h0M285.01 148.59h0M277.22 74.66h0M285.96 167.41h0M288.64 164.79h0M285.87 90.1h0M281.71 117.44h0M295.62 165.12h0M280.06 68.65h0M284.68 99.89h0M279.89 96.64h0M296.58 138.17h0M285.44 171.43h0M295.6 118.33h0M281.72 164.71h0M285.13 164.42h0M283.85 88.42h0M281.56 94.45h0M282.33 72.12h0M297.39 141.76h0M277.27 147.37h0M280.48 67.39h0M279.04 172.19h0M287.14 164.85h0M282.82 71.08h0M277.1 159.91h0M277.7 96.35h0M280.15 100.79h0M279.06 122.7h0M286.1 97.25h0M299.1 157.82h0M287.65 140.7h0M304.11 163.92h0M282.36 80.57h0M284.16 96.47h0M283.27 129.66h0M281.82 115h0M280.87 72.77h0M301.4 103.73h0M278.34 81.3h0M279.71 79.27h0M284.08 163.73h0M302.86 124.89h0M285.18 155.55h0M277.69 168.79h0M294.19 157.27h0M281.27 162.49h0M287 170.92h0M278.93 115.11h0M300.64 109.93h0M295.46 127.9h0M283.15 126.79h0M298.56 160.1h0M283.26 66.8h0M301.55 86.56h0M282.12 68.31h0M302.87 93.77h0M295.1 146.93h0M280.26 129.19h0M303.16 127.14h0M285.9 91.65h0M300.39 102.59h0M281.48 127.81h0M282.06 67.68h0M278.97 156.64h0M282.69 141.84h0M286.49 125.83h0M285.94 151.14h0M277.78 172.16h0M303.52 160.33h0M305.65 154.2h0M280.16 171.34h0M277.79 114.95h0M285.32 165.14h0M296.31 141.41h0M277.64 75.93h0M306.03 147.42h0M298.98 160.25h0M289.92 170.41h0M288.05 142.28h0M299.04 166.07h0M287.58 164.57h0M280.85 78.53h0M296.93 142.24h0M285.39 153.19h0M281.91 100.71h0M283.34 103.42h0M280.88 146.23h0M277.91 162.54h0M277.65 131.45h0M279.73 169.37h0M279.45 71.35h0M284.92 71.5h0M295.64 159.38h0M282.64 162.94h0M302.58 158.35h0M284.29 122.54h0M298.7 115.22h0M278.23 112.25h0M303.57 138.67h0M302.2 73h0M302.48 159.27h0M295.93 112.07h0M301.12 94.05h0M278.28 83.36h0M300.56 130.74h0M277.9 77.29h0M289.43 168.47h0M279.43 94.91h0M283.15 115.1h0M287.68 134.27h0M282.56 122.52h0M296.69 160.01h0M284.3 146.81h0M303.9 161.18h0M300.54 105.74h0M283.26 166.45h0M279.92 75.68h0M305.88 165.63h0M287.26 118.94h0M287.85 147.9h0M282.39 112.69h0M302.63 123.37h0M282.09 90.1h0M285.49 132.89h0M303.52 153.32h0M286.77 116.46h0M298.99 98.49h0M289.7 162.39h0M283.45 79.64h0M302.72 157.1h0M294.62 137.26h0M286.78 148.12h0M302.29 142.98h0M278.65 83.08h0M285.56 143.36h0M301.79 163.28h0M297.95 159.88h0M288.73 164.21h0M302.83 171.02h0M279.78 159.55h0M304.24 107.28h0M277.81 77.85h0M303.77 166.99h0M281.34 79.78h0M303.95 160.65h0M303.34 172.44h0M285.36 170.88h0M282.85 103.75h0M284.11 112.52h0M281.93 130.92h0M282.26 159.06h0M303.56 164.08h0M298.86 163.48h0M296.26 158.1h0M297.23 153.51h0M297.35 153.27h0M285.71 154.59h0M282.33 126.04h0M282.54 165.17h0M277.78 78.78h0M281.55 155.54h0M277.19 85.49h0M298.1 99.08h0M300.97 148.84h0M296.65 101.04h0M287.23 160.06h0M284.52 147.08h0M281.57 167.14h0M294.55 171.18h0M281.5 171.95h0M278.87 89.99h0M281.08 166.62h0M298.92 153.78h0M281.98 134.44h0M278.08 158.89h0M293.01 167.06h0M281.04 87.06h0M287.09 161.45h0M294.21 158.94h0M301.26 75.32h0M278.88 149.77h0M294.76 171.52h0M278.22 167.06h0M280.57 131.41h0M298.44 165.5h0M284.87 148.95h0M282.76 167.94h0M304.42 160.82h0M277.78 112.45h0M282.08 145.72h0M285.52 114.02h0M280.15 160.01h0M280.03 170.68h0M279.01 157.91h0M284.06 73.97h0M283.31 128.68h0M279.9 128.31h0M286.96 164.82h0M302.43 107.1h0M282.58 81.46h0M282.78 67.34h0M284.78 108.73h0M280.41 141.73h0M278.86 137.77h0M284.15 130.24h0M287.67 157.35h0M285.64 131.61h0M277.5 122.06h0M283.08 105.11h0M299.76 172.03h0M296.48 155.9h0M302.7 126.93h0M286.35 149.16h0M302.34 135.72h0M286.81 131.63h0M299.75 152.39h0M282.22 138.59h0M297.96 93.81h0M296.83 109.63h0M280.52 79.24h0M284.02 127.39h0M283.1 74.63h0M289.29 154h0M301.16 156.49h0M287.12 131.9h0M293.67 172.06h0M303.17 95.42h0M286.13 157.57h0M280.92 86.66h0M283.15 76.52h0M277.15 158.1h0M279.56 120.3h0M280.83 163.19h0M281.84 155.1h0M299.12 157.03h0M296.86 148.46h0M295.84 133.45h0M302.41 84.3h0M282.08 140.93h0M284.46 85.13h0M282.54 106.75h0M293.83 148.51h0M280.02 81.63h0M296.43 168.15h0M297.9 169.35h0M279.89 145.16h0M300.71 78.02h0M279.66 152.86h0M283.35 95.52h0M300.01 122.61h0M287.76 161.22h0M300.64 130.39h0M280.61 95.74h0M286.67 108.4h0M302.35 141.27h0M283.2 112.22h0M288.06 171.24h0M293.98 170.29h0M300.28 137.34h0M283.78 150.7h0M298.31 125.31h0M278.14 128.23h0M286.09 124.32h0M299.63 123.57h0M283.42 72.16h0M286.22 100.49h0M298.59 113.81h0M287.04 156.88h0M281.01 150.99h0M281.19 137.42h0M303.86 122.92h0M297.75 117h0M300.63 150.71h0M289.65 169.72h0M288.43 153.03h0M299.45 135.88h0M294.27 157.04h0M296.84 145.98h0M305.25 128.32h0M284.12 127.61h0M280.93 139.4h0M280.04 121.95h0M284.59 85.55h0M289.07 172.27h0M278.74 115.39h0M306 168.73h0M295.03 165.57h0M287.18 166.1h0M289.57 172.12h0M280.12 170.72h0M285.44 127.88h0M298.39 113.96h0M285.42 167.32h0M289.13 154.18h0M302.33 166.27h0M300.34 171.72h0M278.22 88.28h0M305.54 128.81h0M283.11 102.67h0M281.81 123.97h0M277.9 155.5h0M305.02 164.98h0M296.93 81.88h0M281.7 110.66h0M303.98 130.61h0M300.27 152.51h0M280.99 172.44h0M279.96 114.47h0M278.38 127.41h0M280.83 120.53h0M284.37 166.08h0M280.3 95.76h0M277.2 105.43h0M301.94 131.44h0M295.19 127.97h0M305.53 150.75h0M282.03 112.41h0M297.07 153.82h0M284.26 158.36h0M297.75 168.11h0M285.45 82h0M305.25 134.62h0M277.7 143.33h0M278.22 166.75h0M288.9 170.49h0M301.76 117.69h0M279.02 164.28h0M281 90.39h0M284.8 157.42h0M277.84 112.06h0M301.64 151.02h0M300.38 94.9h0M295.02 134.39h0M302.01 113.97h0M299.37 165.67h0M278.61 81.4h0M293.66 159.62h0M304.19 158.66h0M279.17 112.85h0M290.27 172.03h0M286.97 134.88h0M303.93 157.19h0M287.57 162.77h0M280.18 153.28h0M281.05 78.23h0M299.84 146.63h0M297.14 132.77h0M295.98 171.59h0M298.74 92.86h0M295.76 127.36h0M287.47 121.07h0M294.3 144.53h0M283.9 124.27h0M278.98 104.79h0M299.12 169.21h0M287.28 160.23h0M296.7 163.2h0M285.22 147.63h0M304.19 140.42h0M303.55 162.16h0M283.21 84.21h0M287.5 158.1h0M284.48 75.43h0M278.29 127.4h0M280.67 71.5h0M298.48 78.23h0M296.86 123.19h0M297.54 142.7h0M293.66 152.77h0M285.11 119.95h0M285.87 119.78h0M288.22 161.9h0M296.08 132.82h0M277.55 156.18h0M297.4 78.65h0M298.29 82.93h0M280.07 92.48h0M285.64 170.66h0M285.85 155.1h0M290.11 171.35h0M298.09 105.34h0M284.49 136.56h0M277.97 126.67h0M305.51 131.11h0M298.69 150.69h0M295.22 145.24h0M298.75 129.53h0M297.82 140.59h0M297.97 139.77h0M282.15 149.75h0M277.29 151.19h0M298.65 114.67h0M282.09 147.76h0M294.92 170.57h0M281.93 90.52h0M277.56 121.71h0M279.74 92.5h0M281.83 69.05h0M277.81 131.21h0M279.78 158.6h0M281.67 166.51h0M287.99 170.08h0M295.01 136.08h0M290.02 168.82h0M287.17 125.93h0M285.05 152.62h0M296.48 171.98h0M285.88 114.05h0M299.53 152.34h0M302.46 170.04h0M287.04 171.95h0M281.13 120.82h0M281.15 148.82h0M279.76 121.99h0M304.75 156.05h0M289.9 167.41h0M287.51 164.91h0M284.65 80.33h0M281.55 112.96h0M280.74 133.21h0M283.92 89.53h0M277.23 129.14h0M281.09 166.29h0M286.28 157.62h0M298.81 123.34h0M280.56 122.31h0M300.26 151h0M287.54 132.37h0M280.71 124.12h0M284.59 72.8h0M280.75 88.46h0M298.76 167.58h0M278.02 113.87h0M289.38 157.32h0M280.57 75.36h0M287.35 158.5h0M282.17 162.9h0M295.41 158.67h0M283.12 91.68h0M284.65 120.17h0M285.43 166.01h0M281.8 163.36h0M286.69 152.62h0M305.34 172.05h0M294.65 144.17h0M280.21 114.32h0M299.98 113.48h0M301.97 159.39h0M279.66 129.92h0M280.08 79.81h0M284.04 101.65h0M298.38 108.91h0M281.93 171.47h0M283.45 142.91h0M279.75 75.12h0M277.14 79.53h0M288.23 139.63h0M282.36 106.1h0M303.82 103.91h0M283.44 137.42h0M299.48 145.95h0M296.86 131.45h0M281.13 96.96h0M299.26 171.23h0M279.54 96.37h0M284.11 127.08h0M288.95 172.14h0M282.67 114.9h0M303.87 166.8h0M279.66 127.96h0M284.75 171.22h0M286.88 172.13h0M303.31 118.49h0M301.7 161.14h0M294.08 147.37h0M280.41 129.2h0M284.26 147.21h0M283.41 172.14h0M294.67 139.16h0M294.14 171.39h0M287.43 127.38h0M277.87 151.18h0M277.94 153.08h0M280.12 167.62h0M281.93 117.87h0M284.54 124.24h0M280.53 132.54h0M304.81 159.23h0M299.52 169.62h0M295.48 147.11h0M305.56 169.05h0M297.39 103.36h0M279.36 69.99h0M300.88 97.61h0M283.9 148.19h0M282.34 105.85h0M277.91 152.86h0M283.08 120h0M279.23 99.09h0M296.47 155.28h0M300.8 155.68h0M288.02 129.26h0M279.18 66.9h0M278.16 105.86h0M288.39 155.56h0M286.73 159.52h0M304.39 135.55h0M297.64 138.25h0M282.83 108.59h0M277.88 77.5h0M282.68 119.43h0M298.04 89.88h0M277.16 116.18h0M297.44 156.69h0M294.9 141.91h0M279.44 156.18h0M303.57 118.95h0M281.15 172.4h0M281.87 123.64h0M285.56 89.96h0M282 144.91h0M278.28 130.31h0M281.41 73.39h0M284.85 72.76h0M282.37 119.26h0M281.6 77.33h0M286.06 120.65h0M285.22 109.72h0M301.31 162.97h0M279.38 155.67h0M288.84 152.5h0M283.03 166.69h0M279.67 96.5h0M280.78 91.77h0M286.21 106.48h0M278.39 95.75h0M297.93 139.73h0M301.84 127.14h0M301.12 84.4h0M288.74 151.23h0M287.26 170.25h0M279.16 125.11h0M281.98 119.79h0M279.37 71.48h0M281.69 83.84h0M278.28 123.39h0M299.22 118.04h0M300.93 165.75h0M287.88 140.3h0M292.95 168.2h0M285.88 169.22h0M285.69 94.25h0M296.4 172.1h0M300.64 73.17h0M287.59 153.15h0M278.41 152.01h0M279.43 120.61h0M278.27 83h0M277.78 148.52h0M294.49 171.12h0M284.58 141.12h0M284.54 171.97h0M287.37 140.89h0M300.63 97.52h0M285.55 87.28h0M282.11 170.98h0M297.8 134.94h0M290.03 168.18h0M277.84 167.7h0M284.79 93.21h0M296.84 153.84h0M289.02 171.27h0M282.65 154.69h0M278.28 75.15h0M303.13 165.86h0M283.44 89.89h0M301.95 126.67h0M280.35 73.93h0M279.7 169.11h0M298.29 139.65h0M281.95 150.21h0M282.83 156.19h0M282.59 131.51h0M284.26 83.68h0M301.79 160.02h0M277.17 97.98h0M277.74 111.65h0M277.89 98.61h0M305.73 151.02h0M281.45 86.88h0M279.9 128.47h0M293.24 169.44h0M297.93 150.06h0M301.93 149.84h0M279.83 171.43h0M281.19 98.04h0M281.98 130.78h0M278.71 87.1h0M284.15 139.16h0M277.26 153.44h0M282.03 133.91h0M290.28 169.73h0M280.58 74.61h0M286.47 165.31h0M279.13 66.81h0M283.54 70.18h0M281.13 77.39h0M285.45 166.07h0M280.73 78.03h0M300.15 162.61h0M284.83 143.54h0M296.34 124.33h0M300.18 115.45h0M281.68 163.53h0M288.6 141.58h0M280.2 162.24h0M278.01 160.26h0M296.04 155.77h0M286.98 131.23h0M299.75 135.41h0M300.41 134.67h0M283.58 144.87h0M282.76 119.39h0M287.56 130.96h0M283.18 109.54h0M285.57 82.17h0M301.34 146.42h0M285.61 169.51h0M284.48 145.94h0M278.24 106.21h0M284.02 113.39h0M287.67 161.49h0M279.52 134.11h0M301.75 166.79h0M280.38 100.66h0M282.86 124.93h0M285.18 162.08h0M297.1 166.18h0M277.33 116.02h0M287.28 133.7h0M300.99 168.5h0M279.77 91.1h0M285.1 122.24h0M277.84 129.67h0M281.21 124.96h0M277.97 81.6h0M298.92 136.37h0M285.23 142.98h0M278.17 161.28h0M286.69 121.49h0M279.71 119.39h0M280.12 151.29h0M297.35 81.67h0M280.71 103.27h0M299.85 158h0M302.63 117.6h0M285.57 157.64h0M295.4 152.3h0M298.56 96.52h0M280.09 162.41h0M287.95 170.16h0M295.02 137.13h0M289.12 149.18h0M284.78 172.49h0M282.35 117.57h0M278.98 136.37h0M299.29 100.07h0M286.43 112.22h0M283.16 160.27h0M284.92 169.31h0M301.56 112.34h0M279.79 158.09h0M300.16 146.94h0M300.83 133.64h0M299.42 103.22h0M286.9 109.97h0M280.9 158.11h0M300.35 96.44h0M304.19 150.34h0M277.88 171.06h0M300.36 169.54h0M280.04 77.09h0M302.48 80.46h0M282.97 147.28h0M286.03 152.49h0M283.52 94.83h0M280.48 88.87h0M284.19 147.21h0M303.21 129.74h0M283.88 139h0M279.36 115.5h0M299.02 148.24h0M302.99 167.02h0M280 169.5h0M301.74 120.91h0M281.57 87.94h0M284.9 75.56h0M295.7 145.15h0M294.9 133.69h0M283.12 146.86h0M282.48 120.41h0M303.7 133.35h0M302.92 130.95h0M286.52 157.66h0M289.39 153.82h0M294.64 130.01h0M295.01 122.05h0M302.05 171.17h0M286.47 99.81h0M289.14 169.6h0M277.95 134.47h0M301.71 87.45h0M277.6 149.61h0M285.19 151.45h0M283.15 100.8h0M280.73 147.19h0M286.13 168.44h0M284.38 122.67h0M302.65 171.74h0M285.17 141.74h0M287.71 167.14h0M277.26 124.81h0M278.77 159.39h0M285.84 103.84h0M278.48 111.8h0M296.18 106.3h0M280.2 172.23h0M283.75 116.08h0M282.11 92.87h0M283.99 128.84h0M286.27 124.13h0M280.37 113.81h0M301.7 137.77h0M297.88 139.89h0M280.7 69.26h0M277.5 144.06h0M278.76 70.81h0M289.33 168.64h0M287.26 162.91h0M279.75 154.57h0M288.6 144.7h0M295.34 141.89h0M278.23 67.95h0M287.58 157.52h0M278.38 164.3h0M294.29 158.09h0M287.26 152.4h0M280.84 142.91h0M289.33 167.3h0M301.69 149.14h0M277.53 143.42h0M277.5 76.97h0M303.86 157.67h0M280.94 116.71h0M283.29 127.61h0M284.37 167.29h0M280.83 126.06h0M282.06 170.37h0M277.28 162.38h0M303.2 88.77h0M299.28 69.69h0M289.84 163.79h0M289.3 170.43h0M304.51 131.73h0M288.47 162.33h0M281.23 96.08h0M279.1 145.3h0M282.21 81.94h0M277.23 79.79h0M293.33 160.01h0M304.71 168.77h0M287.95 149.9h0M278.32 88.96h0M288.41 139.25h0M290.19 170.06h0M279.14 107.43h0M279.15 135.75h0M301.27 166.56h0M300.67 116.8h0M280.91 144.27h0M284.25 102.54h0M287.13 123.12h0M278.8 102.01h0M285.47 117.66h0M294.15 163.59h0M286.5 152.22h0M299.53 166.66h0M287.77 152.61h0M305.69 148.11h0M304.44 169.82h0M304.84 152.82h0M286.04 149.26h0M277.33 86.14h0M300.91 167.5h0M294.34 162.65h0M287.38 142.08h0M294.35 156.11h0M284.82 164.58h0M282.47 161.96h0M303.55 125.06h0M279.76 172.05h0M304.02 143.49h0M293.94 148.42h0M286.48 125.79h0M284.01 80.63h0M286.97 111.1h0M277.9 67.98h0M280.71 147.68h0M284.68 158.63h0M298.2 146.71h0M282.6 102.66h0M297.33 145.78h0M279.44 164.93h0M277.41 107.94h0M284.1 137.06h0M285.8 130.44h0M304.83 148.51h0M281.45 155.6h0M298.73 151.78h0M283.91 108.02h0M288.36 145.23h0M279.81 161.52h0M296.17 102.16h0M284.14 103.04h0M280.06 170.44h0M303.27 132.48h0M284.48 67.15h0M287.52 157.76h0M284.6 150.19h0M280.49 105.67h0M277.84 67.29h0M284.44 169.99h0M283.64 168.82h0M281.46 169.25h0M294.77 144.97h0M281.74 95.47h0M286.3 124.43h0M285.22 102.43h0M283.78 162.48h0M277.34 83.99h0M281.09 168.07h0M283.47 128.6h0M299.3 90.07h0M282.52 160.42h0M302.93 118.76h0M297.75 126.25h0M302.76 171.87h0M277.44 91.3h0M286.59 146.25h0M300.99 161.46h0M277.13 71.01h0M281.57 97.48h0M278.85 154.26h0M282.22 141.69h0M302.72 153.64h0M305.09 164.69h0M303.71 135.01h0M284.67 172.46h0M293.71 165.38h0M296.82 116.74h0M303.67 150.77h0M289.59 164.81h0M283.62 127.04h0M284.46 73.22h0M303.12 153.02h0M281.08 70.72h0M290.15 170.75h0M300.79 143.34h0M277.31 107.99h0M282.51 73.63h0M297.99 85.62h0M277.91 129.6h0M283.02 168.99h0M301.16 140.5h0M284.08 139.45h0M301.71 111.44h0M288.6 141.5h0M300.04 171.23h0M287.99 148.81h0M283.36 131.86h0M282.09 111.55h0M281.71 92.52h0M287.73 137.09h0M297.26 102.38h0M280.87 113.57h0M279.89 122.77h0M286.07 156.62h0M286.22 112.88h0M279.05 75.8h0M293.3 161.53h0M283.69 146.34h0M298.64 167.8h0M279.11 135.46h0M296.6 149.66h0M301.42 155.34h0M281.2 109.66h0M280.39 168.49h0M285.61 85.02h0M287.13 147.97h0M283.6 89.74h0M285.72 86.31h0M296.29 171.58h0M282.94 169.61h0M286.56 127.11h0M297.79 171.58h0M283.61 97.53h0M300.19 86.26h0M283.94 120.29h0M299.51 171.43h0M278.13 67.4h0M286.07 92.27h0M301.21 120.36h0M294.91 124.84h0M284.84 160.64h0M282.07 171.46h0M286.55 115.86h0M295.22 167.45h0M295.98 129.09h0M300.22 146.49h0M279.47 149.35h0M304.23 141.03h0M304.99 163.65h0M283.21 82.37h0M302.72 94.61h0M280.15 158.65h0M285.61 130.81h0M281.55 126.79h0M304.06 147.36h0M300.6 146.66h0M278.92 80.18h0M284.59 69.71h0M302.52 140.93h0M299.81 160.97h0M300.44 125.56h0M287.72 124.84h0M283.01 92.87h0M281.62 98.15h0M296.97 116.72h0M288.35 143.59h0M280.93 87.03h0M282.33 112.07h0M282.65 154.48h0M299.53 168.65h0M280.17 130.01h0M287.57 151.33h0M281.73 155.69h0M299.13 85.82h0M296.23 126.37h0M296.79 85.34h0M282.99 126.11h0M295.64 116.95h0M279.03 133.72h0M288.73 147.39h0M303.77 144.15h0M296.46 120.73h0M302.19 171.11h0M283.07 85.7h0M284.49 141.64h0M279.7 159.9h0M278.67 164.66h0M303.27 119.16h0M278.67 102.39h0M285.07 84.37h0M300.26 106.85h0M295.06 121.57h0M288.16 162.32h0M277.92 78.65h0M300.05 123.18h0M279.68 83.84h0M288.76 161.46h0M281.34 155.51h0M299.82 116.21h0M303.08 152.37h0M279.75 83.65h0M304.23 131.96h0M287.38 139.86h0M282.65 141.79h0M283 152.59h0M281.12 147.86h0M288.76 156.7h0M282.27 118.46h0M284.85 113.22h0M283.61 93.69h0M300.69 138.15h0M301.48 150.21h0M304.25 155.06h0M285.04 165.94h0M299.49 87.11h0M281.22 76.99h0M285.29 146.4h0M283.79 152.85h0M287.16 169.1h0M283.15 149.9h0M287.71 164.48h0M281.34 128.68h0M299.69 152.09h0M298.76 160.94h0M300.85 148.01h0M279.07 84.47h0M295.36 170.26h0M284.09 85.75h0M287.59 168.33h0M277.47 82.39h0M283.69 111.51h0M303.07 164.53h0M298.19 164.2h0M297.08 101.53h0M280.04 132.56h0M282.63 109.07h0M285.4 125.21h0M281.32 150.69h0M279.23 146.45h0M285.89 141.04h0M286.58 110.85h0M279.35 125.79h0M279.47 158.93h0M289.41 170.2h0M284.24 71.26h0M281.91 168.25h0M288.41 153.83h0M285.99 109.55h0M284.79 92.15h0M285.5 107.12h0M282.66 105.97h0M283.95 119.86h0M298.85 107.28h0M305.84 138.72h0M302.99 93.22h0M306.17 169.65h0M301.06 80.83h0M302.37 107.64h0M289.45 172.44h0M301 158.27h0M298.15 172.24h0M303.51 115.53h0M306 166.27h0M301.24 160.81h0M282.67 134.04h0M282.78 144.17h0M296.48 144h0M295.91 165.35h0M301.57 168.99h0M283.38 69.4h0M298.45 110.95h0M297.65 141.26h0M299.07 106.19h0M284.41 153.98h0M285.15 130.16h0M298.19 84.39h0M283.58 66.45h0M304.67 145.63h0M283.57 69.58h0M280.21 106.75h0M282.8 116.07h0M300.19 108.77h0M281.81 171.87h0M301.22 170.43h0M277.92 164.11h0M287.72 152.61h0M278.98 133.67h0M283.94 156.05h0M301.59 167.66h0M297.04 139.11h0M287.55 167.27h0M279.58 75.33h0M278.45 164.91h0M277.37 78.35h0M288.99 165.61h0M286.74 104.69h0M285.18 161.84h0M277.35 151.76h0M285.15 83.78h0M294.25 148.85h0M278.71 95.26h0M285.14 163.81h0M283.69 164.84h0M288.25 159.76h0M281.55 161.01h0M301.68 93.51h0M295.6 171.57h0M283.19 164.46h0M286.29 145.27h0M277.26 68.46h0M306.31 157.55h0M299.51 166.2h0M286.37 166.49h0M278.39 101.72h0M284.9 112.29h0M277.4 80.58h0M284.62 130.47h0M282.74 157.56h0M279.43 125.34h0M282.39 168.71h0M279.35 165.21h0M285.23 107.13h0M277.23 134.07h0M284.09 98.36h0M281.4 104.78h0M299.16 149.24h0M302.9 91.17h0M302.54 115.09h0M304.24 166.18h0M297.68 168.41h0M288.78 144.86h0M305.76 142.59h0M279.76 78.88h0M288.34 153.43h0M279.86 110.46h0M303 112.37h0M300.97 148.61h0M305.49 140.94h0M304.52 166.21h0M279.09 105.52h0M288.27 139.12h0M284.93 89.78h0M280.74 79.93h0M296.98 147.72h0M288.53 137.64h0M282.41 70.85h0M277.99 94.51h0M303.44 172.25h0M301.09 163.35h0M298.25 120.05h0M279.1 165.67h0M296.83 80.92h0M281.75 172.43h0M296.66 129.08h0M288.31 149.86h0M294.13 154.18h0M278.04 149.66h0M298.59 141.9h0M299.21 95.41h0M280.85 162.16h0M293.04 170.23h0M303.2 114.61h0M299.12 150.95h0M285.18 78.9h0M288.21 157.14h0M281.78 162.57h0M284.27 172.14h0M293.8 154.56h0M285.34 152.43h0M280.15 169.85h0M282.49 144.32h0M280.52 88.71h0M288.91 165.44h0M285.73 117.46h0M286.37 169.19h0M286.89 146.3h0M294.18 169.06h0M299.81 132.69h0M284.01 89.6h0M299.45 159.68h0M296.89 105.35h0M278.03 149.91h0M293.92 158.79h0M297.42 131.67h0M282.82 108.49h0M304.42 161.33h0M281.24 88.94h0M298.74 94.54h0M284.69 126.36h0M281.01 78.94h0M289.68 159.96h0M286.16 118.06h0M279.96 98.18h0M281.01 105.13h0M294.47 172.46h0M281.15 170.46h0M286.35 169.43h0M303.68 94.08h0M304.09 161.18h0M282.68 166.04h0M279.04 156.63h0M281.81 83.67h0M280.24 143.73h0M283.42 126.56h0M303.68 147.4h0M294.68 146.27h0" stroke="#bebebe" stroke-width="1.7" stroke-linecap="round" fill="none"/>
<path d="M272.69 79.14h0M271.06 72.93h0M274.93 98.01h0M268.81 187.24h0M271.76 132.07h0M272.89 132.8h0M276.42 85.11h0M269.27 83.16h0M270.6 91.93h0M273.35 73.54h0M265.48 158.23h0M275.15 86.44h0M276.2 188.16h0M273.28 141.11h0M275.53 121.63h0M276.07 120.48h0M273.36 192.26h0M275.35 143.55h0M270.67 192.98h0M271.13 171.42h0M270.04 106.61h0M265.07 167.84h0M271.29 109.08h0M271.19 77.65h0M275.99 141.95h0M275.4 190.56h0M269.16 129.01h0M273.83 168.55h0M257.32 177.76h0M276.24 105.81h0M275.15 103.43h0M261.39 139.07h0M275.26 152.29h0M271.75 176.57h0M274.91 142.42h0M271.75 90.2h0M266.97 107.61h0M276.15 183.42h0M270.16 92.5h0M274.84 97.4h0M272.67 125.42h0M276.1 130.5h0M276.08 103.26h0M273.75 177.51h0M271.64 152.93h0M275.72 66.83h0M272.31 159.01h0M275.25 140.21h0M274.68 163.51h0M274.28 182.34h0M269.05 153.75h0M263.94 114.37h0M267.72 75.27h0M262.43 142.18h0M255.86 81.98h0M274.11 176.79h0M271.47 99.88h0M273.06 78.51h0M274.8 189.14h0M276.2 92.34h0M276.12 119.34h0M274.05 187.55h0M275.26 75.98h0M268.49 177.68h0M275.23 156.67h0M271.29 176.11h0M273.22 165.27h0M275.58 161.64h0M275.51 160.7h0M276.37 96.25h0M272.46 102.89h0M268.87 160.77h0M267.65 180.5h0M270.13 85.72h0M273.56 90.08h0M275.69 151.27h0M270.13 107.57h0M275.44 70.6h0M274.29 186.65h0M272.48 94.33h0M272.3 181.26h0M276.08 187.15h0M257.8 68.17h0M275.66 78.39h0M269.96 137.75h0M274.07 138.91h0M275.56 186.78h0M276.34 103.42h0M275.47 89.32h0M259.03 90.14h0M268.02 79.8h0M273.15 94.51h0M275.46 138.65h0M275.26 133.13h0M272.51 141.48h0M273.56 96.98h0M272.94 142.71h0M267.09 156.01h0M275.44 186.99h0M275.46 170.67h0M270.68 93.16h0M270.16 87.14h0M270.08 94.26h0M275.92 101.99h0M265.82 106.5h0M271.16 92.97h0M264.81 184.08h0M274.57 157.32h0M272.03 70.14h0M276.27 153.53h0M274.34 103.91h0M275.12 116.56h0M272.92 162.11h0M275.7 125.45h0M275.22 192.43h0M273.21 189.06h0M275.95 134.58h0M256.52 118.62h0M271.59 162.82h0M273.43 125.67h0M270 129.66h0M275.14 184.86h0M265.74 186.44h0M269.94 67.22h0M267.86 159.14h0M273.23 164.8h0M270.24 149.47h0M275.39 177.89h0M275.7 166.41h0M272.74 151.82h0M264.93 68.42h0M275.24 193.31h0M274.71 67.38h0M276.17 164.19h0M269.76 154.28h0M273.97 76.52h0M272.17 135.84h0M271.37 139.13h0M267.86 101.85h0M269.36 81.28h0M269 150.27h0M273.31 191.29h0M272.29 106.09h0M271.95 88.77h0M275.34 159.81h0M272.27 84.49h0M272.9 91.24h0M268.46 158.08h0M272.47 153.17h0M266.13 75.59h0M271.51 128.15h0M256.04 150.24h0M275.93 172.27h0M274.4 98.86h0M271.33 161.26h0M269.46 187.08h0M275.14 115.99h0M274.72 161.95h0M255.01 112.34h0M270.44 82.49h0M266.7 99.73h0M273.78 113.31h0M270.73 130.31h0M269.77 188.04h0M274.26 162.64h0M274.23 130.98h0M272.8 172.87h0M276.07 190.8h0M273.32 75.43h0M274.03 175.52h0M272.69 170.35h0M266.66 164.28h0M267.89 140.79h0M268.81 187.13h0M274.5 116.51h0M274.55 166h0M264.25 155.97h0M273.93 114.42h0M274.71 74.88h0M276.25 181.76h0M272.91 169.06h0M262.01 117.02h0M275.51 126.29h0M276.35 113.77h0M265.87 131.76h0M276.36 164.79h0M271.61 126.91h0M274.31 142.89h0M269.44 114.46h0M270.84 174.53h0M267.26 144.93h0M273.7 92.59h0M274.35 169.92h0M274.72 165.54h0M274.57 130.41h0M276.21 185.03h0M274.56 179.03h0M276.25 149.18h0M273.63 126.92h0M274.9 191.36h0M272.43 171.67h0M274.2 188.13h0M267.89 81.23h0M274.84 153.42h0M273.81 193.06h0M264.7 134.67h0M275.7 117.09h0M270.2 185.18h0M275.64 191.55h0M275.04 118.21h0M275.4 85.09h0M274.78 178.66h0M269.38 77.06h0M276.23 120.03h0M273.42 94.27h0M276.39 118.21h0M272.35 184.67h0M272.59 113.94h0M271.03 86.25h0M258.27 93.67h0M272.91 179.06h0M272.39 188.16h0M243.03 97.88h0M273.17 124.05h0M275.73 88.51h0M274.37 171.61h0M274.94 147.71h0M274.19 104.1h0M274.29 192.66h0M274.31 162.53h0M274.26 187.86h0M270.52 106.28h0M273.3 70.06h0M258.41 153.66h0M272.84 79.92h0M276 158.31h0M275.44 129.3h0M275.06 183.64h0M275.52 150.56h0M274.92 176.89h0M272.62 165.11h0M272.38 77.62h0M260.95 143.4h0M265.87 129.12h0M270.84 127.18h0M272.13 130.66h0M273.29 131.66h0M267.69 141.49h0M270.38 108.84h0M271.09 170.1h0M273.27 113.53h0M274.16 129.98h0M274.1 162.15h0M276.4 180.71h0M274.44 166.12h0M274.28 172.29h0M258.35 97.36h0M269.54 102.18h0M268.94 188.61h0M274.24 122.2h0M274.94 114.41h0M275.13 177.93h0M275.53 190.73h0M267.08 108.96h0M275.82 164.31h0M271.04 139.89h0M271.37 176.89h0M264.95 92.84h0M271.21 67.03h0M276.41 120.81h0M268.23 123.48h0M267.31 172.23h0M273.88 160.39h0M273.41 149.26h0M274.65 178.21h0M270.14 79.21h0M270.02 178.71h0M276.03 84.56h0M268.84 119.63h0M274.72 160.27h0M274.21 115.59h0M275.53 88.91h0M274.52 125.07h0M260.88 85.89h0M273.76 121.85h0M268.49 127.58h0M270.54 73.64h0M265.56 180.26h0M272.38 132h0M275.59 82.72h0M272.14 111.61h0M264.51 182.95h0M260.91 78.39h0M269.52 122.75h0M275.86 126.22h0M270.59 102.9h0M271.58 94.22h0M272.34 126.43h0M274.21 151.6h0M276.24 105.12h0M274.3 72.1h0M272.11 136.74h0M276.42 150.85h0M272.26 183.67h0M274.03 97.3h0M273.11 192.62h0M274.94 98.66h0M273.41 173.24h0M273.83 160.32h0M274.73 190.99h0M273.65 85.61h0M272.77 163.73h0M274.28 135.84h0M272.87 145.45h0M276.44 193.16h0M270.49 90.97h0M275.03 121.95h0M276.45 145.94h0M273.31 149.06h0M274.89 100.03h0M262.31 113.44h0M275.43 190.83h0M275.22 149.06h0M271.06 77.79h0M276.26 163.24h0M262.97 141.6h0M273.69 111.69h0M267.3 153.71h0M274.5 136.2h0M275.78 97.4h0M271.49 172.15h0M276.44 190.71h0M271.08 184.02h0M265.32 89.02h0M274.44 185.91h0M276.28 179.62h0M270.33 120.92h0M274.72 122.12h0M275.09 182h0M272.16 130.78h0M276.42 173.99h0M276.4 161.2h0M273.92 131.41h0M272.43 109.83h0M271.7 184.53h0M259.53 154.71h0M253.57 111.45h0M275.43 173.85h0M261.03 134.65h0M273.4 71.26h0M268.43 106.66h0M270.68 109.71h0M274.91 149.54h0M261.12 145.46h0M274.33 161.68h0M271.59 96.99h0M268.66 166.8h0M276.42 106.71h0M267.41 89.89h0M274.01 69.99h0M262.84 165.06h0M270.92 156.69h0M273.69 132.56h0M272.9 161.37h0M276.08 192.83h0M276.13 114.16h0M275.25 158.92h0M263.39 68.12h0M271.8 115.2h0M266.78 75.62h0M274.77 153.46h0M268.6 157.18h0M270.36 71.23h0M269.87 90.08h0M274.71 73.52h0M271.99 68.9h0M268.86 174.48h0M274.09 164.18h0M271.12 176.4h0M272.43 180.54h0M276.26 71.21h0M263.89 92.96h0M274.99 157.84h0M270.61 123.24h0M271.27 91.33h0M275.85 189.23h0M262.25 66.88h0M269.53 74.95h0M264.46 119.25h0M276.12 178.94h0M271.9 92.13h0M270.09 170.67h0M273.29 193.01h0M276.29 136.91h0M271.73 185.8h0M271.1 147.66h0M275.93 154.59h0M271.83 159.72h0M271.74 87.7h0M272.08 173.85h0M275.59 120.41h0M266.82 85.84h0M270.9 88.97h0M273.68 69.77h0M265.77 161.5h0M276.13 151.09h0M276.05 121.01h0M270.37 185.43h0M274.35 94.7h0M275.59 167.35h0M274.82 90.39h0M271.77 163.17h0M270.55 83.16h0M275.76 183.03h0M270.46 89.43h0M267.52 181.47h0M261.96 123.82h0M266.72 141.81h0M271.78 152.11h0M275.98 128.65h0M273.6 166.91h0M276.43 73.72h0M275.25 176.79h0M274.68 68.37h0M274.52 112.69h0M270.51 129.94h0M272.8 109.36h0M274.84 192.89h0M273.03 177.18h0M268.73 192.6h0M271.25 178.09h0M272.27 89.4h0M269.32 77.79h0M273.11 118.26h0M258.84 84.9h0M269.35 81.21h0M273.19 110.62h0M260.07 140.13h0M273.8 84.78h0M272.68 159.72h0M276.36 81.57h0M268.82 193.27h0M274.62 179.56h0M270.94 176.14h0M272.39 113.39h0M266.52 114.45h0M274.54 78.81h0M270.71 67.03h0M271.63 89.03h0M270.59 127.25h0M276.24 166.96h0M274.09 158.89h0M274.3 176.77h0M269.11 86.01h0M272.96 157.81h0M269.4 142.54h0M270.3 134.64h0M274.09 133.45h0M266.29 68.9h0M276.46 104.33h0M276.14 66.61h0M269.21 118.05h0M272.41 160.7h0M275.26 187.14h0M272.9 114.42h0M274.11 176.56h0M275.99 155.77h0M272.23 144.74h0M269.2 184.17h0M273.53 136.74h0M275.89 140.91h0M275.73 177.35h0M263.65 136.02h0M275.18 176.89h0M273.4 143.92h0M273.47 79.62h0M273.42 157.46h0M275.21 183.31h0M271.8 145.49h0M262.53 178.63h0M273.46 154.87h0M274.48 167.46h0M272.68 69.56h0M265.34 182.96h0M256.93 154.13h0M261.76 150.14h0M259.51 141.8h0M273.68 143.89h0M264.11 69.85h0M276.22 73.99h0M273.34 85.99h0M272.35 74.75h0M271.2 121.99h0M275.02 107.37h0M276.01 173.7h0M273.26 170.43h0M270.58 123.33h0M274.82 174.72h0M272.3 163.83h0M276.11 115.6h0M257.16 124.57h0M228.66 116.15h0M237.07 107.6h0M252.2 139.85h0M238.25 115.65h0M245.35 117.56h0M248.57 163.23h0M234.66 168.06h0M237.54 144.99h0M232.08 99.92h0" stroke="#3a7aba" stroke-width="1.85" stroke-linecap="round" fill="none"/>
<path d="M308.31 178.32h0M319.28 186.73h0M309.55 158.03h0M335.97 116.81h0M321.71 171.69h0M316.59 183.02h0M307.3 186.18h0M316.18 160.87h0M309.2 143.44h0M307.15 170.63h0M316.22 184.32h0M307.56 192.62h0M309.27 141.75h0M307.17 188.05h0M312.13 151.95h0M311.55 153.25h0M313.86 177.9h0M308.04 189.39h0M307.49 72.98h0M308.8 184.66h0M321.14 164.63h0M347.12 136.63h0M308.14 191.77h0M308.88 164.71h0M307.46 163.89h0M319.05 179.86h0M311.22 192.11h0M314.92 153.06h0M310.37 185.84h0M324.45 160.27h0M313.33 180.46h0M313.54 186.28h0M312.05 178.01h0M308.57 178.05h0M322.76 183.77h0M318.39 143.03h0M310.89 155.27h0M316.95 166.29h0M318.17 148.91h0M322.48 137.05h0M311.31 191.5h0M306.96 160.22h0M307.95 190.38h0M314.05 149.49h0M310.56 192.79h0M307.34 153.54h0M316.42 181.9h0M309.14 176.66h0M313.88 164.51h0M309.92 184.98h0M308.02 178.52h0M311.95 180.65h0M311.94 188.65h0M311.7 180.78h0M307.8 192.42h0M307.85 174.51h0M333.75 104.1h0M310.49 185.34h0M306.92 175.06h0M310.37 193.29h0M307.38 185.87h0M308.24 161.37h0M315.5 190.24h0M307.89 165.47h0M307.14 192h0M312.36 175.26h0M308.85 168.73h0M310.85 171.84h0M307.06 153.41h0M314.34 181.97h0M320.06 158.33h0M308.32 187.01h0M313.55 94.19h0M319.88 157.82h0M312.16 148.07h0M307.95 167.11h0M307.57 153.4h0M317.05 119.78h0M328 185.38h0M318.11 191.87h0M308.21 183.45h0M325.74 151.77h0M307.65 175.8h0M313.03 182.64h0M308.11 186.32h0M313.83 178.86h0M309.6 89.57h0M307.07 183.53h0M311.71 175.83h0M316.76 179.3h0M308.53 187.06h0M308.75 187.38h0M310.33 169.2h0M317.52 148.79h0M314.16 118.75h0M310.86 190.28h0M316.88 185.67h0M311.39 192.57h0M309.12 193.11h0M312.17 183.4h0M310.08 165.81h0M308.17 191.73h0M308.88 174.07h0M309.94 173.56h0M307.15 183.42h0M308.21 167.2h0M308.14 170.28h0M309.1 184.08h0M313.87 187.18h0M307.14 140.88h0M314.42 190.58h0M307.1 186.36h0M315.15 188.8h0M311.83 76.87h0M310.86 138.26h0M310.28 177.24h0M309.26 159.71h0M313.45 144.83h0M307.5 180.43h0M314.36 191.47h0M314.81 176.74h0M315.02 183.58h0M307.8 189.59h0M308.22 193.26h0M307.17 189.84h0M307.61 172.58h0M307.71 183.04h0M308.39 167.05h0M309.97 187.68h0M312.08 190.94h0M311.29 185.37h0M308.64 189.47h0M315.78 79.59h0M322.72 113.21h0M315.19 87.5h0M309.49 189.98h0M315.11 153.76h0M308.62 192.13h0M312.31 157.42h0M307.07 180.97h0M310.63 144.93h0M308 171.64h0M310.09 182.21h0M314.43 142.08h0M312.17 149.7h0M307.14 181.42h0M318.81 171.67h0M312.03 181.69h0M310.03 189.97h0M307.65 189.33h0M308.09 192.6h0M310.32 188.25h0M306.95 151.39h0M322.9 162.15h0M308.08 190.49h0M310.32 184.15h0M314.68 190.86h0M319.41 192.16h0M307.06 178.74h0M308.07 189.45h0M309.61 180.58h0M311.12 142.01h0M319.35 118.07h0M310.74 187.79h0M311.75 149.5h0M312.81 177.91h0M312.57 172.48h0M308.54 192.87h0M315.06 128.24h0M324.64 129.08h0M307.18 179.48h0M310.99 183.24h0M314.36 192.77h0M307.31 167.54h0M334.1 166.01h0M306.91 191.52h0M307.19 189.5h0M309.18 179.76h0M323.95 186.27h0M308.61 181.33h0M315.72 173.38h0M312.68 160.59h0M309.79 189.31h0M319.02 187.81h0M311.02 167.92h0M309.17 182.04h0M307.1 172.25h0M308.26 175.58h0M313.5 183.93h0M310.07 187.51h0M308.77 186.62h0M312.38 188.23h0M309.23 73.85h0M326.45 148.54h0M308.64 183.54h0M309.74 133.8h0M307.46 189.46h0M309.02 142.53h0M310.77 189.76h0M307.18 180.47h0M310.11 191.88h0M315.1 192.1h0M316.9 181.57h0M308.99 193.11h0M315.49 181.64h0M334.74 173.98h0M316 172.26h0M310.83 163.32h0M307.87 155.11h0M308.38 191.55h0M312.1 153.08h0M307.54 188.67h0M309.22 187.44h0M325.74 187.81h0M315.1 153.96h0M312.51 183.9h0M307.34 164.28h0M309.35 180.72h0M320.94 189.57h0M308.09 186.2h0M316 152.94h0M314.13 135.09h0M306.97 177.59h0M306.95 184.14h0M329.12 166.91h0M309.1 162.59h0M314.27 188.97h0M325.97 117.32h0M307.05 124.65h0M308.23 187.8h0M308.61 186.04h0M315.4 156.19h0M310.35 162.3h0M308.3 173.01h0M308.84 179.36h0M307.05 178.46h0M312.53 191.59h0M324.57 183.65h0M308.39 189.11h0M310.35 176.39h0M309.65 185.52h0M306.91 163.83h0M311.72 177.96h0M318.61 159.55h0M317.07 173.64h0M308.64 148.39h0M311.52 179.92h0M311.24 189.28h0M314.39 161.68h0M307.59 183.8h0M315.3 182.98h0M310.8 101.05h0M307 182.97h0M313.22 111.98h0M314.27 175.13h0M313.18 171.11h0M309.41 189.69h0M312.42 169.79h0M312.1 185.85h0M314.31 187.08h0M337.09 156.32h0M308.6 182.97h0M306.96 175.85h0M309.8 178.71h0M317.42 179.66h0M307.51 159.38h0M307.98 170.83h0M309.92 182.19h0M307.61 189.2h0M318.06 186.87h0M308.53 189.62h0M306.95 153.43h0M312.21 192.65h0M313.81 175.98h0M307.98 190.22h0M307.44 191.45h0M313.91 167.04h0M309.05 191.3h0M307.33 166.24h0M321.71 187.64h0M312.99 180.69h0M310.21 162.35h0M310.66 183.22h0M314.03 178.64h0M312.8 117.23h0M310.68 189.12h0M314.74 184.68h0M319.73 189.39h0M309.93 151.94h0M326.13 187.2h0M307.36 176.8h0M337.41 159.61h0M307.05 167.74h0M319.65 181.67h0M307.3 189.22h0M308.32 190.25h0M311.92 184.45h0M306.95 187.91h0M313.28 144.07h0M310.82 161.46h0M316.15 193.35h0M307.46 142.6h0M307.3 176.74h0M331.88 183.86h0M307.21 191.17h0M313.72 126.28h0M307.58 190.44h0M318.75 186.85h0M309.85 191.66h0M307.21 162.93h0M310.23 171.51h0M310.26 116.38h0M309.09 193.08h0M315.69 191.1h0M322.57 141.9h0M315.95 184.16h0M309.12 191.77h0M313.69 192.44h0M316.11 186.84h0M311.19 192.08h0M307.86 158.66h0M313.12 170.81h0M309.69 189.24h0M308.58 184.94h0M311.73 149.44h0M310.61 175.48h0M315.17 186.2h0M307.31 167.33h0M307.29 185.39h0M311.48 176.93h0M311.4 192.58h0M309.73 188.92h0M308.25 171.16h0M311.61 177.03h0M307.99 187.23h0M311.41 157.87h0M310.41 192.05h0M316.17 168.21h0M308.89 191.11h0M311.28 157.91h0M307.94 190.16h0M322.16 179.74h0M312.49 172.04h0M313.36 138.3h0M315.59 180.12h0M307.11 101.46h0M314.85 148.13h0M309.21 160.57h0M307.43 163.78h0M310.45 178.11h0M308.37 154.06h0M314.92 165.37h0M312.61 171.88h0M309.52 175.87h0M308.42 142.68h0M307.18 163.14h0M311.95 156.24h0M318.36 160.13h0M320.29 191.87h0M307.26 174.11h0M313.51 193.09h0M309.75 152.32h0M311.66 137.45h0M321.72 162.43h0M308.72 182.45h0M312.72 192.65h0M311.58 192.74h0M316.26 179.09h0M310.24 155.2h0M317.2 190.87h0M310.73 147.25h0M313.06 67.51h0M308.24 193.03h0M314.67 131.97h0M309.48 141.28h0M308.91 191.41h0M311.89 163.77h0M308.54 153.96h0M311.05 186.57h0M310 185.1h0M312.48 124.7h0M307.41 151.52h0M310.14 193.34h0M307.67 183.34h0M312.98 120.96h0M320.06 185.48h0M314.87 178.74h0M311.16 150.86h0M308.5 182.99h0M307.34 182.22h0M323.17 144.57h0M322.41 138.67h0M311.91 173.08h0M313.86 174.24h0M312.69 162.77h0M314.06 144.93h0M307.66 166.5h0M313.94 176.48h0M310.98 173.86h0M318 153.27h0M311.54 188.03h0M316.01 158.62h0M308.7 185.07h0M316.87 186.7h0M307.48 162.93h0M309.29 189.67h0M315.53 169.15h0M307.35 175.14h0M312.77 186.68h0M307.56 177.83h0M309.43 192.84h0M311.86 186.95h0M317.19 191.75h0M311.42 179.42h0M307.62 183.91h0M315.58 187.36h0M312.33 172.33h0M306.92 183.68h0M308.96 193.09h0M308.5 123.09h0M308 192.58h0M309.25 173.25h0M316.56 159.19h0M314.13 185.32h0M312.48 146.46h0M311.31 149.62h0M309.04 190.53h0M307.46 174.69h0M309.29 182.44h0M309.96 124.94h0M320.79 171.95h0M309.97 177.57h0M310.03 191.81h0M313.72 187.09h0M308.49 190.34h0M317.15 174.87h0M308.27 187.02h0M310.8 189.95h0M307.74 166.79h0M307.46 190.02h0M307.37 185.16h0M310.46 174.9h0M313.54 184.22h0M308.06 177.25h0M320.88 177.99h0M312.45 117.64h0M307.78 187.8h0M308.56 181.31h0M313.87 111.33h0M308.23 179.08h0M314.44 190.99h0M313.31 190.68h0M307.31 168.19h0M307.56 183.18h0M309.33 160.87h0M307.38 145.66h0M309.94 175.38h0M320.74 150.01h0M308.09 192.93h0M343.63 149.29h0M310.68 187.66h0M308.81 161.14h0M307.14 171.15h0M307.29 157.6h0M307.97 178.14h0M312.67 171.1h0M308.37 189.78h0M309.66 79.62h0M310.09 142.96h0M308.54 162.21h0M310.8 181.28h0M313.05 180.13h0M312.62 145.55h0M309.68 191.28h0M310.5 190.22h0M308.96 191.03h0M309.52 182.19h0M311.25 160.8h0M331.07 131.76h0M310.91 179.95h0M310.01 152.99h0M311.1 177.67h0M309.3 169.02h0M310.58 186.71h0M312.39 156.8h0M308.2 191.65h0M307.29 192.57h0M312.73 182.52h0M308.23 188.45h0M309.68 158.86h0M307.24 182.45h0M308.27 162.95h0M320.85 126.73h0M309.66 151.09h0M333.17 134.39h0M310.88 189.52h0M310.01 187.05h0M317.9 162.93h0M306.93 180.28h0M310.56 166.79h0M310.78 182.09h0M316.24 107.94h0M307.46 183.47h0M316.61 166.71h0M309.01 188.23h0M312.85 182.17h0M313.11 166.2h0M315.82 103.67h0M315.88 186.11h0M310.08 191.87h0M312.08 170.09h0M307.62 176.57h0M308.96 166.53h0M310.05 186.89h0M308.55 82.13h0M310.13 175.2h0M316.06 185.62h0M310.17 172.78h0M308.03 168.69h0M307.89 185.51h0M308.74 185.69h0M312.05 184.87h0M307.66 187.39h0M315.01 190.08h0M327.47 181.54h0M316.07 188.53h0M317.67 87.89h0M313.97 184.91h0M315.32 187.9h0M309.73 162.56h0M307.9 182.54h0M311.28 149.44h0M318.26 185.84h0M319.09 164.26h0M307.57 178.3h0M309.92 190.66h0M323.43 135.81h0M307.62 177.66h0M319.61 92.52h0M310.16 180.21h0M309.38 185.99h0M313.28 183.87h0M307.08 176.51h0M309.2 189.09h0M315.78 162.72h0M306.98 193.1h0M313.2 187.05h0M310.53 193.36h0M307.05 189.64h0M308.29 175.02h0M334.35 112.59h0M311.49 154.52h0M311.55 142.84h0M325.23 167.74h0M309.19 189.57h0M318.96 180.7h0M307.54 188.46h0M322.4 193.12h0M312.12 164.73h0M315.91 167.18h0M310.01 192.03h0M310.57 187.68h0M308.74 155.58h0M310.18 188.4h0M311.29 78.67h0M311.33 189.58h0M320.46 190.03h0M307.22 155.07h0M309.38 187.03h0M314.01 139.79h0M312.59 175.39h0M310.26 140.88h0M318.62 131.64h0M312.86 123.44h0M332.16 174.59h0M309 192.28h0M318.22 174.39h0M308.55 183.04h0M317 127.13h0M312.27 191.67h0M308.94 168.66h0M309.5 186.68h0M315.43 181.53h0M319.78 172.56h0M322.11 98.72h0M317.16 188.42h0M307.17 167.4h0M312.84 171.15h0M312.33 186.08h0M318.98 179.72h0M312.71 186.9h0M308.11 179.39h0M306.94 184.39h0M324.04 131.22h0M312.18 187.77h0M310.2 180.5h0M306.93 166.43h0M309.81 163.21h0M307.46 171.89h0M308.65 148.04h0M307.87 186.64h0M317.4 175.57h0M310.61 176.14h0M312.43 175.16h0M307.15 188.09h0M309.31 174.53h0M311.92 193.3h0M310.18 167.11h0M312.6 193h0M310.93 189.28h0M310.68 130.06h0M311.78 193.4h0M306.99 180.62h0M309.75 191.94h0M308.78 190.88h0M306.94 167.35h0M309.32 163.35h0M307.31 175.15h0M307.64 148.9h0M321.44 159.8h0M315.23 155.96h0M314.33 191.05h0M309.27 137.53h0M313.5 187.13h0M307.66 185.11h0M308.48 167.93h0M310.89 189.57h0M310.76 176.23h0M307.23 162.56h0M309.94 154.8h0M332.83 160.79h0M324.51 175.7h0M309.58 186.12h0M310.77 142.81h0M313.18 185.19h0M308.07 149.03h0M308.55 145.34h0M321.02 174.27h0M307.97 147.49h0M311.85 186.78h0M308.23 192.94h0M310.25 188.52h0M312.21 189.96h0M311.03 191.24h0M320.54 184.56h0M314.77 174.65h0M316.86 179.87h0M307.03 184.29h0M312.98 166.91h0M310.35 169.92h0M316.94 182.89h0M313.67 188.3h0M309.1 190.44h0M327.18 162.78h0M314.14 169.36h0M323.98 180.71h0M309.84 180.13h0M315.62 169.72h0M307.14 191.84h0M316.74 169.15h0M307.42 189.68h0M310.36 193.27h0M306.97 192.47h0M310 179.25h0M314.79 187.05h0M322.47 168.86h0M307.73 162.45h0M309.2 150.68h0M313.43 119.71h0M309.34 153.41h0M310 169.36h0M309.89 188.84h0M316.21 157.78h0M308.29 164.28h0M324.19 167.09h0M310.59 190.22h0M313.32 192.46h0M307.15 173.94h0M319.01 152.94h0M313.89 160.94h0M316.15 156.68h0M309.45 189.08h0M308.27 178.09h0M309.83 142.57h0M314.01 168.14h0M309.73 170.47h0M312.7 173.57h0M309.11 189.51h0M308.72 193.23h0M306.93 136.4h0M327.33 172.22h0M317.35 130.25h0M313.4 155.97h0M307.69 188.55h0M321 166.51h0M309.83 185.23h0M307.92 190.19h0M307.17 193.29h0M309.73 181.6h0M320.73 189.84h0M307.24 158.54h0M327.39 187.53h0M312.76 190.51h0M311.76 177.05h0M307.14 183.74h0M308.59 133.29h0M307.41 190.63h0M344.43 74.39h0M307.05 168.22h0M311.78 145.52h0M319.53 193.16h0M308.7 118.42h0M319.09 163.86h0M318.44 109.12h0M310.39 159.34h0M310.77 185.42h0M314.54 188.53h0M309.05 175.06h0M308.07 180.85h0M316.7 124.63h0M317.79 192.99h0M313.5 134.89h0M310.25 183.35h0M309.24 176.83h0M319.27 189.92h0M307.2 187.73h0M309.66 183.8h0M307.35 178h0M312.7 180.56h0M307.16 177.46h0M313.54 187.68h0M310.42 170.97h0M321.09 154.34h0M313.54 190.43h0M310.66 169.8h0M307.54 184.01h0M317.22 173.45h0M314.16 165.74h0M308.74 175.38h0M312.8 166.24h0M325.04 176.23h0M324 186.49h0M312.54 165.24h0M316.08 115.94h0M318.18 170.42h0M307.82 144.86h0M307.83 188.88h0M316.16 140.2h0M307.13 174.15h0M307.19 190.33h0M307.32 178.79h0M329.42 169.27h0M309.32 189.56h0M310.96 166.12h0M307.64 174.33h0M311.43 135.78h0M307.24 176.96h0M330.13 157.91h0M309.78 158.06h0M309.35 192.72h0M310.02 174.85h0M335.11 175.44h0M307.25 172.6h0M318.4 170.52h0M322.85 180.4h0M316.68 166.93h0M309.81 162h0M320.65 156.23h0M307.08 193.26h0M309.09 148.16h0M309.44 192.4h0M320.07 143h0M307.58 187.22h0M319.11 158.85h0M307.8 165.53h0M311.79 172.78h0M308.68 175.19h0M311.93 188.82h0M312.9 173.18h0M334 87.65h0M323.07 172.39h0M318.42 83.8h0M322.24 168.85h0M322.54 158.5h0M312.28 161.66h0M310.19 183.3h0M319.1 146.62h0M315.64 144.1h0M310.6 175.33h0M309.08 147.44h0M329.68 155.01h0M323.41 177.77h0M328.65 153.25h0M312.55 168.89h0M307.82 185.75h0M309.49 166.75h0M310.29 129.98h0M309.43 159.91h0M307.1 193.07h0M316.14 191.33h0M309.02 169.8h0M312.72 165.72h0M309.78 186.97h0M316.62 143.88h0M325.72 177.01h0M307.33 151.61h0M309.45 184.67h0M307.58 169.13h0M312.32 170.33h0M318.53 134.19h0M310.13 142.1h0M323.81 176.85h0M309.96 156.72h0M315.35 190.71h0M318.03 184.18h0M322.5 166.21h0M308.22 190.34h0M329.65 125.43h0M313.1 169.92h0M313.25 166.41h0M316.82 164.04h0M312.46 161.33h0M308.47 183.26h0M307.05 186.04h0M326.92 117.25h0M322.29 162.19h0M309.11 190.69h0M312.92 134.55h0M308.84 129.89h0M309.26 190h0M307.7 182.92h0M317.96 183.86h0M319.82 164.26h0M307.29 172.44h0M308.97 176.06h0M307.13 159.29h0M318.86 169.39h0M311.07 168.05h0M307.04 192.18h0M310.7 185.56h0M312.8 189.43h0M306.99 159.25h0M323.08 168.85h0M310.75 186.17h0M314.74 146.52h0M314.62 146.04h0M308.48 185.5h0M310.42 165.31h0M307.51 135.8h0M307.01 170.6h0M309.61 168.33h0M313.02 147.99h0M313.94 193.37h0M309.34 189.8h0M311.86 173.85h0M323.2 97.29h0M312.33 192.71h0M311.85 145.04h0M309.57 184.15h0M309.13 173.04h0M311.79 185.14h0M314.42 157.87h0M320.04 156.55h0M311.75 190.95h0M307.05 161h0M309.1 192.73h0M307.02 190.09h0M308.53 181.78h0M309.36 189.54h0M312.93 175.58h0M315.61 192.9h0M322.11 179.02h0M309.73 186.07h0M329.57 165.96h0M311.16 115.04h0M309.56 146.65h0M310.36 181.47h0M317.47 183.78h0M316.23 174.34h0M308.76 175.05h0M308.32 179.08h0M335.73 188.95h0M311.63 177.68h0M307.82 180.07h0M308.46 173.26h0M318.34 193.15h0M342.25 118.76h0M328.29 172.06h0M317.35 185.74h0M308.83 130.52h0M318.59 157.67h0M318.6 183.36h0M311.26 167.55h0M310.86 190.83h0M331.53 72.31h0M341.05 88.02h0M346.25 87.09h0M344.09 91.03h0M317.14 106.67h0M329.89 81.22h0M320.68 86.57h0M352.02 95.11h0M349.46 87.23h0M323.2 91.44h0M316.41 98.6h0M319.98 92.17h0M356.76 88.66h0M359.33 95.34h0M351.42 69.64h0M315.05 117.96h0" stroke="#d21c1c" stroke-width="1.85" stroke-linecap="round" fill="none"/>
<path d="M276.3 62.2V211.8M306 62.2V211.8M216.6 193.5H367.0" stroke="#222" stroke-width="0.9" stroke-dasharray="3 2.3"/>
<path d="M216.6 62.2V211.8H367.0" stroke="#333" stroke-width="0.7" fill="none"/>
<path d="M215.0 205.2H216.6M215.0 159.85H216.6M215.0 114.5H216.6M215.0 69.15H216.6M252.7 211.8V213.4M291.7 211.8V213.4M330.7 211.8V213.4" stroke="#333" stroke-width="0.6"/>
<text x="214.6" y="206.6" font-size="4.3" fill="#222" stroke="#222" stroke-width="0.12" text-anchor="end">0</text>
<text x="214.6" y="161.25" font-size="4.3" fill="#222" stroke="#222" stroke-width="0.12" text-anchor="end">5</text>
<text x="214.6" y="115.9" font-size="4.3" fill="#222" stroke="#222" stroke-width="0.12" text-anchor="end">10</text>
<text x="214.6" y="70.55" font-size="4.3" fill="#222" stroke="#222" stroke-width="0.12" text-anchor="end">15</text>
<text x="252.7" y="218" font-size="4.3" fill="#222" stroke="#222" stroke-width="0.12" text-anchor="middle">-4</text>
<text x="291.7" y="218" font-size="4.3" fill="#222" stroke="#222" stroke-width="0.12" text-anchor="middle">0</text>
<text x="330.7" y="218" font-size="4.3" fill="#222" stroke="#222" stroke-width="0.12" text-anchor="middle">4</text>
<text x="291.6" y="223.7" font-size="4.6" fill="#111" stroke="#111" stroke-width="0.15" text-anchor="middle">log<tspan font-size="3" dy="1">2</tspan><tspan dy="-1">(FoldChange)</tspan></text>
<text transform="translate(206.3 137.6) rotate(-90)" x="0" y="0" font-size="4.8" fill="#111" stroke="#111" stroke-width="0.15" text-anchor="middle">-log<tspan font-size="3" dy="1">10</tspan><tspan dy="-1">(adj.PValue)</tspan></text>
<circle cx="228.6" cy="76.1" r="0.9" fill="#3a7dbd"/>
<text class="dj" x="233.4" y="77.3" font-size="2.95" fill="#222" stroke="#222" stroke-width="0.08">Down regulation</text>
<circle cx="228.6" cy="82.0" r="0.9" fill="#bdbdbd"/>
<text class="dj" x="233.4" y="83.2" font-size="2.95" fill="#222" stroke="#222" stroke-width="0.08">Not significant</text>
<circle cx="228.6" cy="87.8" r="0.9" fill="#d81e1e"/>
<text class="dj" x="233.4" y="89" font-size="2.95" fill="#222" stroke="#222" stroke-width="0.08">Up regulation</text>
<path d="M12.5 250.4V350.3H367.2V250.4" fill="none" stroke="#e2e2e2" stroke-width="0.8"/>
<rect x="19.2" y="253.3" width="143" height="84.1" fill="#fff" stroke="#aaa" stroke-width="0.6"/>
<path d="M32.38 253.3V337.4M45.26 253.3V337.4M58.14 253.3V337.4M83.9 253.3V337.4M148.3 253.3V337.4" stroke="#9a9a9a" stroke-width="0.6"/>
<rect x="19.5" y="256.1" width="136.4" height="3.15" fill="#a8360c" stroke="#b9a48c" stroke-width="0.6"/>
<rect x="19.5" y="260.11" width="114.2" height="3.15" fill="#e2641a" stroke="#b9a48c" stroke-width="0.6"/>
<rect x="19.5" y="264.12" width="104.9" height="3.15" fill="#e2641a" stroke="#b9a48c" stroke-width="0.6"/>
<rect x="19.5" y="268.13" width="104.2" height="3.15" fill="#e2641a" stroke="#b9a48c" stroke-width="0.6"/>
<rect x="19.5" y="272.14" width="100.2" height="3.15" fill="#e2641a" stroke="#b9a48c" stroke-width="0.6"/>
<rect x="19.5" y="276.15" width="83.1" height="3.15" fill="#e2641a" stroke="#b9a48c" stroke-width="0.6"/>
<rect x="19.5" y="280.16" width="74.3" height="3.15" fill="#e2641a" stroke="#b9a48c" stroke-width="0.6"/>
<rect x="19.5" y="284.17" width="72.9" height="3.15" fill="#e2641a" stroke="#b9a48c" stroke-width="0.6"/>
<rect x="19.5" y="288.18" width="69" height="3.15" fill="#e2641a" stroke="#b9a48c" stroke-width="0.6"/>
<rect x="19.5" y="292.19" width="67.5" height="3.15" fill="#e2641a" stroke="#b9a48c" stroke-width="0.6"/>
<rect x="19.5" y="296.2" width="67" height="3.15" fill="#e2641a" stroke="#b9a48c" stroke-width="0.6"/>
<rect x="19.5" y="300.21" width="66.2" height="3.15" fill="#e2641a" stroke="#b9a48c" stroke-width="0.6"/>
<rect x="19.5" y="304.22" width="65.5" height="3.15" fill="#e2641a" stroke="#b9a48c" stroke-width="0.6"/>
<rect x="19.5" y="308.23" width="63.3" height="3.15" fill="#f29a34" stroke="#b9a48c" stroke-width="0.6"/>
<rect x="19.5" y="312.24" width="60.6" height="3.15" fill="#f29a34" stroke="#b9a48c" stroke-width="0.6"/>
<rect x="19.5" y="316.25" width="60.3" height="3.15" fill="#f29a34" stroke="#b9a48c" stroke-width="0.6"/>
<rect x="19.5" y="320.26" width="60" height="3.15" fill="#f29a34" stroke="#b9a48c" stroke-width="0.6"/>
<rect x="19.5" y="324.27" width="55.7" height="3.15" fill="#f29a34" stroke="#b9a48c" stroke-width="0.6"/>
<rect x="19.5" y="328.28" width="53.9" height="3.15" fill="#f29a34" stroke="#b9a48c" stroke-width="0.6"/>
<rect x="19.5" y="332.29" width="52.5" height="3.15" fill="#f29a34" stroke="#b9a48c" stroke-width="0.6"/>
<path d="M19.2 337.4H162.2M19.2 253.3V337.4" stroke="#777" stroke-width="0.6"/>
<path d="M19.5 337.4V338.6" stroke="#555" stroke-width="0.5"/>
<text class="dj" x="19.5" y="343.8" font-size="4.2" fill="#222" text-anchor="middle">0.0</text>
<path d="M35.6 337.4V338.6" stroke="#555" stroke-width="0.5"/>
<text class="dj" x="35.6" y="343.8" font-size="4.2" fill="#222" text-anchor="middle">2.5</text>
<path d="M51.7 337.4V338.6" stroke="#555" stroke-width="0.5"/>
<text class="dj" x="51.7" y="343.8" font-size="4.2" fill="#222" text-anchor="middle">5.0</text>
<path d="M67.8 337.4V338.6" stroke="#555" stroke-width="0.5"/>
<text class="dj" x="67.8" y="343.8" font-size="4.2" fill="#222" text-anchor="middle">7.5</text>
<path d="M83.9 337.4V338.6" stroke="#555" stroke-width="0.5"/>
<text class="dj" x="83.9" y="343.8" font-size="4.2" fill="#222" text-anchor="middle">10.0</text>
<path d="M100 337.4V338.6" stroke="#555" stroke-width="0.5"/>
<text class="dj" x="100" y="343.8" font-size="4.2" fill="#222" text-anchor="middle">12.5</text>
<path d="M116.1 337.4V338.6" stroke="#555" stroke-width="0.5"/>
<text class="dj" x="116.1" y="343.8" font-size="4.2" fill="#222" text-anchor="middle">15.0</text>
<path d="M132.2 337.4V338.6" stroke="#555" stroke-width="0.5"/>
<text class="dj" x="132.2" y="343.8" font-size="4.2" fill="#222" text-anchor="middle">17.5</text>
<path d="M148.3 337.4V338.6" stroke="#555" stroke-width="0.5"/>
<text class="dj" x="148.3" y="343.8" font-size="4.2" fill="#222" text-anchor="middle">20.0</text>
<text class="dj" x="91.5" y="348.2" font-size="4.2" fill="#222" text-anchor="middle">-log10(P)</text>
<text class="dj" transform="translate(164 259.6) rotate(0.02)" font-size="4.29" fill="#1c1c1c">GO:0006954: inflammatory response</text>
<text class="dj" transform="translate(164 263.61) rotate(0.02)" font-size="4.29" fill="#1c1c1c">R-HSA-6798695: Neutrophil degranulation</text>
<text class="dj" transform="translate(164 267.62) rotate(0.02)" font-size="4.29" fill="#1c1c1c">R-HSA-198933: Immunoregulatory interactions between a Lymphoid and a non-Lymphoid cell</text>
<text class="dj" transform="translate(164 271.63) rotate(0.02)" font-size="4.29" fill="#1c1c1c">GO:0001819: positive regulation of cytokine production</text>
<text class="dj" transform="translate(164 275.64) rotate(0.02)" font-size="4.29" fill="#1c1c1c">R-HSA-373076: Class A/1 (Rhodopsin-like receptors)</text>
<text class="dj" transform="translate(164 279.65) rotate(0.02)" font-size="4.29" fill="#1c1c1c">GO:0031347: regulation of defense response</text>
<text class="dj" transform="translate(164 283.66) rotate(0.02)" font-size="4.29" fill="#1c1c1c">GO:0009617: response to bacterium</text>
<text class="dj" transform="translate(164 287.67) rotate(0.02)" font-size="4.29" fill="#1c1c1c">GO:0071345: cellular response to cytokine stimulus</text>
<text class="dj" transform="translate(164 291.68) rotate(0.02)" font-size="4.29" fill="#1c1c1c">GO:0006898: receptor-mediated endocytosis</text>
<text class="dj" transform="translate(164 295.69) rotate(0.02)" font-size="4.29" fill="#1c1c1c">GO:0002764: immune response-regulating signaling pathway</text>
<text class="dj" transform="translate(164 299.7) rotate(0.02)" font-size="4.29" fill="#1c1c1c">GO:0043269: regulation of ion transport</text>
<text class="dj" transform="translate(164 303.71) rotate(0.02)" font-size="4.29" fill="#1c1c1c">GO:0050900: leukocyte migration</text>
<text class="dj" transform="translate(164 307.72) rotate(0.02)" font-size="4.29" fill="#1c1c1c">GO:0002697: regulation of immune effector process</text>
<text class="dj" transform="translate(164 311.73) rotate(0.02)" font-size="4.29" fill="#1c1c1c">GO:0001818: negative regulation of cytokine production</text>
<text class="dj" transform="translate(164 315.74) rotate(0.02)" font-size="4.29" fill="#1c1c1c">M5885: NABA MATRISOME ASSOCIATED</text>
<text class="dj" transform="translate(164 319.75) rotate(0.02)" font-size="4.29" fill="#1c1c1c">GO:0098657: import into cell</text>
<text class="dj" transform="translate(164 323.76) rotate(0.02)" font-size="4.29" fill="#1c1c1c">GO:0032651: regulation of interleukin-1 production</text>
<text class="dj" transform="translate(164 327.77) rotate(0.02)" font-size="4.29" fill="#1c1c1c">WP2877: Vitamin D receptor pathway</text>
<text class="dj" transform="translate(164 331.78) rotate(0.02)" font-size="4.29" fill="#1c1c1c">GO:0043410: positive regulation of MAPK cascade</text>
<text class="dj" transform="translate(164 335.79) rotate(0.02)" font-size="4.29" fill="#1c1c1c">hsa05150: Staphylococcus aureus infection</text>
<path d="M14 370.5H367.2V474" stroke="#ebebeb" stroke-width="0.8" fill="none"/>
<path d="M14 474.9H367.5" stroke="#c6c6c6" stroke-width="1.3"/>
<rect x="20.6" y="373.6" width="218.7" height="87" fill="#fff" stroke="#888" stroke-width="0.6"/>
<path d="M38.46 373.6V460.6M56.32 373.6V460.6M74.18 373.6V460.6M109.9 373.6V460.6M199.2 373.6V460.6" stroke="#777" stroke-width="0.6"/>
<rect x="20.6" y="376.2" width="209.2" height="2.9" fill="#a8360c" stroke="#b9a48c" stroke-width="0.6"/>
<rect x="20.6" y="380.37" width="148.2" height="2.9" fill="#e2641a" stroke="#b9a48c" stroke-width="0.6"/>
<rect x="20.6" y="384.54" width="141.8" height="2.9" fill="#e2641a" stroke="#b9a48c" stroke-width="0.6"/>
<rect x="20.6" y="388.71" width="69.5" height="2.9" fill="#f5962c" stroke="#b9a48c" stroke-width="0.6"/>
<rect x="20.6" y="392.88" width="61.7" height="2.9" fill="#f5962c" stroke="#b9a48c" stroke-width="0.6"/>
<rect x="20.6" y="397.05" width="59.9" height="2.9" fill="#f5962c" stroke="#b9a48c" stroke-width="0.6"/>
<rect x="20.6" y="401.22" width="55.5" height="2.9" fill="#f5962c" stroke="#b9a48c" stroke-width="0.6"/>
<rect x="20.6" y="405.39" width="48" height="2.9" fill="#f7b844" stroke="#b9a48c" stroke-width="0.6"/>
<rect x="20.6" y="409.56" width="43" height="2.9" fill="#f7b844" stroke="#b9a48c" stroke-width="0.6"/>
<rect x="20.6" y="413.73" width="42" height="2.9" fill="#f7b844" stroke="#b9a48c" stroke-width="0.6"/>
<rect x="20.6" y="417.9" width="40.2" height="2.9" fill="#f7b844" stroke="#b9a48c" stroke-width="0.6"/>
<rect x="20.6" y="422.07" width="39.5" height="2.9" fill="#f7b844" stroke="#b9a48c" stroke-width="0.6"/>
<rect x="20.6" y="426.24" width="38.5" height="2.9" fill="#f7b844" stroke="#b9a48c" stroke-width="0.6"/>
<rect x="20.6" y="430.41" width="37" height="2.9" fill="#f7b844" stroke="#b9a48c" stroke-width="0.6"/>
<rect x="20.6" y="434.58" width="30.6" height="2.9" fill="#f8da8c" stroke="#b9a48c" stroke-width="0.6"/>
<rect x="20.6" y="438.75" width="27.7" height="2.9" fill="#f8da8c" stroke="#b9a48c" stroke-width="0.6"/>
<rect x="20.6" y="442.92" width="27.7" height="2.9" fill="#f8da8c" stroke="#b9a48c" stroke-width="0.6"/>
<rect x="20.6" y="447.09" width="26.6" height="2.9" fill="#f8f0cc" stroke="#b9a48c" stroke-width="0.6"/>
<rect x="20.6" y="451.26" width="26.6" height="2.9" fill="#f8f0cc" stroke="#b9a48c" stroke-width="0.6"/>
<rect x="20.6" y="455.43" width="25" height="2.9" fill="#f8f0cc" stroke="#b9a48c" stroke-width="0.6"/>
<path d="M20.6 460.6H239.3M20.6 373.6V460.6" stroke="#666" stroke-width="0.7"/>
<path d="M20.6 460.6V462" stroke="#444" stroke-width="0.5"/>
<text class="dj" transform="translate(20.6 467) scale(1.5 1)" font-size="3.6" fill="#333" text-anchor="middle">0</text>
<path d="M65.25 460.6V462" stroke="#444" stroke-width="0.5"/>
<text class="dj" transform="translate(65.25 467) scale(1.5 1)" font-size="3.6" fill="#333" text-anchor="middle">5</text>
<path d="M109.9 460.6V462" stroke="#444" stroke-width="0.5"/>
<text class="dj" transform="translate(109.9 467) scale(1.5 1)" font-size="3.6" fill="#333" text-anchor="middle">10</text>
<path d="M154.55 460.6V462" stroke="#444" stroke-width="0.5"/>
<text class="dj" transform="translate(154.55 467) scale(1.5 1)" font-size="3.6" fill="#333" text-anchor="middle">15</text>
<path d="M199.2 460.6V462" stroke="#444" stroke-width="0.5"/>
<text class="dj" transform="translate(199.2 467) scale(1.5 1)" font-size="3.6" fill="#333" text-anchor="middle">20</text>
<text class="dj" transform="translate(129.6 471.5) scale(1.5 1)" font-size="3.6" fill="#333" text-anchor="middle">-log10(P)</text>
<text class="dj" transform="translate(242.3 379.4) rotate(0.02) scale(1.57 1)" font-size="4.2" fill="#222">Tissue-specific: Blood</text>
<text class="dj" transform="translate(242.3 383.57) rotate(0.02) scale(1.57 1)" font-size="4.2" fill="#222">Tissue-specific: spleen</text>
<text class="dj" transform="translate(242.3 387.74) rotate(0.02) scale(1.57 1)" font-size="4.2" fill="#222">Tissue-specific: bone marrow</text>
<text class="dj" transform="translate(242.3 391.91) rotate(0.02) scale(1.57 1)" font-size="4.2" fill="#222">Tissue-specific: liver</text>
<text class="dj" transform="translate(242.3 396.08) rotate(0.02) scale(1.57 1)" font-size="4.2" fill="#222">Cell-specific: CD14+ Monocytes</text>
<text class="dj" transform="translate(242.3 400.25) rotate(0.02) scale(1.57 1)" font-size="4.2" fill="#222">Cell-specific: DRG</text>
<text class="dj" transform="translate(242.3 404.42) rotate(0.02) scale(1.57 1)" font-size="4.2" fill="#222">Cell-specific: Lymphoma burkitts Raji</text>
<text class="dj" transform="translate(242.3 408.59) rotate(0.02) scale(1.57 1)" font-size="4.2" fill="#222">Cell-specific: CD33+ Myeloid</text>
<text class="dj" transform="translate(242.3 412.76) rotate(0.02) scale(1.57 1)" font-size="4.2" fill="#222">Cell-specific: RPMI 8226</text>
<text class="dj" transform="translate(242.3 416.93) rotate(0.02) scale(1.57 1)" font-size="4.2" fill="#222">Tissue-specific: kidney</text>
<text class="dj" transform="translate(242.3 421.1) rotate(0.02) scale(1.57 1)" font-size="4.2" fill="#222">Tissue-specific: lung</text>
<text class="dj" transform="translate(242.3 425.27) rotate(0.02) scale(1.57 1)" font-size="4.2" fill="#222">Cell-specific: BDCA4+ Dentritic Cells</text>
<text class="dj" transform="translate(242.3 429.44) rotate(0.02) scale(1.57 1)" font-size="4.2" fill="#222">Cell-specific: HUVEC</text>
<text class="dj" transform="translate(242.3 433.61) rotate(0.02) scale(1.57 1)" font-size="4.2" fill="#222">Tissue-specific: skeletal muscle</text>
<text class="dj" transform="translate(242.3 437.78) rotate(0.02) scale(1.57 1)" font-size="4.2" fill="#222">Cell-specific: GM12878</text>
<text class="dj" transform="translate(242.3 441.95) rotate(0.02) scale(1.57 1)" font-size="4.2" fill="#222">Cell-specific: HEPG2</text>
<text class="dj" transform="translate(242.3 446.12) rotate(0.02) scale(1.57 1)" font-size="4.2" fill="#222">Tissue-specific: thymus</text>
<text class="dj" transform="translate(242.3 450.29) rotate(0.02) scale(1.57 1)" font-size="4.2" fill="#222">Cell-specific: U87</text>
<text class="dj" transform="translate(242.3 454.46) rotate(0.02) scale(1.57 1)" font-size="4.2" fill="#222">Cell-specific: Renal Epithelial</text>
<text class="dj" transform="translate(242.3 458.63) rotate(0.02) scale(1.57 1)" font-size="4.2" fill="#222">Tissue-specific: colon</text>
<rect x="411.7" y="20.8" width="92.4" height="8.9" fill="#1e96dc"/>
<rect x="504.1" y="20.8" width="91.1" height="8.9" fill="#f0b800"/>
<g transform="translate(411.7 35.33) scale(1.3107 6.0507)" fill="none" stroke-width="1" shape-rendering="crispEdges">
<path d="M53 0h1M74 0h1M82 0h1M91 0h1M97 0h1M99 0h1M104 0h1M109 0h1M111 0h1M113 0h1M121 0h2M125 0h1M131 0h1M138 0h1M74 1h1M80 1h1M89 1h1M97 1h1M99 1h1M104 1h1M110 1h2M125 1h1M138 1h1M72 2h1M74 2h1M104 2h1M111 2h1M120 2h1M122 2h1M126 2h1M131 2h1M138 2h1M72 3h1M74 3h1M80 3h1M91 3h1M97 3h1M104 3h1M109 3h1M111 3h1M113 3h1M120 3h1M125 3h1M138 3h1M31 4h1M72 4h1M55 5h1M30 6h1M72 6h1M111 6h1M113 6h1M125 6h1M55 7h1M72 7h1M113 7h1M30 8h1M44 8h1M55 8h1M111 8h1M113 8h1M138 8h1M69 9h1M44 10h1M55 10h1M108 10h1M47 11h1M55 11h1M111 11h1M92 12h1M109 12h1M138 12h1M55 13h1M65 13h1M113 13h1M138 13h1M111 14h1M30 15h1M55 15h1M30 16h1M53 16h1M65 16h1M111 16h1M138 16h1M28 17h1M53 17h1M55 17h1M82 17h1M111 17h1M131 17h1M2 18h1M9 18h1M44 18h1M47 18h1M53 18h1M55 18h1M65 18h1M111 18h1M2 19h1M15 19h2M31 19h1M53 19h1M55 19h1M65 19h1M91 19h1M104 19h1M111 19h1M113 19h1M30 20h1M55 20h1M69 20h1M74 20h1M111 20h1M109 21h1M113 21h1M138 21h1M2 22h1M7 22h1M9 22h1M15 22h2M47 22h1M55 22h1M65 22h1M74 22h1M76 22h1M111 22h1M113 22h1M131 22h1M30 23h1M53 23h1M55 23h1M69 23h1M80 23h1M109 23h1M2 24h1M55 24h1M74 24h1M111 24h1M113 24h1M138 24h1M55 25h1M55 26h1M113 26h1M138 26h1M2 27h1M44 27h1M55 27h1M64 27h2M72 27h1M80 27h1M111 27h1M113 27h1M44 28h1M113 28h1M2 29h1M31 29h1M44 29h1M55 29h1M65 29h1M74 29h1M138 29h1M111 30h1M113 30h1M138 30h1M2 31h1M9 31h1M26 31h1M30 31h1M44 31h1M53 31h1M55 31h1M65 31h1M74 31h1M77 31h1M91 31h1M113 31h1M131 31h1M138 31h1M39 32h1M2 33h1M29 33h1M31 33h1M44 33h1M47 33h1M53 33h1M74 33h1M111 33h1M113 33h1M58 34h1M9 35h1M28 35h1M30 35h1M53 35h1M55 35h1M64 35h1M74 35h1M80 35h1M111 35h1M138 35h1M2 36h1M9 36h1M44 36h1M53 36h1M55 36h1M72 36h1M80 36h1M111 36h1M113 36h1M131 36h1M138 36h1M7 37h1M30 37h1M55 37h1M74 37h1M111 37h1M131 37h1M138 37h1M72 38h1M104 38h1M28 39h1M44 41h1M111 41h1M138 41h1M7 42h1M30 42h1M138 42h1M2 43h1M7 43h1M9 43h1M53 43h1M55 43h1M72 43h1M74 43h1M111 43h1M113 43h1M30 44h1M44 44h1M47 44h1M53 44h1M55 44h1M131 44h1M138 44h1M9 45h1M28 45h1M30 45h1M44 45h1M47 45h1M53 45h1M55 45h1M69 45h1M74 45h1M80 45h1M113 45h1M125 45h1M131 45h1M138 45h1M31 46h1M44 46h1M47 46h1M55 46h1M111 46h1M16 47h1M55 47h1M109 47h1M2 48h1M7 48h1M16 48h1M29 48h2M47 48h1M55 48h1M64 48h1M131 48h1M138 48h1M7 49h1M43 49h1M65 50h1M111 50h1M4 51h1M72 51h1M53 52h1M15 54h1M2 55h1M44 55h1M55 55h1M65 55h1M80 55h1M111 55h1M138 55h1M2 56h1M7 56h1M9 56h1M30 56h1M44 56h1M48 56h1M55 56h1M65 56h1M80 56h1M30 57h1M44 57h1M109 57h1M30 58h1M44 58h1M47 58h1M53 58h1M55 58h1M74 58h1M111 58h1M113 58h1M2 60h1M44 60h1M47 60h1M55 60h1M113 60h1M138 60h1M65 61h1M69 61h1M2 62h1M7 62h1M9 62h1M30 62h1M44 62h1M47 62h1M49 62h1M53 62h1M55 62h1M64 62h1M69 62h1M72 62h1M80 62h1M111 62h1M138 62h1M44 63h1M53 63h1M55 63h1M65 63h1M80 63h1M113 63h1M9 64h1M15 64h1M30 64h2M53 64h1M55 64h1M64 64h2M69 64h1M113 64h1M2 65h1M44 65h1M47 65h1M53 65h1M65 65h1M74 65h1M109 67h1M131 67h1M2 68h1M9 68h1M15 68h1M44 68h1M53 68h1M55 68h1M69 68h1M74 68h1M97 68h1M80 71h1M95 71h1M2 72h1M7 72h1M9 72h1M15 72h2M28 72h2M31 72h1M44 72h1M47 72h1M53 72h1M55 72h1M65 72h1M69 72h1M74 72h1M109 72h1M113 72h1M138 72h1" stroke="#fbfde0"/>
<path d="M71 0h1M88 0h1M98 0h1M120 0h1M72 1h1M91 1h1M109 1h1M113 1h1M131 1h1M82 2h1M91 2h1M109 2h1M113 2h1M125 2h1M65 3h1M131 3h1M135 3h1M47 4h1M53 4h1M55 4h1M69 4h1M104 4h1M137 4h1M57 5h1M2 6h1M80 6h1M2 7h1M26 7h1M29 7h2M35 7h1M52 7h1M65 7h1M7 8h1M53 8h1M97 8h1M30 9h1M47 9h2M109 9h1M111 9h1M113 9h1M30 10h1M9 11h1M30 11h1M53 11h1M65 11h1M2 12h1M19 12h1M44 12h1M53 12h1M69 12h1M103 12h1M131 12h1M30 13h1M44 13h1M47 13h1M53 13h1M69 13h2M111 13h1M2 14h1M33 14h1M53 14h1M64 14h2M74 14h1M88 14h1M122 14h1M138 14h1M2 15h1M47 15h1M89 15h1M138 15h1M47 16h1M69 16h1M72 16h1M113 16h1M44 17h1M65 17h1M80 17h1M16 18h1M29 18h1M31 18h1M64 18h1M69 18h1M97 18h1M104 18h1M7 19h1M28 19h1M44 19h1M64 19h1M69 19h1M109 19h1M125 19h1M131 19h1M138 19h1M20 20h1M31 20h1M44 20h1M53 20h1M138 20h1M30 21h1M55 21h1M69 21h1M72 21h1M74 21h1M97 21h1M122 21h1M28 22h1M30 22h1M44 22h1M53 22h1M69 22h1M72 22h1M104 22h1M109 22h1M120 22h1M125 22h1M138 22h1M15 23h1M17 23h1M44 23h1M47 23h1M65 23h1M111 23h1M113 23h1M138 23h1M9 24h1M30 24h1M44 24h1M53 24h1M72 24h1M27 25h2M30 25h1M111 25h1M28 26h1M44 26h1M104 26h1M111 26h1M7 27h1M9 27h1M15 27h1M30 27h1M53 27h1M69 27h1M74 27h1M102 27h1M109 27h1M138 27h1M74 28h1M30 29h1M53 29h1M80 29h1M2 30h1M9 30h1M31 30h1M47 30h1M53 30h1M55 30h1M65 30h1M72 30h1M131 30h1M7 31h1M31 31h1M38 31h1M49 31h1M64 31h1M97 31h1M109 31h1M111 31h1M125 31h1M2 32h1M7 32h1M15 32h1M31 32h1M58 32h1M69 32h1M7 33h1M16 33h1M28 33h1M64 33h1M72 33h1M109 33h1M125 33h1M2 34h1M61 34h1M122 34h1M2 35h1M47 35h1M72 35h1M15 36h1M26 36h1M64 36h1M77 36h1M91 36h1M2 37h1M15 37h1M28 37h1M31 37h1M64 37h1M69 37h1M72 37h1M80 37h1M113 37h1M122 37h1M125 37h1M128 37h1M1 38h1M7 38h1M30 38h1M131 38h1M26 39h1M91 39h1M7 40h1M44 40h1M53 41h1M31 42h1M26 43h1M29 43h1M44 43h1M47 43h1M80 43h1M120 43h1M138 43h1M9 44h1M31 44h1M64 44h2M80 44h1M93 44h1M109 44h1M109 45h1M7 46h1M9 46h1M16 46h1M29 46h2M53 46h1M64 46h2M69 46h1M91 46h1M131 46h1M7 47h1M15 48h1M26 48h1M28 48h1M44 48h1M53 48h1M69 48h1M74 48h1M122 48h1M15 49h1M97 49h1M9 50h1M26 50h1M55 50h1M69 50h1M113 50h1M131 50h1M2 51h1M31 51h1M44 51h1M138 51h1M49 52h1M2 53h1M7 53h1M104 53h1M2 54h1M28 54h1M31 54h1M44 54h1M53 54h1M15 55h1M26 55h1M31 55h1M47 55h1M64 55h1M69 55h1M74 55h1M125 55h1M15 56h1M26 56h1M31 56h1M47 56h1M53 56h1M96 56h1M122 56h1M125 56h1M131 56h1M7 57h1M53 57h1M55 57h1M64 57h1M69 57h1M111 57h1M9 58h1M15 58h1M52 58h1M64 58h1M79 58h1M85 58h1M122 58h1M138 58h1M30 59h1M44 59h1M110 59h1M113 59h1M9 60h1M15 60h2M28 60h1M31 60h1M49 60h1M65 60h1M69 60h1M74 60h1M2 61h1M9 61h1M26 61h1M31 61h1M36 61h1M47 61h1M49 61h1M53 61h1M74 61h1M16 62h1M28 62h2M31 62h1M54 62h1M65 62h1M15 63h1M29 63h3M64 63h1M69 63h1M74 63h1M2 64h1M26 64h1M29 64h1M44 64h1M47 64h1M80 64h1M102 64h1M7 65h1M9 65h1M16 65h1M28 65h2M31 65h1M37 65h1M64 65h1M69 65h1M113 65h1M125 65h1M15 66h1M49 66h1M65 66h1M109 66h1M122 66h1M69 67h1M7 68h1M16 68h1M30 68h2M47 68h2M64 68h2M14 69h1M53 69h1M7 70h1M30 70h1M138 70h1M16 71h1M72 71h1M26 72h1M32 72h1M49 72h1M64 72h1" stroke="#f2fad3"/>
<path d="M7 0h1M55 0h1M65 0h1M80 0h1M135 0h1M71 1h1M77 1h1M82 1h1M106 1h1M108 1h1M123 1h1M98 2h1M55 3h1M122 3h1M124 3h1M109 4h1M2 5h1M9 5h1M16 5h1M20 5h1M86 5h1M9 6h1M44 6h1M53 6h1M65 6h1M74 6h1M122 6h1M138 6h1M9 7h1M15 7h1M28 7h1M43 7h2M47 7h1M53 7h1M64 7h1M69 7h1M88 7h1M97 7h1M99 7h1M104 7h1M109 7h1M111 7h1M125 7h1M138 7h1M9 8h1M28 8h2M47 8h1M69 8h1M74 8h1M104 8h1M122 8h1M2 9h1M26 9h1M44 9h1M53 9h1M65 9h1M125 9h1M2 10h1M15 10h1M65 10h1M69 10h1M74 10h1M80 10h1M98 10h1M112 10h1M131 10h1M138 10h1M31 11h1M69 11h1M110 11h1M122 11h1M131 11h1M15 12h2M30 12h2M64 12h2M74 12h1M111 12h1M113 12h1M2 13h1M9 13h1M26 13h1M28 13h2M31 13h1M9 14h1M26 14h1M45 14h1M55 14h1M69 14h1M91 14h1M7 15h1M9 15h1M31 15h1M44 15h1M64 15h1M72 15h1M74 15h1M111 15h1M125 15h1M9 16h1M29 16h1M74 16h1M80 16h1M104 16h1M109 16h1M122 16h1M125 16h1M131 16h1M2 17h1M9 17h1M26 17h1M30 17h1M41 17h1M47 17h1M69 17h1M74 17h1M109 17h1M113 17h1M122 17h1M7 18h1M15 18h1M26 18h1M30 18h1M72 18h1M80 18h1M113 18h1M125 18h1M9 19h1M26 19h1M29 19h2M47 19h1M74 19h1M105 19h1M110 19h1M2 20h1M7 20h1M9 20h1M15 20h1M97 20h1M109 20h1M113 20h1M26 21h1M28 21h2M47 21h1M53 21h1M78 21h1M80 21h1M29 22h1M31 22h1M64 22h1M97 22h1M7 23h1M9 23h1M26 23h1M31 23h1M64 23h1M72 23h1M74 23h1M97 23h1M122 23h1M47 24h1M64 24h2M69 24h1M80 24h1M44 25h1M69 25h1M125 25h1M131 25h1M138 25h1M2 26h1M7 26h1M9 26h1M29 26h1M43 26h1M47 26h1M53 26h1M65 26h1M69 26h1M106 26h1M109 26h1M16 27h1M20 27h1M26 27h1M29 27h1M47 27h1M49 27h1M90 27h1M2 28h1M15 28h1M53 28h1M55 28h1M64 28h1M111 28h1M138 28h1M7 29h1M15 29h1M29 29h1M47 29h1M69 29h1M72 29h1M82 29h1M91 29h1M111 29h1M125 29h1M15 30h2M26 30h1M74 30h1M97 30h1M104 30h1M132 30h1M15 31h1M28 31h2M47 31h2M69 31h1M135 31h1M9 32h1M20 32h1M74 32h1M91 32h1M15 33h1M26 33h1M30 33h1M49 33h1M62 33h1M65 33h1M69 33h1M80 33h1M91 33h1M122 33h1M131 33h1M47 34h1M53 34h1M68 34h1M72 34h1M109 34h1M29 35h1M31 35h1M44 35h1M49 35h1M65 35h1M91 35h1M97 35h1M125 35h1M131 35h1M16 36h1M28 36h1M30 36h2M49 36h1M65 36h1M69 36h1M74 36h1M82 36h1M109 36h1M9 37h1M26 37h1M29 37h1M47 37h1M65 37h1M97 37h1M109 37h1M132 37h1M134 37h1M16 38h1M49 38h1M113 38h1M15 39h1M52 39h1M74 39h1M76 39h1M55 40h1M0 41h1M2 41h1M15 41h1M28 41h2M55 41h1M64 41h2M69 41h1M74 41h1M91 41h1M109 41h1M113 41h1M125 41h1M2 42h1M69 42h1M15 43h2M30 43h1M49 43h1M52 43h1M58 43h1M64 43h1M69 43h1M131 43h1M2 44h1M7 44h1M29 44h1M69 44h1M74 44h1M113 44h1M7 45h1M15 45h2M26 45h1M49 45h1M64 45h2M82 45h1M97 45h1M104 45h1M122 45h1M2 46h1M10 46h1M26 46h1M97 46h1M15 47h1M29 47h1M44 47h1M65 47h1M4 48h1M80 48h1M91 48h1M104 48h1M16 49h1M55 49h1M65 49h1M69 49h1M111 49h1M2 50h1M30 50h1M44 50h1M53 50h1M80 50h1M28 51h2M53 51h1M65 51h1M2 52h1M28 52h2M64 52h2M9 53h1M49 53h1M64 53h1M69 53h1M72 53h1M29 54h1M47 54h1M69 54h1M116 54h1M0 55h1M7 55h1M16 55h2M48 55h1M53 55h1M28 56h2M49 56h1M64 56h1M69 56h1M72 56h1M89 56h1M97 56h1M120 56h1M2 57h1M31 57h1M48 57h1M65 57h1M72 57h1M2 58h1M16 58h1M29 58h1M65 58h1M81 58h1M131 58h1M49 59h1M72 59h1M74 59h1M7 60h1M26 60h1M29 60h1M53 60h1M64 60h1M104 60h1M120 60h1M7 61h1M16 61h1M28 61h1M30 61h1M44 61h1M48 61h1M64 61h1M72 61h1M91 61h1M97 61h1M26 62h1M86 62h1M91 62h1M104 62h1M120 62h1M122 62h1M7 63h1M9 63h1M16 63h1M28 63h1M49 63h1M91 63h1M109 63h1M118 63h1M125 63h1M7 64h1M16 64h1M28 64h1M74 64h1M122 64h1M30 65h1M48 65h2M55 65h1M57 65h1M91 65h1M9 66h1M29 66h1M44 66h1M72 66h1M28 67h1M55 67h1M97 67h1M26 68h1M29 68h1M49 68h1M82 68h1M122 68h1M2 69h1M16 69h1M29 69h1M36 69h1M103 69h1M15 70h1M47 70h1M119 70h1M30 71h1M49 71h1M69 71h1M97 71h1M1 72h1M30 72h1M98 72h1" stroke="#e6f6c9"/>
<path d="M15 0h2M30 0h2M44 0h1M47 0h1M64 0h1M69 0h1M72 0h1M87 0h1M110 0h1M117 0h1M2 1h1M26 1h1M31 1h1M53 1h1M55 1h1M59 1h1M120 1h1M124 1h1M129 1h1M53 2h1M55 2h1M80 2h1M92 2h1M97 2h1M100 2h1M123 2h1M137 2h1M0 3h1M2 3h1M9 3h1M38 3h1M47 3h1M69 3h1M71 3h1M82 3h1M88 3h1M98 3h1M110 3h1M26 4h1M68 4h1M74 4h1M29 5h1M138 5h1M15 6h2M29 6h1M32 6h1M47 6h1M49 6h1M55 6h1M69 6h1M82 6h1M109 6h1M7 7h1M16 7h1M31 7h1M48 7h1M80 7h1M91 7h1M2 8h1M15 8h1M26 8h1M72 8h1M91 8h1M109 8h1M7 9h1M9 9h1M15 9h1M28 9h2M31 9h1M33 9h1M49 9h1M64 9h1M72 9h1M82 9h1M104 9h1M16 10h1M26 10h1M29 10h1M48 10h1M64 10h1M72 10h1M110 10h2M113 10h1M125 10h1M2 11h1M7 11h1M15 11h1M29 11h1M44 11h1M49 11h1M64 11h1M74 11h1M87 11h2M104 11h1M109 11h1M113 11h1M138 11h1M26 12h2M47 12h3M55 12h1M72 12h1M112 12h1M125 12h1M7 13h1M15 13h2M45 13h1M48 13h2M64 13h1M72 13h1M74 13h1M80 13h1M104 13h1M109 13h1M122 13h1M125 13h1M28 14h1M30 14h2M47 14h1M50 14h1M113 14h1M125 14h1M131 14h2M15 15h2M26 15h1M28 15h2M48 15h2M65 15h1M69 15h1M80 15h1M104 15h1M109 15h1M2 16h1M23 16h1M26 16h1M28 16h1M49 16h1M64 16h1M71 16h1M91 16h1M97 16h1M117 16h1M7 17h1M15 17h1M64 17h1M72 17h1M97 17h1M124 17h2M25 18h1M28 18h1M48 18h2M74 18h1M88 18h1M91 18h1M120 18h1M122 18h1M136 18h1M80 19h1M108 19h1M16 20h1M29 20h1M47 20h1M64 20h2M80 20h1M82 20h1M131 20h1M9 21h1M15 21h1M44 21h1M49 21h1M64 21h2M91 21h1M104 21h1M111 21h1M125 21h1M131 21h1M26 22h1M48 22h2M80 22h1M82 22h1M91 22h1M2 23h1M16 23h1M28 23h2M32 23h1M48 23h2M91 23h1M116 23h1M16 24h1M26 24h1M28 24h2M31 24h1M48 24h1M89 24h1M104 24h1M108 24h1M122 24h1M125 24h1M2 25h1M7 25h1M15 25h2M29 25h1M31 25h1M53 25h1M65 25h1M72 25h1M74 25h1M30 26h1M49 26h1M64 26h1M74 26h1M28 27h1M82 27h1M91 27h1M96 27h1M104 27h1M108 27h1M110 27h1M131 27h1M7 28h1M9 28h1M49 28h1M65 28h1M122 28h1M48 29h1M96 29h3M100 29h1M122 29h1M131 29h1M7 30h1M12 30h1M28 30h1M44 30h1M64 30h1M69 30h1M91 30h2M109 30h1M122 30h1M16 31h1M42 31h1M100 31h1M102 31h1M104 31h1M120 31h1M122 31h1M64 32h1M77 32h1M9 33h1M97 33h1M104 33h1M9 34h1M7 35h1M16 35h1M26 35h1M48 35h1M59 35h1M75 35h1M104 35h1M7 36h1M47 36h2M97 36h1M117 36h1M122 36h1M16 37h1M49 37h1M82 37h1M91 37h1M15 38h1M31 39h1M49 39h1M55 39h1M69 39h1M95 39h1M113 39h1M2 40h1M11 40h1M29 40h1M80 40h1M97 40h1M138 40h1M9 41h1M26 41h1M30 41h2M46 41h1M67 41h1M80 41h1M97 41h1M131 41h1M47 42h1M20 43h1M31 43h1M88 43h1M97 43h1M110 43h1M125 43h1M15 44h2M48 44h1M31 45h1M49 46h1M104 46h1M109 46h1M119 46h1M125 46h1M9 47h1M49 47h1M58 47h1M69 47h1M122 47h1M131 47h1M48 48h2M82 48h1M109 48h1M26 49h1M31 49h1M44 49h1M7 50h1M15 50h2M28 50h2M47 50h1M64 50h1M91 50h1M104 50h1M122 50h1M15 51h1M111 51h1M47 52h1M72 52h1M118 52h1M84 53h1M21 54h1M28 55h2M49 55h1M92 55h1M113 55h1M16 56h1M98 56h1M1 57h1M9 57h1M15 57h2M26 57h1M28 57h2M47 57h1M80 57h1M82 57h1M97 57h1M7 58h1M26 58h1M28 58h1M31 58h1M48 58h2M69 58h1M98 58h1M15 59h2M64 59h1M48 60h1M80 60h1M3 61h1M15 61h1M29 61h1M80 61h1M131 61h1M11 62h1M25 62h1M26 63h1M48 63h1M72 63h1M97 63h1M123 63h1M48 64h2M26 65h1M122 65h1M20 67h1M60 67h1M64 67h1M119 67h1M49 69h1M51 69h1M102 69h1M131 69h1M53 70h1M72 70h1M111 70h1M2 71h1M15 71h1M29 71h1M59 71h1M65 71h1M48 72h1M51 72h1M82 72h1M110 72h1" stroke="#ceedce"/>
<path d="M9 0h1M29 0h1M49 0h1M75 0h1M92 0h1M96 0h1M118 0h1M123 0h1M130 0h1M137 0h1M21 1h1M28 1h2M65 1h1M88 1h1M98 1h1M100 1h1M132 1h1M135 1h1M139 1h1M2 2h1M30 2h1M65 2h1M88 2h1M96 2h1M124 2h1M135 2h1M15 3h1M26 3h1M44 3h1M49 3h1M53 3h1M64 3h1M81 3h1M93 3h1M108 3h1M118 3h1M123 3h1M2 4h1M7 4h1M16 4h1M29 4h1M64 4h1M122 4h1M30 5h1M69 5h1M74 5h1M7 6h1M31 6h1M64 6h1M91 6h1M74 7h1M98 7h1M108 7h1M110 7h1M117 7h1M120 7h1M122 7h1M131 7h1M31 8h1M48 8h2M80 8h1M118 8h1M125 8h1M131 8h1M16 9h1M97 9h1M108 9h1M120 9h1M131 9h1M7 10h1M9 10h1M28 10h1M47 10h1M49 10h1M97 10h1M109 10h1M120 10h1M122 10h1M28 11h1M48 11h1M80 11h1M82 11h1M91 11h1M97 11h2M120 11h1M125 11h1M132 11h1M7 12h1M28 12h1M82 12h1M104 12h1M110 12h1M20 13h1M97 13h2M7 14h1M15 14h1M29 14h1M44 14h1M49 14h1M72 14h1M80 14h1M108 14h1M97 15h1M131 15h1M7 16h1M15 16h1M94 16h1M123 16h1M1 17h1M16 17h1M29 17h1M31 17h1M48 17h1M71 17h1M96 17h1M104 17h1M138 17h1M98 18h1M110 18h1M48 19h2M81 19h2M88 19h1M97 19h1M122 19h1M28 20h1M40 20h1M72 20h1M91 20h1M125 20h1M2 21h1M7 21h1M31 21h1M48 21h1M114 21h1M134 21h1M25 22h1M61 22h1M71 22h1M98 22h1M117 22h1M19 23h1M82 23h1M96 23h1M104 23h1M110 23h1M125 23h1M0 24h1M15 24h1M49 24h1M97 24h1M109 24h1M120 24h1M131 24h1M9 25h1M19 25h1M26 25h1M50 25h1M79 25h2M97 25h1M15 26h2M26 26h1M31 26h1M48 26h1M57 26h1M68 26h1M91 26h1M6 27h1M52 27h1M76 27h1M97 27h1M117 27h1M0 28h1M26 28h1M29 28h2M47 28h1M69 28h1M108 28h1M125 28h1M16 29h1M26 29h1M28 29h1M64 29h1M29 30h1M38 30h1M80 30h1M120 30h1M80 31h1M110 31h1M123 31h1M132 31h1M6 32h1M55 32h1M80 32h1M109 32h1M138 32h1M48 33h1M82 33h1M100 33h1M120 33h1M127 33h1M7 34h1M26 34h1M30 34h1M65 34h1M80 34h1M138 34h1M25 35h1M61 35h1M109 35h1M120 35h1M122 35h1M29 36h1M35 36h1M96 36h1M98 36h1M108 36h1M110 36h1M135 36h1M25 37h1M48 37h1M71 37h1M2 38h1M23 38h1M26 38h1M28 38h1M35 38h1M44 38h1M53 38h1M125 38h1M9 39h1M17 39h1M15 40h1M42 40h1M49 40h1M131 40h1M7 41h1M16 41h1M25 41h1M37 41h1M47 41h3M15 42h1M49 42h1M65 42h1M71 42h1M1 43h1M28 43h1M48 43h1M109 43h1M122 43h1M25 44h2M28 44h1M49 44h1M83 44h1M97 44h1M104 44h1M125 44h1M135 44h1M11 45h1M45 45h1M48 45h1M100 45h1M28 46h1M48 46h1M82 46h1M108 46h1M122 46h1M31 47h1M66 47h1M31 48h1M110 48h1M120 48h1M47 49h1M49 49h1M53 49h1M138 49h1M31 50h1M34 50h1M46 50h1M49 50h1M110 50h1M120 50h1M16 51h1M47 51h1M122 51h1M9 52h1M16 52h1M80 52h1M49 54h1M80 54h1M71 55h1M78 55h1M98 55h1M109 55h1M11 56h1M46 56h1M88 56h1M108 56h1M25 57h1M49 57h1M98 57h1M61 58h1M70 58h1M88 58h1M100 58h1M123 58h1M7 59h1M28 59h1M55 59h1M80 59h1M71 60h1M92 60h1M100 60h1M110 60h1M38 61h1M43 61h1M55 61h1M60 61h1M120 61h1M122 61h1M137 61h1M38 62h1M48 62h1M110 62h1M6 65h1M25 65h1M46 65h1M77 65h1M7 66h1M26 66h1M39 66h2M55 66h1M69 66h1M104 66h1M26 67h1M65 67h1M46 68h1M71 68h1M120 68h1M30 69h2M47 69h1M65 69h1M70 69h1M2 70h1M29 70h1M44 70h1M66 70h1M74 70h1M26 71h1M31 71h1M82 71h1M11 72h1M25 72h1M46 72h1M108 72h1M117 72h1" stroke="#b0e2d4"/>
<path d="M26 0h1M28 0h1M66 0h1M76 0h1M81 0h1M100 0h1M108 0h1M112 0h1M124 0h1M126 0h1M129 0h1M139 0h1M7 1h1M9 1h1M15 1h1M64 1h1M76 1h1M79 1h1M83 1h1M92 1h1M112 1h1M117 1h2M137 1h1M9 2h1M26 2h1M28 2h1M44 2h1M69 2h1M73 2h1M75 2h1M81 2h1M86 2h1M95 2h1M110 2h1M117 2h2M127 2h1M132 2h1M134 2h1M7 3h1M29 3h1M31 3h1M48 3h1M77 3h1M84 3h2M89 3h1M92 3h1M96 3h1M100 3h2M117 3h1M119 3h1M133 3h1M1 4h1M15 4h1M22 4h1M28 4h1M44 4h1M7 5h1M31 5h1M44 5h1M64 5h2M88 6h1M104 6h1M110 6h1M118 6h1M131 6h1M3 7h1M38 7h1M46 7h1M49 7h1M82 7h1M25 8h1M54 8h1M82 8h1M88 8h1M27 9h1M55 9h1M80 9h1M110 9h1M122 9h1M124 9h1M22 10h2M53 10h1M82 10h1M91 10h1M100 10h1M104 10h1M16 11h1M21 11h1M116 11h1M135 11h1M66 12h1M89 12h1M117 12h1M122 12h2M1 13h1M46 13h1M71 13h1M82 13h1M88 13h2M91 13h1M99 13h2M16 14h1M25 14h1M98 14h1M104 14h1M109 14h2M129 14h1M88 15h1M91 15h1M96 15h1M110 15h1M113 15h1M123 15h1M16 16h1M31 16h1M48 16h1M110 16h1M49 17h1M121 17h1M46 18h1M67 18h1M100 18h1M108 18h1M131 18h1M1 19h1M8 19h1M25 19h1M71 19h1M117 19h1M120 19h1M26 20h1M45 20h1M49 20h1M68 20h1M71 20h1M100 20h1M104 20h1M110 20h1M122 20h1M16 21h1M38 21h1M100 21h1M102 21h1M108 21h1M120 21h1M81 22h1M112 22h1M116 22h1M122 22h1M88 23h1M8 24h1M91 24h1M100 24h1M123 24h1M47 25h1M49 25h1M70 25h1M82 25h1M91 25h1M104 25h1M108 25h1M110 25h1M120 25h1M11 26h1M56 26h1M72 26h1M80 26h1M97 26h1M110 26h1M122 26h1M125 26h1M131 26h1M25 27h1M46 27h1M59 27h1M71 27h1M120 27h1M122 27h1M125 27h1M133 27h1M16 28h1M28 28h1M31 28h1M82 28h1M84 28h1M91 28h1M97 28h1M109 28h1M120 28h1M25 29h1M49 29h1M71 29h1M88 29h1M104 29h1M108 29h1M113 29h1M48 30h3M61 30h1M82 30h1M96 30h1M1 31h1M25 31h1M88 31h1M108 31h1M29 32h2M44 32h1M93 32h1M40 33h1M55 33h1M71 33h1M88 33h1M110 33h1M117 33h1M36 34h1M44 34h1M49 34h1M58 35h1M71 35h1M78 35h1M85 35h1M100 35h1M123 35h1M135 35h1M59 36h1M115 36h1M120 36h1M1 37h1M6 37h1M34 37h1M100 37h1M120 37h1M55 38h1M75 38h1M16 39h1M64 39h1M16 40h1M30 40h2M64 40h2M69 40h1M82 41h1M110 41h1M16 42h2M91 42h1M125 42h1M38 43h1M98 43h1M135 43h1M11 44h1M21 44h1M98 44h1M108 44h1M59 45h1M88 45h1M123 45h1M25 46h1M38 46h1M120 46h1M2 47h1M26 47h1M47 47h1M67 47h1M87 47h1M97 47h1M138 47h1M25 48h1M59 48h1M61 48h1M65 48h1M88 48h1M108 48h1M123 48h1M29 49h1M58 49h1M137 49h1M25 50h1M48 50h1M59 50h1M82 50h1M26 51h1M69 51h1M74 51h1M94 51h1M113 51h1M125 51h1M15 52h1M26 52h1M31 52h1M91 52h1M26 53h1M30 53h2M44 53h1M47 53h1M53 53h1M65 53h1M6 54h1M20 54h1M55 54h1M96 54h1M11 55h1M19 55h1M25 55h1M30 55h1M57 55h1M97 55h1M135 55h1M25 56h1M38 56h1M58 56h2M66 56h1M11 57h1M88 57h1M93 57h1M38 58h1M51 58h1M59 58h1M110 58h1M9 59h1M47 59h1M65 59h1M137 59h1M11 60h1M30 60h1M81 60h1M90 60h1M25 61h1M37 61h1M110 61h1M59 62h1M61 62h1M81 62h1M2 63h1M8 63h1M59 63h1M71 63h1M108 63h1M135 63h1M1 64h1M21 64h1M71 64h1M100 64h1M11 65h1M19 65h1M34 65h1M59 65h1M61 65h1M99 65h1M108 65h1M120 65h1M127 65h1M16 66h1M47 66h1M113 66h1M131 66h1M7 67h1M15 67h1M47 67h1M49 67h1M133 67h1M5 68h1M21 68h1M25 68h1M34 68h1M39 68h1M56 68h1M96 68h1M106 68h1M28 69h1M55 69h1M64 69h1M69 69h1M9 70h1M64 70h2M122 70h1M43 71h1M138 71h1M3 72h2M13 72h1M19 72h3M38 72h1M52 72h1M56 72h1M71 72h1M137 72h1" stroke="#87d3d9"/>
<path d="M2 0h1M36 0h1M48 0h1M73 0h1M78 0h1M84 0h2M90 0h1M93 0h2M107 0h1M115 0h1M119 0h1M30 1h1M47 1h1M49 1h1M69 1h1M75 1h1M84 1h1M86 1h2M115 1h1M127 1h1M130 1h1M7 2h1M48 2h2M63 2h2M84 2h2M89 2h1M93 2h1M99 2h1M102 2h1M108 2h1M114 2h3M121 2h1M128 2h1M139 2h1M16 3h1M28 3h1M75 3h2M83 3h1M87 3h1M90 3h1M105 3h1M107 3h1M114 3h1M127 3h1M130 3h1M136 3h1M28 6h1M38 6h1M46 6h1M61 6h1M77 6h1M93 6h1M98 6h2M120 6h1M123 6h1M127 6h1M133 6h1M11 7h1M51 7h1M71 7h1M77 7h1M81 7h1M112 7h1M133 7h1M135 7h1M16 8h1M87 8h1M98 8h1M119 8h1M21 9h1M59 9h1M98 9h1M106 9h1M115 9h1M123 9h1M132 9h1M71 10h1M26 11h2M32 11h1M38 11h1M71 11h2M108 11h1M123 11h1M56 12h1M88 12h1M91 12h1M94 12h1M97 12h2M100 12h1M120 12h1M135 12h1M21 13h1M25 13h1M75 13h2M90 13h1M93 13h1M108 13h1M110 13h1M117 13h1M120 13h1M135 13h1M1 14h1M46 14h1M48 14h1M61 14h1M75 14h1M82 14h1M97 14h1M99 14h1M107 14h1M117 14h1M135 14h1M137 14h1M25 15h1M46 15h1M61 15h1M98 15h1M120 15h1M1 16h1M17 16h1M44 16h1M56 16h1M82 16h1M98 16h1M108 16h1M120 16h1M13 17h1M25 17h1M34 17h1M38 17h1M46 17h1M73 17h1M91 17h1M93 17h1M100 17h1M110 17h1M118 17h1M134 17h2M1 18h1M6 18h1M11 18h1M21 18h1M71 18h1M82 18h1M96 18h1M123 18h1M137 18h2M11 19h1M23 19h1M38 19h1M61 19h1M72 19h1M95 19h1M98 19h1M100 19h1M118 19h1M127 19h1M21 20h1M25 20h1M37 20h1M48 20h1M84 20h1M108 20h1M120 20h1M123 20h1M70 21h2M82 21h1M89 21h1M98 21h1M110 21h1M117 21h1M123 21h1M135 21h1M1 22h1M11 22h1M38 22h1M108 22h1M110 22h1M14 23h1M36 23h1M46 23h1M71 23h1M75 23h1M89 23h1M98 23h1M120 23h1M137 23h1M11 24h1M82 24h1M98 24h1M110 24h1M135 24h1M11 25h1M46 25h1M64 25h1M109 25h1M113 25h1M1 26h1M96 26h1M98 26h1M100 26h1M108 26h1M120 26h1M134 26h1M11 27h1M48 27h1M92 27h1M98 27h1M100 27h1M135 27h1M46 28h1M48 28h1M71 28h2M80 28h1M98 28h1M104 28h1M110 28h1M114 28h1M6 29h1M38 29h1M109 29h1M25 30h1M59 30h1M98 30h1M100 30h1M125 30h1M46 31h1M71 31h1M81 31h2M92 31h1M96 31h1M129 31h1M16 32h1M6 33h1M11 33h1M21 33h1M25 33h1M27 33h1M46 33h1M51 33h1M56 33h1M59 33h1M61 33h1M63 33h1M66 33h1M81 33h1M98 33h1M102 33h1M108 33h1M123 33h1M130 33h1M135 33h1M3 35h1M5 35h1M11 35h1M15 35h1M22 35h1M34 35h1M38 35h1M46 35h1M60 35h1M70 35h1M82 35h1M88 35h1M96 35h1M98 35h1M110 35h1M118 35h1M11 36h1M19 36h1M25 36h1M46 36h1M52 36h1M60 36h1M88 36h1M99 36h1M137 36h1M11 37h1M17 37h1M43 37h1M53 37h1M96 37h1M108 37h1M135 37h1M137 37h1M6 41h1M81 41h1M100 41h1M117 41h1M135 41h1M6 43h1M21 43h1M25 43h1M34 43h1M46 43h1M81 43h1M93 43h1M96 43h1M99 43h1M1 44h1M20 44h1M46 44h1M56 44h1M81 44h1M88 44h1M96 44h1M100 44h1M136 44h1M1 45h1M25 45h1M29 45h1M34 45h1M37 45h2M46 45h1M71 45h1M108 45h1M120 45h1M1 46h1M21 46h1M88 46h1M98 46h1M117 46h1M1 48h1M3 48h1M11 48h1M23 48h1M37 48h2M46 48h1M51 48h1M56 48h1M71 48h1M73 48h1M90 48h1M96 48h1M100 48h1M137 48h1M6 50h1M21 50h1M61 50h1M71 50h1M74 50h1M81 50h1M88 50h1M92 50h1M94 50h1M98 50h1M117 50h1M123 50h1M1 55h1M6 55h1M10 55h1M37 55h2M61 55h2M66 55h2M81 55h1M96 55h1M132 55h1M6 56h1M22 56h1M34 56h1M36 56h1M51 56h1M76 56h1M90 56h1M111 56h1M117 56h2M137 56h1M60 57h1M66 57h1M135 57h1M5 58h1M25 58h1M37 58h1M46 58h1M73 58h1M93 58h1M96 58h1M108 58h1M135 58h2M111 59h1M6 60h1M21 60h1M25 60h1M32 60h1M46 60h1M56 60h1M59 60h1M61 60h1M85 60h1M99 60h1M1 61h1M6 61h1M46 61h1M59 61h1M62 61h1M76 61h2M90 61h1M96 61h1M1 62h1M6 62h1M19 62h2M57 62h1M66 62h1M73 62h1M99 62h2M5 63h2M11 63h1M21 63h1M25 63h1M32 63h1M42 63h1M46 63h1M61 63h1M76 63h1M98 63h1M110 63h1M61 64h1M81 64h1M98 64h1M117 64h1M1 65h1M20 65h1M24 65h1M38 65h1M51 65h1M71 65h1M96 65h1M117 65h1M123 65h1M1 68h1M11 68h2M33 68h1M37 68h2M59 68h1M67 68h1M77 68h1M84 68h1M6 72h1M37 72h1M61 72h1M66 72h1M76 72h1" stroke="#64c2dc"/>
<path d="M70 0h1M79 0h1M83 0h1M86 0h1M89 0h1M106 0h1M114 0h1M116 0h1M127 0h1M134 0h1M136 0h1M16 1h1M40 1h1M48 1h1M70 1h1M81 1h1M90 1h1M93 1h1M96 1h1M101 1h1M105 1h1M121 1h1M126 1h1M133 1h2M15 2h2M25 2h1M29 2h1M31 2h1M39 2h1M77 2h1M79 2h1M90 2h1M106 2h2M112 2h1M119 2h1M130 2h1M133 2h1M136 2h1M99 3h1M103 3h1M115 3h2M126 3h1M129 3h1M132 3h1M137 3h1M0 4h1M3 4h4M8 4h7M17 4h5M23 4h3M27 4h1M30 4h1M32 4h12M45 4h2M48 4h5M54 4h1M56 4h8M65 4h1M101 4h3M105 4h4M110 4h12M123 4h14M138 4h2M11 6h1M13 6h1M21 6h1M25 6h1M48 6h1M50 6h1M59 6h1M67 6h1M75 6h1M81 6h1M84 6h1M96 6h2M100 6h1M103 6h1M108 6h1M115 6h1M117 6h1M124 6h1M135 6h1M137 6h1M5 7h2M13 7h2M25 7h1M37 7h1M40 7h1M56 7h1M61 7h1M67 7h1M70 7h1M73 7h1M89 7h1M96 7h1M101 7h1M123 7h1M127 7h1M1 8h1M11 8h1M18 8h1M36 8h1M38 8h1M59 8h1M65 8h1M71 8h1M77 8h1M99 8h2M123 8h1M137 8h1M1 9h1M25 9h1M34 9h1M46 9h1M58 9h1M71 9h1M88 9h1M100 9h1M117 9h1M130 9h1M134 9h1M6 10h1M11 10h1M25 10h1M46 10h1M59 10h1M88 10h2M96 10h1M99 10h1M106 10h1M118 10h1M123 10h1M1 11h1M20 11h1M43 11h1M46 11h1M56 11h1M66 11h1M81 11h1M84 11h1M90 11h1M100 11h1M117 11h1M3 12h1M6 12h1M9 12h1M11 12h1M20 12h1M25 12h1M29 12h1M43 12h1M46 12h1M59 12h1M80 12h1M95 12h2M115 12h1M124 12h1M139 12h1M0 13h1M11 13h1M13 13h1M34 13h1M51 13h1M58 13h2M66 13h1M73 13h1M77 13h1M92 13h1M96 13h1M105 13h1M123 13h1M11 14h1M14 14h1M23 14h1M43 14h1M81 14h1M93 14h1M11 15h1M53 15h1M59 15h1M66 15h1M71 15h1M81 15h2M99 15h1M108 15h1M137 15h1M6 16h1M25 16h1M38 16h1M46 16h1M73 16h1M95 16h1M100 16h1M107 16h1M135 16h1M19 17h1M23 17h1M37 17h1M61 17h2M88 17h1M92 17h1M99 17h1M108 17h1M117 17h1M126 17h1M129 17h1M133 17h1M137 17h1M37 18h1M51 18h1M59 18h1M66 18h1M86 18h1M93 18h1M99 18h1M124 18h1M130 18h1M6 19h1M13 19h1M21 19h1M59 19h1M66 19h1M73 19h1M77 19h1M85 19h2M96 19h1M107 19h1M115 19h2M124 19h1M126 19h1M129 19h2M134 19h3M12 20h1M38 20h1M46 20h1M88 20h1M128 20h1M135 20h1M137 20h1M10 21h2M46 21h1M86 21h1M88 21h1M90 21h1M96 21h1M127 21h1M5 22h2M21 22h1M37 22h1M58 22h1M70 22h1M73 22h1M84 22h1M88 22h1M93 22h1M95 22h1M101 22h1M118 22h1M124 22h1M129 22h1M25 23h1M56 23h1M66 23h1M85 23h1M117 23h1M123 23h2M25 24h1M32 24h1M51 24h1M66 24h1M96 24h1M99 24h1M117 24h1M14 25h1M25 25h1M48 25h1M59 25h1M98 25h1M117 25h1M132 25h1M135 25h1M6 26h1M38 26h1M66 26h1M70 26h2M82 26h1M88 27h1M124 27h1M132 27h1M14 28h1M37 28h1M59 28h2M62 28h1M88 28h1M95 28h1M100 28h1M105 28h1M135 28h1M137 28h1M139 28h1M11 29h1M21 29h1M51 29h1M56 29h1M59 29h1M77 29h2M120 29h1M123 29h1M130 29h1M1 30h1M27 30h1M51 30h1M94 30h1M137 30h1M11 31h1M19 31h1M36 31h1M59 31h1M61 31h1M66 31h1M70 31h1M98 31h1M0 32h2M3 32h3M8 32h1M10 32h5M17 32h3M21 32h8M32 32h7M40 32h4M45 32h10M56 32h2M59 32h5M65 32h4M70 32h4M75 32h2M78 32h2M81 32h10M92 32h1M94 32h15M110 32h28M139 32h1M1 33h1M10 33h1M14 33h1M24 33h1M36 33h2M43 33h1M58 33h1M73 33h1M75 33h2M90 33h1M96 33h1M112 33h1M118 33h1M124 33h1M126 33h1M129 33h1M14 35h1M21 35h1M24 35h1M37 35h1M39 35h1M51 35h2M56 35h1M62 35h1M66 35h1M73 35h1M76 35h1M93 35h1M103 35h1M106 35h1M112 35h1M124 35h1M126 35h2M136 35h2M1 36h1M20 36h2M32 36h1M34 36h1M37 36h2M66 36h2M71 36h1M78 36h2M81 36h1M86 36h2M89 36h1M94 36h1M100 36h1M104 36h1M106 36h1M123 36h1M125 36h2M129 36h1M132 36h2M21 37h1M36 37h3M46 37h1M52 37h1M56 37h1M62 37h1M77 37h1M81 37h1M86 37h1M117 37h1M123 37h1M127 37h1M129 37h1M0 40h2M3 40h4M8 40h3M12 40h3M17 40h12M32 40h10M43 40h1M45 40h4M50 40h5M56 40h8M66 40h3M70 40h10M81 40h16M98 40h2M33 41h1M36 41h1M51 41h1M56 41h1M59 41h1M61 41h1M66 41h1M71 41h2M76 41h2M84 41h1M88 41h2M92 41h2M95 41h2M98 41h2M101 41h1M104 41h1M108 41h1M114 41h1M120 41h1M122 41h3M127 41h1M132 41h1M137 41h1M139 41h1M5 43h1M11 43h1M22 43h1M36 43h1M51 43h1M59 43h2M66 43h1M70 43h2M73 43h1M76 43h3M82 43h1M85 43h1M90 43h3M95 43h1M100 43h1M103 43h2M106 43h1M108 43h1M112 43h1M115 43h1M117 43h2M123 43h2M127 43h1M129 43h1M136 43h2M8 44h1M14 44h1M19 44h1M22 44h1M27 44h1M38 44h1M51 44h1M58 44h1M66 44h1M84 44h1M112 44h1M115 44h1M119 44h1M124 44h1M4 45h1M6 45h1M13 45h2M41 45h1M61 45h1M66 45h1M73 45h1M116 45h1M127 45h1M5 46h2M46 46h1M50 46h1M60 46h2M86 46h1M90 46h1M96 46h1M100 46h1M124 46h1M135 46h1M137 46h1M0 47h2M3 47h4M8 47h1M10 47h5M17 47h9M27 47h2M30 47h1M32 47h12M45 47h2M48 47h1M50 47h5M56 47h2M59 47h6M68 47h1M70 47h17M88 47h9M98 47h11M110 47h12M123 47h8M132 47h6M139 47h1M6 48h1M9 48h1M12 48h1M14 48h1M18 48h2M34 48h1M50 48h1M67 48h1M70 48h1M72 48h1M75 48h1M79 48h1M81 48h1M85 48h3M92 48h2M97 48h2M105 48h1M111 48h8M124 48h2M132 48h4M139 48h1M0 49h7M8 49h7M17 49h9M27 49h2M30 49h1M32 49h11M45 49h2M48 49h1M50 49h3M54 49h1M56 49h2M59 49h6M66 49h3M70 49h27M98 49h13M112 49h25M139 49h1M1 50h1M3 50h1M11 50h3M38 50h1M66 50h1M72 50h1M75 50h1M77 50h1M84 50h1M86 50h1M90 50h1M93 50h1M95 50h3M99 50h1M103 50h1M105 50h2M108 50h2M118 50h2M125 50h1M127 50h4M133 50h1M136 50h4M0 53h2M3 53h4M8 53h1M10 53h16M27 53h3M32 53h12M45 53h2M48 53h1M50 53h3M54 53h10M66 53h3M70 53h2M73 53h11M85 53h19M137 53h3M0 54h2M3 54h3M7 54h8M16 54h4M22 54h6M30 54h1M32 54h12M45 54h2M48 54h1M50 54h3M54 54h1M56 54h13M70 54h10M81 54h15M97 54h19M117 54h23M5 55h1M9 55h1M20 55h1M46 55h1M50 55h1M52 55h1M75 55h1M77 55h1M79 55h1M82 55h5M88 55h1M90 55h2M93 55h3M99 55h3M104 55h1M106 55h3M110 55h1M117 55h1M119 55h6M127 55h1M130 55h2M133 55h1M136 55h2M139 55h1M5 56h1M8 56h1M10 56h1M12 56h3M21 56h1M23 56h1M32 56h2M40 56h1M50 56h1M52 56h1M56 56h1M70 56h1M73 56h1M84 56h1M101 56h1M107 56h1M121 56h1M6 57h1M12 57h1M21 57h1M23 57h1M40 57h1M58 57h1M67 57h1M70 57h2M73 57h5M84 57h1M91 57h2M94 57h1M99 57h3M104 57h1M106 57h3M110 57h1M113 57h6M120 57h9M131 57h4M136 57h4M1 58h1M3 58h1M8 58h1M14 58h1M19 58h1M27 58h1M32 58h1M34 58h1M50 58h1M67 58h2M72 58h1M75 58h3M80 58h1M82 58h1M84 58h1M86 58h1M91 58h2M95 58h1M97 58h1M99 58h1M101 58h4M106 58h2M109 58h1M115 58h4M120 58h2M125 58h2M129 58h2M132 58h2M137 58h1M0 59h7M8 59h1M10 59h5M17 59h11M29 59h1M31 59h13M45 59h2M48 59h1M50 59h5M56 59h8M66 59h6M73 59h1M75 59h5M81 59h29M112 59h1M114 59h23M138 59h2M1 60h1M5 60h1M8 60h1M13 60h2M19 60h1M37 60h2M52 60h1M66 60h1M70 60h1M72 60h2M76 60h2M79 60h1M82 60h1M88 60h2M91 60h1M93 60h5M101 60h1M103 60h1M105 60h2M109 60h1M111 60h1M114 60h6M122 60h4M128 60h1M131 60h2M135 60h1M11 61h1M13 61h1M20 61h3M27 61h1M56 61h1M61 61h1M84 61h1M112 61h1M126 61h1M129 61h1M132 61h1M139 61h1M3 62h1M5 62h1M8 62h1M13 62h1M21 62h1M23 62h1M27 62h1M34 62h1M36 62h1M46 62h1M50 62h3M56 62h1M63 62h1M67 62h1M70 62h2M74 62h1M76 62h1M78 62h1M82 62h4M88 62h3M92 62h1M94 62h1M96 62h3M101 62h3M108 62h2M112 62h2M115 62h5M121 62h1M123 62h4M128 62h2M131 62h1M135 62h1M137 62h1M139 62h1M1 63h1M10 63h1M22 63h2M38 63h1M43 63h1M51 63h1M70 63h1M73 63h1M85 63h1M88 63h1M92 63h2M96 63h1M132 63h1M10 64h2M14 64h1M37 64h2M46 64h1M51 64h1M59 64h2M66 64h1M70 64h1M72 64h2M75 64h3M79 64h1M82 64h4M88 64h4M94 64h4M99 64h1M103 64h2M107 64h6M116 64h1M118 64h1M120 64h2M125 64h1M127 64h6M134 64h2M137 64h3M14 65h1M22 65h1M27 65h1M33 65h1M42 65h1M52 65h1M66 65h1M70 65h1M72 65h2M75 65h2M80 65h1M82 65h1M85 65h2M88 65h3M92 65h4M97 65h2M100 65h2M104 65h2M109 65h3M114 65h3M118 65h2M121 65h1M124 65h1M126 65h1M128 65h1M130 65h2M134 65h6M14 68h1M22 68h2M51 68h2M58 68h1M60 68h2M66 68h1M70 68h1M73 68h1M76 68h1M92 68h1M95 68h1M133 68h1M0 72h1M14 72h1M23 72h1M33 72h2M40 72h1M60 72h1M67 72h1M101 72h1M114 72h1M116 72h1M127 72h1M129 72h1M136 72h1" stroke="#46aedc"/>
<path d="M11 0h1M25 0h1M37 0h1M77 0h1M95 0h1M103 0h1M105 0h1M11 1h1M61 1h1M73 1h1M116 1h1M122 1h1M1 2h1M43 2h1M47 2h1M66 2h1M70 2h2M76 2h1M87 2h1M94 2h1M101 2h1M129 2h1M25 3h1M59 3h1M78 3h1M86 3h1M95 3h1M112 3h1M121 3h1M66 4h2M70 4h2M73 4h1M75 4h26M0 5h2M3 5h4M8 5h1M10 5h6M17 5h3M21 5h8M32 5h12M45 5h10M56 5h1M58 5h6M66 5h3M70 5h4M75 5h11M87 5h51M139 5h1M1 6h1M6 6h1M10 6h1M22 6h2M33 6h1M37 6h1M51 6h1M56 6h1M63 6h1M66 6h1M73 6h1M79 6h1M85 6h1M89 6h2M95 6h1M101 6h1M107 6h1M116 6h1M129 6h1M134 6h1M136 6h1M0 7h2M12 7h1M19 7h1M21 7h2M24 7h1M33 7h1M41 7h1M50 7h1M58 7h2M76 7h1M84 7h1M90 7h1M100 7h1M106 7h1M116 7h1M119 7h1M126 7h1M130 7h1M134 7h1M137 7h1M139 7h1M6 8h1M21 8h1M27 8h1M56 8h1M86 8h1M92 8h1M94 8h1M108 8h1M135 8h1M3 9h1M6 9h1M8 9h1M11 9h1M37 9h2M52 9h1M56 9h1M60 9h2M67 9h1M77 9h1M90 9h3M95 9h1M101 9h1M114 9h1M121 9h1M135 9h1M137 9h2M1 10h1M14 10h1M19 10h1M32 10h1M37 10h1M51 10h1M56 10h1M61 10h1M70 10h1M73 10h1M77 10h1M92 10h1M94 10h1M124 10h1M137 10h1M3 11h1M6 11h1M12 11h1M37 11h1M51 11h1M58 11h2M61 11h1M75 11h2M86 11h1M96 11h1M105 11h2M118 11h1M126 11h2M133 11h1M137 11h1M1 12h1M8 12h1M12 12h1M21 12h1M32 12h1M51 12h1M60 12h1M62 12h1M70 12h2M73 12h1M77 12h1M85 12h1M90 12h1M93 12h1M108 12h1M118 12h2M5 13h2M14 13h1M22 13h1M37 13h2M63 13h1M83 13h1M118 13h1M132 13h1M6 14h1M12 14h1M37 14h1M71 14h1M92 14h1M96 14h1M100 14h2M114 14h1M116 14h1M120 14h1M123 14h1M6 15h1M14 15h1M19 15h1M21 15h1M38 15h1M43 15h1M51 15h1M67 15h1M75 15h1M100 15h1M117 15h1M135 15h1M3 16h1M5 16h1M11 16h1M21 16h1M27 16h1M51 16h1M59 16h1M61 16h1M66 16h1M70 16h1M81 16h1M84 16h1M88 16h1M96 16h1M129 16h1M0 17h1M6 17h1M8 17h1M10 17h2M21 17h2M36 17h1M58 17h2M66 17h1M79 17h1M87 17h1M90 17h1M98 17h1M123 17h1M130 17h1M136 17h1M14 18h1M19 18h2M22 18h1M27 18h1M34 18h1M38 18h1M40 18h1M43 18h1M61 18h2M70 18h1M73 18h1M75 18h1M81 18h1M85 18h1M90 18h1M92 18h1M105 18h1M117 18h3M135 18h1M0 19h1M3 19h1M10 19h1M12 19h1M14 19h1M34 19h1M36 19h1M43 19h1M46 19h1M50 19h2M56 19h1M60 19h1M62 19h2M93 19h1M99 19h1M106 19h1M112 19h1M119 19h1M123 19h1M128 19h1M133 19h1M137 19h1M1 20h1M3 20h1M6 20h1M10 20h2M43 20h1M59 20h1M76 20h1M90 20h1M93 20h2M1 21h1M6 21h1M12 21h3M19 21h1M21 21h2M33 21h1M37 21h1M42 21h1M51 21h1M59 21h1M73 21h1M76 21h2M85 21h1M93 21h1M95 21h1M101 21h1M107 21h1M118 21h1M3 22h1M12 22h1M34 22h1M46 22h1M51 22h1M56 22h1M59 22h1M66 22h1M90 22h1M92 22h1M96 22h1M123 22h1M127 22h1M137 22h1M1 23h1M3 23h1M11 23h1M21 23h1M23 23h1M34 23h1M43 23h1M51 23h1M59 23h1M86 23h1M92 23h1M108 23h1M118 23h1M126 23h2M134 23h1M6 24h1M21 24h1M46 24h1M56 24h1M71 24h1M84 24h1M127 24h1M129 24h1M1 25h1M13 25h1M21 25h2M34 25h1M61 25h1M81 25h1M88 25h1M100 25h2M103 25h1M122 25h1M13 26h1M22 26h1M37 26h1M41 26h1M46 26h1M59 26h3M77 26h1M90 26h1M94 26h1M102 26h1M117 26h1M123 26h1M135 26h1M137 26h1M1 27h1M21 27h1M34 27h1M38 27h1M51 27h1M61 27h2M73 27h1M99 27h1M101 27h1M105 27h1M114 27h1M129 27h1M3 28h1M5 28h2M11 28h1M25 28h1M27 28h1M38 28h1M52 28h1M56 28h1M58 28h1M61 28h1M70 28h1M76 28h1M93 28h1M96 28h1M117 28h1M123 28h1M128 28h1M131 28h1M5 29h1M9 29h1M14 29h1M37 29h1M46 29h1M61 29h1M63 29h1M66 29h1M70 29h1M75 29h1M85 29h1M89 29h1M92 29h1M94 29h1M105 29h1M110 29h1M118 29h1M124 29h1M129 29h1M135 29h1M137 29h1M11 30h1M21 30h2M32 30h1M34 30h1M37 30h1M46 30h1M71 30h1M75 30h1M84 30h1M86 30h1M90 30h1M93 30h1M95 30h1M108 30h1M110 30h1M129 30h1M6 31h1M8 31h1M10 31h1M13 31h2M34 31h1M51 31h1M58 31h1M67 31h1M76 31h1M84 31h2M90 31h1M95 31h1M115 31h1M117 31h2M126 31h1M137 31h1M5 33h1M12 33h2M20 33h1M22 33h1M32 33h1M38 33h1M50 33h1M52 33h1M67 33h1M70 33h1M77 33h1M89 33h1M92 33h2M99 33h1M106 33h2M114 33h2M133 33h2M136 33h3M1 35h1M6 35h1M10 35h1M12 35h2M19 35h2M27 35h1M33 35h1M43 35h1M57 35h1M63 35h1M68 35h1M79 35h1M84 35h1M89 35h2M92 35h1M94 35h2M99 35h1M101 35h2M105 35h1M107 35h2M113 35h2M116 35h2M128 35h3M132 35h1M0 36h1M5 36h2M13 36h1M23 36h2M36 36h1M42 36h1M50 36h2M56 36h1M58 36h1M61 36h1M90 36h1M93 36h1M95 36h1M101 36h1M105 36h1M119 36h1M127 36h1M130 36h1M3 37h1M10 37h1M13 37h1M22 37h1M42 37h1M51 37h1M59 37h1M61 37h1M66 37h1M70 37h1M73 37h1M76 37h1M88 37h3M92 37h2M95 37h1M98 37h2M101 37h1M104 37h2M110 37h1M115 37h2M118 37h1M124 37h1M130 37h1M136 37h1M139 37h1M0 39h9M10 39h5M18 39h8M27 39h1M29 39h2M32 39h17M50 39h2M53 39h2M56 39h8M65 39h4M70 39h1M114 39h26M100 40h31M132 40h6M139 40h1M1 41h1M4 41h1M10 41h1M19 41h1M22 41h1M27 41h1M38 41h1M40 41h1M50 41h1M58 41h1M73 41h1M85 41h2M90 41h1M94 41h1M105 41h3M116 41h1M126 41h1M134 41h1M0 42h2M3 42h4M8 42h7M18 42h12M32 42h15M48 42h1M50 42h15M66 42h3M70 42h1M72 42h19M92 42h33M126 42h12M139 42h1M8 43h1M12 43h1M33 43h1M37 43h1M42 43h2M61 43h1M67 43h1M86 43h1M89 43h1M114 43h1M116 43h1M126 43h1M132 43h2M139 43h1M4 44h1M6 44h1M10 44h1M17 44h2M24 44h1M36 44h2M40 44h1M59 44h2M67 44h1M70 44h4M75 44h1M82 44h1M85 44h2M89 44h3M94 44h2M99 44h1M106 44h2M110 44h2M116 44h3M120 44h4M127 44h1M129 44h2M134 44h1M137 44h1M0 45h1M5 45h1M8 45h1M19 45h1M23 45h1M27 45h1M32 45h1M36 45h1M50 45h1M52 45h1M56 45h1M58 45h1M62 45h1M67 45h1M70 45h1M72 45h1M75 45h5M81 45h1M84 45h3M90 45h4M95 45h2M98 45h2M101 45h1M105 45h3M110 45h2M115 45h1M117 45h1M119 45h1M124 45h1M132 45h1M134 45h2M137 45h1M3 46h1M11 46h1M14 46h1M19 46h2M27 46h1M32 46h1M37 46h1M43 46h1M56 46h1M63 46h1M66 46h1M71 46h3M76 46h1M80 46h2M83 46h1M87 46h1M89 46h1M92 46h2M95 46h1M102 46h2M106 46h1M110 46h1M112 46h3M116 46h1M118 46h1M123 46h1M127 46h2M130 46h1M133 46h2M138 46h1M5 48h1M10 48h1M33 48h1M43 48h1M58 48h1M60 48h1M62 48h1M66 48h1M77 48h1M84 48h1M95 48h1M99 48h1M126 48h2M10 50h1M14 50h1M19 50h2M22 50h1M50 50h2M56 50h1M63 50h1M70 50h1M76 50h1M100 50h1M115 50h2M135 50h1M0 51h2M3 51h1M5 51h10M17 51h9M27 51h1M30 51h1M32 51h8M59 51h6M66 51h3M70 51h2M73 51h1M75 51h19M95 51h16M112 51h1M114 51h8M123 51h2M126 51h12M139 51h1M0 52h2M3 52h6M10 52h5M17 52h9M27 52h1M30 52h1M32 52h15M48 52h1M50 52h3M54 52h10M66 52h6M73 52h7M81 52h10M92 52h26M119 52h21M105 53h32M3 55h1M12 55h1M14 55h1M21 55h1M32 55h3M40 55h1M42 55h1M51 55h1M56 55h1M59 55h1M70 55h1M102 55h1M105 55h1M129 55h1M134 55h1M0 56h1M3 56h1M17 56h1M19 56h1M27 56h1M37 56h1M39 56h1M41 56h3M54 56h1M61 56h3M67 56h1M71 56h1M74 56h2M79 56h1M81 56h3M85 56h3M91 56h5M99 56h2M102 56h1M104 56h1M106 56h1M109 56h2M113 56h4M123 56h2M126 56h5M132 56h2M135 56h2M138 56h2M3 57h1M5 57h1M10 57h1M13 57h2M19 57h1M32 57h1M34 57h1M36 57h3M51 57h2M59 57h1M61 57h1M81 57h1M85 57h1M89 57h2M96 57h1M129 57h1M0 58h1M6 58h1M11 58h1M13 58h1M21 58h2M35 58h2M41 58h1M43 58h1M56 58h1M58 58h1M60 58h1M62 58h1M66 58h1M78 58h1M90 58h1M112 58h1M119 58h1M127 58h1M134 58h1M139 58h1M0 60h1M3 60h1M10 60h1M12 60h1M18 60h1M20 60h1M22 60h1M34 60h1M36 60h1M40 60h1M42 60h1M51 60h1M57 60h2M67 60h1M84 60h1M86 60h2M98 60h1M107 60h1M112 60h1M126 60h2M133 60h1M136 60h1M0 61h1M5 61h1M8 61h1M12 61h1M19 61h1M23 61h1M33 61h3M40 61h1M50 61h3M58 61h1M63 61h1M66 61h1M71 61h1M73 61h1M75 61h1M79 61h1M82 61h2M85 61h5M92 61h3M98 61h8M107 61h3M111 61h1M113 61h3M117 61h3M121 61h1M123 61h3M127 61h1M133 61h4M138 61h1M0 62h1M10 62h1M14 62h1M17 62h1M32 62h1M35 62h1M40 62h2M58 62h1M60 62h1M62 62h1M75 62h1M87 62h1M95 62h1M106 62h1M114 62h1M127 62h1M130 62h1M3 63h1M12 63h1M19 63h2M37 63h1M40 63h1M50 63h1M56 63h1M58 63h1M67 63h1M75 63h1M77 63h1M81 63h2M84 63h1M86 63h2M89 63h2M94 63h2M99 63h8M111 63h1M114 63h2M117 63h1M119 63h4M124 63h1M126 63h3M131 63h1M133 63h2M136 63h4M5 64h1M13 64h1M19 64h1M22 64h1M25 64h1M67 64h1M92 64h2M101 64h1M123 64h2M3 65h3M10 65h1M21 65h1M23 65h1M32 65h1M36 65h1M39 65h2M50 65h1M56 65h1M58 65h1M60 65h1M67 65h1M79 65h1M81 65h1M83 65h1M112 65h1M129 65h1M132 65h1M0 66h7M8 66h1M10 66h5M17 66h9M27 66h2M30 66h9M41 66h3M45 66h2M48 66h1M50 66h5M56 66h9M66 66h3M70 66h2M73 66h31M105 66h4M110 66h3M114 66h8M123 66h8M132 66h8M0 67h7M8 67h7M16 67h4M21 67h5M27 67h1M29 67h18M48 67h1M50 67h5M56 67h4M61 67h3M66 67h3M70 67h27M98 67h11M110 67h9M120 67h11M132 67h1M134 67h6M3 68h1M6 68h1M13 68h1M19 68h2M36 68h1M43 68h1M62 68h2M72 68h1M75 68h1M78 68h4M83 68h1M85 68h4M90 68h2M93 68h1M98 68h4M103 68h2M107 68h5M113 68h3M117 68h3M121 68h1M123 68h10M134 68h6M0 69h2M3 69h11M15 69h1M17 69h11M32 69h4M37 69h10M48 69h1M50 69h1M52 69h1M54 69h1M56 69h8M66 69h3M71 69h11M110 69h21M132 69h8M5 72h1M8 72h1M10 72h1M12 72h1M17 72h2M22 72h1M35 72h1M39 72h1M41 72h2M50 72h1M57 72h3M70 72h1M73 72h1M75 72h1M77 72h1M79 72h3M84 72h14M99 72h2M102 72h1M104 72h2M107 72h1M111 72h2M115 72h1M118 72h1M120 72h7M130 72h6M139 72h1" stroke="#339bda"/>
<path d="M46 0h1M51 0h1M59 0h1M61 0h1M101 0h1M128 0h1M132 0h2M25 1h1M36 1h2M78 1h1M85 1h1M94 1h2M119 1h1M136 1h1M6 2h1M11 2h1M23 2h1M37 2h2M78 2h1M83 2h1M103 2h1M1 3h1M46 3h1M56 3h1M70 3h1M73 3h1M94 3h1M106 3h1M134 3h1M3 6h1M5 6h1M12 6h1M14 6h1M19 6h2M34 6h1M41 6h1M52 6h1M62 6h1M86 6h1M92 6h1M105 6h1M128 6h1M132 6h1M20 7h1M23 7h1M27 7h1M34 7h1M36 7h1M39 7h1M42 7h1M60 7h1M62 7h1M66 7h1M79 7h1M83 7h1M85 7h3M93 7h3M107 7h1M114 7h1M121 7h1M124 7h1M129 7h1M10 8h1M13 8h2M34 8h1M37 8h1M46 8h1M67 8h1M76 8h1M81 8h1M93 8h1M95 8h1M112 8h1M114 8h2M117 8h1M132 8h1M13 9h2M19 9h1M22 9h1M42 9h1M51 9h1M63 9h1M66 9h1M76 9h1M78 9h1M85 9h1M87 9h1M94 9h1M102 9h1M107 9h1M127 9h1M129 9h1M10 10h1M13 10h1M21 10h1M24 10h1M34 10h1M38 10h1M50 10h1M58 10h1M62 10h2M75 10h2M83 10h1M85 10h1M87 10h1M90 10h1M95 10h1M101 10h1M114 10h1M117 10h1M135 10h1M8 11h1M11 11h1M14 11h1M22 11h4M36 11h1M40 11h1M52 11h1M73 11h1M85 11h1M89 11h1M92 11h2M95 11h1M99 11h1M112 11h1M129 11h2M0 12h1M4 12h1M13 12h1M23 12h2M33 12h1M37 12h2M40 12h3M50 12h1M61 12h1M76 12h1M79 12h1M83 12h1M86 12h2M99 12h1M101 12h2M105 12h1M114 12h1M121 12h1M126 12h2M129 12h2M134 12h1M8 13h1M12 13h1M23 13h2M27 13h1M32 13h1M42 13h2M50 13h1M56 13h1M61 13h2M84 13h1M95 13h1M101 13h2M107 13h1M112 13h1M116 13h1M119 13h1M124 13h1M127 13h1M129 13h1M139 13h1M8 14h1M19 14h1M21 14h1M38 14h1M40 14h1M51 14h1M58 14h3M62 14h1M66 14h2M77 14h1M85 14h1M94 14h1M102 14h1M106 14h1M130 14h1M134 14h1M1 15h1M3 15h1M10 15h1M20 15h1M22 15h2M32 15h3M37 15h1M52 15h1M60 15h1M76 15h1M84 15h2M103 15h1M107 15h1M115 15h2M118 15h1M0 16h1M12 16h3M19 16h2M36 16h2M40 16h1M55 16h1M58 16h1M63 16h1M75 16h1M77 16h1M86 16h1M93 16h1M101 16h2M118 16h1M124 16h1M133 16h1M3 17h1M5 17h1M12 17h1M14 17h1M20 17h1M27 17h1M32 17h2M50 17h1M63 17h1M76 17h2M84 17h2M89 17h1M101 17h1M115 17h1M127 17h1M4 18h2M8 18h1M12 18h1M23 18h1M32 18h2M42 18h1M50 18h1M52 18h1M54 18h1M60 18h1M76 18h1M79 18h1M94 18h2M112 18h1M116 18h1M126 18h2M133 18h1M17 19h1M22 19h1M24 19h1M32 19h2M37 19h1M40 19h1M52 19h1M58 19h1M75 19h2M78 19h1M90 19h1M92 19h1M101 19h1M114 19h1M132 19h1M5 20h1M13 20h2M19 20h1M22 20h2M34 20h1M51 20h2M56 20h1M58 20h1M61 20h1M81 20h1M83 20h1M85 20h2M89 20h1M96 20h1M114 20h1M116 20h1M118 20h1M126 20h1M5 21h1M8 21h1M17 21h1M23 21h2M32 21h1M34 21h1M36 21h1M40 21h1M43 21h1M45 21h1M56 21h1M61 21h1M79 21h1M81 21h1M84 21h1M92 21h1M99 21h1M103 21h1M106 21h1M124 21h1M129 21h1M136 21h1M0 22h1M13 22h2M19 22h1M22 22h1M40 22h1M43 22h1M62 22h1M77 22h1M85 22h1M89 22h1M94 22h1M100 22h1M114 22h1M128 22h1M130 22h1M132 22h1M134 22h3M139 22h1M6 23h1M8 23h1M13 23h1M22 23h1M24 23h1M27 23h1M33 23h1M37 23h2M50 23h1M52 23h1M58 23h1M61 23h2M81 23h1M84 23h1M90 23h1M93 23h1M95 23h1M100 23h1M133 23h1M1 24h1M12 24h1M22 24h1M36 24h3M43 24h1M52 24h1M58 24h2M62 24h1M67 24h1M79 24h1M81 24h1M83 24h1M90 24h1M93 24h1M107 24h1M114 24h1M118 24h1M130 24h1M132 24h1M0 25h1M3 25h1M6 25h1M33 25h1M38 25h1M40 25h1M42 25h1M51 25h1M62 25h2M75 25h1M85 25h1M92 25h1M96 25h1M112 25h1M118 25h1M123 25h1M127 25h1M129 25h1M133 25h1M137 25h1M139 25h1M0 26h1M3 26h1M19 26h1M21 26h1M23 26h1M34 26h1M36 26h1M40 26h1M63 26h1M67 26h1M73 26h1M76 26h1M79 26h1M81 26h1M84 26h1M86 26h3M92 26h2M95 26h1M103 26h1M107 26h1M116 26h1M128 26h1M130 26h1M136 26h1M13 27h2M22 27h1M31 27h1M36 27h1M43 27h1M56 27h1M66 27h1M75 27h1M83 27h1M86 27h1M95 27h1M106 27h1M118 27h1M123 27h1M137 27h1M1 28h1M8 28h1M13 28h1M21 28h2M24 28h1M32 28h1M39 28h2M66 28h1M77 28h1M85 28h1M90 28h1M101 28h2M107 28h1M115 28h2M130 28h1M0 29h2M4 29h1M13 29h1M19 29h2M24 29h1M32 29h1M41 29h1M50 29h1M60 29h1M62 29h1M67 29h1M73 29h1M81 29h1M86 29h1M99 29h1M102 29h2M117 29h1M132 29h1M136 29h1M3 30h1M6 30h1M8 30h1M10 30h1M13 30h1M20 30h1M52 30h1M56 30h1M62 30h1M70 30h1M78 30h1M85 30h1M89 30h1M99 30h1M101 30h1M106 30h2M117 30h1M130 30h1M133 30h1M135 30h1M3 31h1M5 31h1M12 31h1M20 31h2M23 31h1M27 31h1M37 31h1M56 31h2M63 31h1M72 31h2M75 31h1M93 31h2M99 31h1M105 31h2M112 31h1M127 31h1M136 31h1M3 33h2M19 33h1M23 33h1M33 33h2M41 33h1M60 33h1M68 33h1M78 33h1M83 33h2M86 33h2M94 33h2M103 33h1M116 33h1M119 33h1M132 33h1M0 34h2M3 34h4M8 34h1M10 34h16M27 34h3M31 34h5M37 34h7M45 34h2M48 34h1M50 34h3M54 34h4M59 34h2M62 34h3M66 34h2M69 34h3M73 34h7M81 34h28M110 34h12M123 34h15M139 34h1M4 35h1M8 35h1M18 35h1M23 35h1M35 35h2M40 35h3M45 35h1M50 35h1M69 35h1M81 35h1M86 35h2M115 35h1M119 35h1M133 35h1M3 36h1M8 36h1M10 36h1M12 36h1M14 36h1M41 36h1M43 36h1M54 36h1M57 36h1M62 36h2M70 36h1M73 36h1M75 36h2M84 36h2M102 36h2M107 36h1M114 36h1M116 36h1M121 36h1M124 36h1M134 36h1M139 36h1M0 37h1M5 37h1M8 37h1M14 37h1M19 37h1M23 37h2M32 37h2M44 37h1M50 37h1M58 37h1M63 37h1M75 37h1M84 37h2M87 37h1M112 37h1M0 38h1M3 38h4M8 38h7M17 38h6M24 38h2M27 38h1M29 38h1M31 38h4M36 38h8M45 38h4M50 38h3M54 38h1M56 38h16M73 38h2M76 38h28M105 38h8M114 38h11M126 38h5M132 38h8M71 39h3M75 39h1M77 39h14M92 39h3M96 39h17M3 41h1M5 41h1M8 41h1M13 41h2M21 41h1M32 41h1M34 41h1M43 41h1M45 41h1M60 41h1M62 41h1M70 41h1M87 41h1M102 41h2M115 41h1M118 41h2M129 41h1M133 41h1M0 43h1M4 43h1M10 43h1M13 43h2M18 43h2M32 43h1M40 43h2M54 43h1M56 43h1M62 43h2M65 43h1M68 43h1M75 43h1M79 43h1M84 43h1M87 43h1M94 43h1M101 43h1M121 43h1M130 43h1M0 44h1M5 44h1M13 44h1M23 44h1M32 44h1M34 44h1M43 44h1M50 44h1M61 44h2M76 44h2M87 44h1M92 44h1M101 44h1M105 44h1M114 44h1M126 44h1M132 44h1M2 45h2M21 45h1M24 45h1M33 45h1M51 45h1M63 45h1M118 45h1M130 45h1M133 45h1M139 45h1M15 46h1M17 46h1M22 46h1M24 46h1M34 46h1M52 46h1M59 46h1M75 46h1M84 46h1M101 46h1M126 46h1M0 48h1M13 48h1M20 48h3M24 48h1M27 48h1M32 48h1M35 48h2M39 48h2M52 48h1M63 48h1M68 48h1M76 48h1M89 48h1M94 48h1M101 48h1M106 48h2M119 48h1M121 48h1M129 48h2M136 48h1M0 50h1M5 50h1M8 50h1M18 50h1M24 50h1M33 50h1M37 50h1M43 50h1M52 50h1M54 50h1M58 50h1M60 50h1M67 50h1M79 50h1M85 50h1M89 50h1M101 50h1M112 50h1M114 50h1M124 50h1M126 50h1M132 50h1M13 55h1M22 55h1M24 55h1M27 55h1M36 55h1M43 55h1M45 55h1M54 55h1M73 55h1M103 55h1M112 55h1M114 55h3M118 55h1M126 55h1M18 56h1M20 56h1M24 56h1M35 56h1M68 56h1M77 56h1M103 56h1M105 56h1M112 56h1M119 56h1M134 56h1M20 57h1M22 57h1M24 57h1M33 57h1M41 57h1M43 57h1M46 57h1M50 57h1M56 57h1M62 57h1M68 57h1M78 57h1M86 57h1M103 57h1M130 57h1M10 58h1M20 58h1M24 58h1M33 58h1M40 58h1M42 58h1M83 58h1M94 58h1M105 58h1M114 58h1M124 58h1M128 58h1M24 60h1M27 60h1M33 60h1M39 60h1M45 60h1M54 60h1M60 60h1M102 60h1M121 60h1M129 60h1M134 60h1M137 60h1M139 60h1M10 61h1M18 61h1M24 61h1M32 61h1M39 61h1M41 61h2M57 61h1M68 61h1M70 61h1M78 61h1M95 61h1M116 61h1M128 61h1M130 61h1M12 62h1M15 62h1M22 62h1M37 62h1M39 62h1M43 62h1M77 62h1M93 62h1M107 62h1M132 62h2M136 62h1M0 63h1M14 63h1M33 63h2M36 63h1M52 63h1M57 63h1M60 63h1M62 63h1M68 63h1M112 63h1M116 63h1M129 63h1M6 64h1M12 64h1M23 64h1M40 64h1M43 64h1M54 64h1M56 64h1M58 64h1M86 64h1M105 64h2M114 64h2M126 64h1M133 64h1M0 65h1M8 65h1M12 65h2M17 65h2M35 65h1M41 65h1M63 65h1M68 65h1M84 65h1M87 65h1M107 65h1M133 65h1M0 68h1M8 68h1M10 68h1M17 68h1M27 68h1M32 68h1M35 68h1M40 68h3M45 68h1M89 68h1M94 68h1M105 68h1M82 69h20M104 69h6M0 70h2M3 70h4M8 70h1M10 70h5M16 70h13M31 70h13M45 70h2M48 70h5M54 70h10M67 70h5M73 70h1M75 70h36M112 70h7M120 70h2M123 70h15M139 70h1M0 71h2M3 71h12M17 71h9M27 71h2M32 71h11M44 71h5M50 71h9M60 71h5M66 71h3M70 71h2M73 71h7M81 71h1M83 71h12M96 71h1M98 71h40M139 71h1M24 72h1M36 72h1M43 72h1M45 72h1M54 72h1M62 72h1M83 72h1M103 72h1M106 72h1M119 72h1M128 72h1" stroke="#2687d5"/>
<path d="M1 0h1M5 0h1M13 0h1M22 0h1M27 0h1M38 0h1M40 0h1M43 0h1M67 0h1M102 0h1M1 1h1M19 1h1M33 1h1M46 1h1M102 1h1M114 1h1M3 2h1M5 2h1M13 2h1M27 2h1M46 2h1M56 2h1M59 2h1M61 2h1M105 2h1M6 3h1M11 3h1M14 3h1M20 3h2M32 3h2M36 3h1M79 3h1M102 3h1M128 3h1M0 6h1M8 6h1M26 6h1M36 6h1M39 6h2M43 6h1M54 6h1M71 6h1M76 6h1M83 6h1M94 6h1M106 6h1M114 6h1M119 6h1M121 6h1M139 6h1M4 7h1M8 7h1M10 7h1M17 7h1M32 7h1M54 7h1M57 7h1M68 7h1M75 7h1M92 7h1M103 7h1M115 7h1M118 7h1M132 7h1M5 8h1M20 8h1M23 8h2M33 8h1M41 8h1M50 8h3M58 8h1M60 8h1M62 8h1M66 8h1M73 8h1M84 8h1M96 8h1M103 8h1M106 8h2M110 8h1M120 8h2M126 8h2M129 8h1M5 9h1M20 9h1M23 9h1M32 9h1M35 9h2M40 9h2M43 9h1M50 9h1M62 9h1M73 9h1M75 9h1M81 9h1M86 9h1M105 9h1M112 9h1M126 9h1M128 9h1M0 10h1M5 10h1M17 10h1M20 10h1M27 10h1M31 10h1M41 10h1M79 10h1M81 10h1M86 10h1M93 10h1M102 10h2M107 10h1M115 10h1M127 10h1M129 10h1M134 10h1M136 10h1M4 11h2M13 11h1M17 11h1M19 11h1M33 11h2M39 11h1M41 11h1M54 11h1M57 11h1M62 11h1M67 11h1M94 11h1M103 11h1M107 11h1M114 11h2M119 11h1M124 11h1M139 11h1M5 12h1M10 12h1M14 12h1M17 12h2M22 12h1M34 12h3M45 12h1M54 12h1M57 12h2M63 12h1M67 12h1M75 12h1M81 12h1M84 12h1M116 12h1M128 12h1M132 12h2M136 12h2M3 13h2M18 13h2M33 13h1M35 13h1M57 13h1M60 13h1M81 13h1M85 13h3M103 13h1M106 13h1M114 13h2M128 13h1M130 13h1M137 13h1M3 14h1M5 14h1M10 14h1M13 14h1M20 14h1M22 14h1M34 14h1M39 14h1M41 14h1M52 14h1M56 14h1M63 14h1M73 14h1M76 14h1M79 14h1M84 14h1M86 14h1M89 14h2M115 14h1M118 14h1M124 14h1M133 14h1M139 14h1M5 15h1M8 15h1M13 15h1M24 15h1M39 15h2M50 15h1M56 15h1M58 15h1M63 15h1M68 15h1M73 15h1M77 15h1M90 15h1M93 15h1M95 15h1M101 15h2M114 15h1M119 15h1M121 15h1M124 15h1M126 15h1M128 15h1M134 15h1M22 16h1M33 16h2M43 16h1M50 16h1M60 16h1M62 16h1M76 16h1M83 16h1M89 16h2M92 16h1M112 16h1M116 16h1M127 16h1M130 16h1M132 16h1M136 16h2M139 16h1M40 17h1M43 17h1M52 17h1M56 17h2M60 17h1M68 17h1M70 17h1M81 17h1M83 17h1M95 17h1M103 17h1M107 17h1M112 17h1M116 17h1M119 17h2M132 17h1M10 18h1M13 18h1M24 18h1M36 18h1M56 18h1M58 18h1M63 18h1M77 18h1M87 18h1M89 18h1M103 18h1M106 18h2M109 18h1M114 18h2M128 18h1M5 19h1M20 19h1M39 19h1M41 19h1M57 19h1M67 19h1M70 19h1M79 19h1M83 19h2M102 19h2M8 20h1M27 20h1M32 20h2M41 20h1M57 20h1M60 20h1M63 20h1M66 20h2M75 20h1M77 20h2M92 20h1M98 20h1M101 20h2M107 20h1M115 20h1M117 20h1M119 20h1M121 20h1M127 20h1M132 20h1M136 20h1M139 20h1M0 21h1M3 21h2M20 21h1M25 21h1M27 21h1M35 21h1M41 21h1M50 21h1M54 21h1M58 21h1M60 21h1M62 21h2M66 21h3M75 21h1M87 21h1M116 21h1M126 21h1M133 21h1M137 21h1M139 21h1M8 22h1M10 22h1M18 22h1M20 22h1M23 22h2M27 22h1M32 22h1M36 22h1M39 22h1M42 22h1M50 22h1M52 22h1M60 22h1M75 22h1M86 22h1M99 22h1M105 22h3M115 22h1M0 23h1M5 23h1M10 23h1M20 23h1M40 23h1M57 23h1M60 23h1M63 23h1M67 23h1M77 23h1M83 23h1M87 23h1M94 23h1M99 23h1M105 23h1M115 23h1M129 23h3M135 23h2M3 24h1M13 24h2M19 24h1M23 24h1M27 24h1M33 24h2M41 24h1M50 24h1M60 24h2M63 24h1M73 24h1M75 24h1M77 24h1M101 24h1M105 24h2M115 24h1M137 24h1M139 24h1M5 25h1M8 25h1M10 25h1M18 25h1M32 25h1M37 25h1M39 25h1M41 25h1M43 25h1M52 25h1M60 25h1M66 25h2M73 25h1M84 25h1M86 25h1M89 25h2M93 25h2M99 25h1M106 25h2M114 25h1M119 25h1M5 26h1M8 26h1M14 26h1M17 26h1M20 26h1M25 26h1M32 26h2M42 26h1M50 26h3M58 26h1M62 26h1M89 26h1M112 26h1M114 26h2M119 26h1M127 26h1M132 26h1M5 27h1M8 27h1M10 27h1M12 27h1M19 27h1M23 27h2M27 27h1M32 27h2M35 27h1M37 27h1M40 27h1M79 27h1M81 27h1M84 27h2M87 27h1M93 27h1M107 27h1M115 27h1M119 27h1M127 27h1M10 28h1M12 28h1M20 28h1M34 28h3M43 28h1M45 28h1M50 28h1M67 28h1M73 28h1M86 28h2M94 28h1M99 28h1M106 28h1M112 28h1M118 28h2M132 28h1M136 28h1M3 29h1M8 29h1M33 29h2M39 29h2M42 29h2M54 29h1M57 29h1M68 29h1M76 29h1M83 29h2M87 29h1M93 29h1M95 29h1M101 29h1M106 29h2M114 29h1M119 29h1M121 29h1M126 29h2M139 29h1M4 30h2M24 30h1M30 30h1M33 30h1M39 30h1M43 30h1M58 30h1M66 30h1M68 30h1M73 30h1M76 30h1M81 30h1M83 30h1M88 30h1M105 30h1M116 30h1M123 30h2M126 30h2M136 30h1M139 30h1M0 31h1M4 31h1M33 31h1M39 31h2M43 31h1M45 31h1M52 31h1M54 31h1M60 31h1M62 31h1M83 31h1M89 31h1M101 31h1M103 31h1M116 31h1M119 31h1M124 31h1M133 31h2M8 33h1M17 33h1M39 33h1M42 33h1M45 33h1M57 33h1M79 33h1M85 33h1M101 33h1M121 33h1M128 33h1M139 33h1M0 35h1M17 35h1M32 35h1M54 35h1M67 35h1M83 35h1M121 35h1M134 35h1M139 35h1M17 36h1M22 36h1M27 36h1M33 36h1M39 36h2M45 36h1M68 36h1M92 36h1M118 36h1M128 36h1M136 36h1M27 37h1M39 37h2M45 37h1M60 37h1M67 37h1M83 37h1M103 37h1M107 37h1M114 37h1M121 37h1M133 37h1M12 41h1M18 41h1M23 41h1M39 41h1M42 41h1M52 41h1M63 41h1M68 41h1M79 41h1M83 41h1M112 41h1M121 41h1M128 41h1M130 41h1M3 43h1M17 43h1M24 43h1M27 43h1M45 43h1M50 43h1M57 43h1M83 43h1M105 43h1M119 43h1M134 43h1M3 44h1M12 44h1M35 44h1M39 44h1M42 44h1M45 44h1M52 44h1M54 44h1M63 44h1M79 44h1M103 44h1M133 44h1M139 44h1M12 45h1M17 45h2M20 45h1M22 45h1M39 45h2M42 45h2M60 45h1M89 45h1M94 45h1M102 45h1M112 45h1M114 45h1M121 45h1M126 45h1M128 45h1M8 46h1M12 46h1M23 46h1M35 46h2M39 46h2M51 46h1M54 46h1M58 46h1M67 46h1M77 46h1M85 46h1M107 46h1M129 46h1M132 46h1M136 46h1M139 46h1M41 48h1M54 48h1M78 48h1M102 48h2M128 48h1M4 50h1M23 50h1M27 50h1M32 50h1M35 50h2M39 50h2M45 50h1M62 50h1M68 50h1M73 50h1M87 50h1M107 50h1M121 50h1M134 50h1M40 51h4M45 51h2M48 51h5M54 51h5M8 55h1M18 55h1M23 55h1M41 55h1M58 55h1M60 55h1M63 55h1M76 55h1M89 55h1M1 56h1M4 56h1M45 56h1M57 56h1M78 56h1M0 57h1M4 57h1M8 57h1M17 57h2M27 57h1M35 57h1M45 57h1M57 57h1M63 57h1M83 57h1M87 57h1M95 57h1M112 57h1M119 57h1M4 58h1M12 58h1M17 58h2M39 58h1M45 58h1M54 58h1M57 58h1M63 58h1M71 58h1M87 58h1M89 58h1M4 60h1M17 60h1M23 60h1M50 60h1M62 60h1M78 60h1M83 60h1M108 60h1M130 60h1M4 61h1M14 61h1M54 61h1M67 61h1M106 61h1M24 62h1M33 62h1M68 62h1M79 62h1M105 62h1M134 62h1M4 63h1M13 63h1M17 63h2M24 63h1M27 63h1M35 63h1M39 63h1M47 63h1M54 63h1M63 63h1M66 63h1M78 63h1M83 63h1M107 63h1M130 63h1M3 64h2M17 64h1M20 64h1M24 64h1M27 64h1M34 64h2M41 64h1M50 64h1M52 64h1M57 64h1M63 64h1M68 64h1M87 64h1M43 65h1M45 65h1M54 65h1M62 65h1M102 65h2M106 65h1M18 68h1M28 68h1M50 68h1M54 68h1M57 68h1M112 68h1M116 68h1M27 72h1M63 72h1M68 72h1M72 72h1M78 72h1" stroke="#2074cd"/>
<path d="M3 0h1M6 0h1M12 0h1M14 0h1M20 0h2M23 0h1M32 0h2M50 0h1M52 0h1M56 0h1M6 1h1M17 1h1M34 1h1M38 1h1M43 1h1M56 1h1M58 1h1M67 1h1M103 1h1M107 1h1M0 2h1M10 2h1M14 2h1M34 2h1M42 2h1M50 2h2M3 3h1M12 3h2M19 3h1M22 3h1M35 3h1M43 3h1M52 3h1M61 3h1M67 3h1M139 3h1M17 6h2M27 6h1M35 6h1M42 6h1M45 6h1M57 6h2M60 6h1M68 6h1M70 6h1M78 6h1M102 6h1M112 6h1M126 6h1M130 6h1M18 7h1M45 7h1M63 7h1M78 7h1M128 7h1M136 7h1M3 8h2M8 8h1M12 8h1M19 8h1M22 8h1M32 8h1M39 8h2M61 8h1M63 8h2M70 8h1M89 8h2M101 8h1M116 8h1M130 8h1M0 9h1M24 9h1M39 9h1M45 9h1M54 9h1M57 9h1M79 9h1M84 9h1M93 9h1M96 9h1M116 9h1M3 10h1M8 10h1M12 10h1M33 10h1M42 10h2M45 10h1M52 10h1M54 10h1M60 10h1M66 10h2M105 10h1M116 10h1M119 10h1M126 10h1M133 10h1M0 11h1M10 11h1M18 11h1M35 11h1M42 11h1M60 11h1M63 11h1M68 11h1M70 11h1M77 11h1M79 11h1M83 11h1M101 11h1M128 11h1M134 11h1M136 11h1M39 12h1M52 12h1M68 12h1M78 12h1M107 12h1M10 13h1M17 13h1M36 13h1M39 13h3M52 13h1M54 13h1M67 13h1M78 13h2M94 13h1M126 13h1M134 13h1M136 13h1M0 14h1M4 14h1M24 14h1M27 14h1M35 14h2M57 14h1M68 14h1M78 14h1M87 14h1M95 14h1M103 14h1M121 14h1M127 14h2M136 14h1M0 15h1M12 15h1M35 15h2M62 15h1M79 15h1M122 15h1M129 15h2M132 15h2M136 15h1M139 15h1M8 16h1M10 16h1M24 16h1M35 16h1M41 16h2M52 16h1M67 16h1M85 16h1M99 16h1M103 16h1M105 16h1M114 16h2M128 16h1M134 16h1M4 17h1M17 17h1M24 17h1M39 17h1M42 17h1M45 17h1M51 17h1M54 17h1M67 17h1M75 17h1M78 17h1M86 17h1M94 17h1M105 17h1M128 17h1M0 18h1M3 18h1M17 18h2M35 18h1M39 18h1M57 18h1M68 18h1M83 18h2M101 18h1M129 18h1M132 18h1M139 18h1M19 19h1M27 19h1M35 19h1M42 19h1M54 19h1M68 19h1M89 19h1M94 19h1M121 19h1M17 20h2M24 20h1M36 20h1M39 20h1M42 20h1M70 20h1M73 20h1M95 20h1M99 20h1M103 20h1M124 20h1M129 20h1M18 21h1M52 21h1M57 21h1M83 21h1M105 21h1M115 21h1M130 21h1M132 21h1M4 22h1M17 22h1M35 22h1M41 22h1M45 22h1M54 22h1M67 22h2M119 22h1M133 22h1M4 23h1M18 23h1M35 23h1M39 23h1M41 23h2M68 23h1M70 23h1M73 23h1M76 23h1M101 23h1M132 23h1M5 24h1M7 24h1M35 24h1M40 24h1M45 24h1M57 24h1M70 24h1M76 24h1M85 24h1M88 24h1M92 24h1M119 24h1M126 24h1M136 24h1M12 25h1M20 25h1M23 25h2M35 25h2M45 25h1M56 25h1M58 25h1M77 25h2M83 25h1M95 25h1M116 25h1M121 25h1M130 25h1M134 25h1M136 25h1M12 26h1M27 26h1M75 26h1M83 26h1M99 26h1M101 26h1M105 26h1M118 26h1M121 26h1M124 26h1M126 26h1M129 26h1M133 26h1M139 26h1M0 27h1M3 27h2M18 27h1M39 27h1M50 27h1M58 27h1M63 27h1M67 27h1M70 27h1M77 27h1M89 27h1M112 27h1M116 27h1M126 27h1M134 27h1M4 28h1M17 28h3M23 28h1M33 28h1M41 28h2M51 28h1M57 28h1M81 28h1M83 28h1M103 28h1M121 28h1M124 28h1M126 28h2M129 28h1M10 29h1M12 29h1M18 29h1M22 29h2M27 29h1M35 29h2M45 29h1M52 29h1M79 29h1M115 29h2M133 29h1M14 30h1M17 30h3M23 30h1M36 30h1M40 30h3M57 30h1M63 30h1M77 30h1M87 30h1M103 30h1M114 30h2M118 30h2M128 30h1M134 30h1M18 31h1M22 31h1M24 31h1M32 31h1M41 31h1M50 31h1M86 31h2M107 31h1M114 31h1M130 31h1M139 31h1M18 33h1M35 33h1M105 33h1M77 35h1M4 36h1M18 36h1M83 36h1M112 36h1M12 37h1M20 37h1M35 37h1M41 37h1M54 37h1M57 37h1M79 37h1M94 37h1M119 37h1M126 37h1M11 41h1M20 41h1M24 41h1M35 41h1M41 41h1M54 41h1M57 41h1M75 41h1M78 41h1M136 41h1M23 43h1M39 43h1M102 43h1M107 43h1M33 44h1M41 44h1M57 44h1M68 44h1M78 44h1M102 44h1M128 44h1M10 45h1M35 45h1M54 45h1M57 45h1M68 45h1M87 45h1M129 45h1M136 45h1M13 46h1M18 46h1M33 46h1M41 46h2M45 46h1M57 46h1M62 46h1M74 46h1M94 46h1M99 46h1M105 46h1M115 46h1M8 48h1M42 48h1M45 48h1M57 48h1M17 50h1M41 50h2M83 50h1M102 50h1M4 55h1M35 55h1M39 55h1M68 55h1M72 55h1M87 55h1M128 55h1M60 56h1M39 57h1M42 57h1M79 57h1M105 57h1M23 58h1M35 60h1M43 60h1M63 60h1M68 60h1M75 60h1M17 61h1M45 61h1M81 61h1M4 62h1M18 62h1M42 62h1M45 62h1M41 63h1M45 63h1M79 63h1M0 64h1M8 64h1M32 64h2M36 64h1M39 64h1M42 64h1M45 64h1M62 64h1M78 64h1M119 64h1M136 64h1M15 65h1M78 65h1M4 68h1M24 68h1M68 68h1M102 68h1" stroke="#1d61c3"/>
<path d="M0 0h1M8 0h1M10 0h1M18 0h2M34 0h1M39 0h1M42 0h1M58 0h1M68 0h1M0 1h1M5 1h1M13 1h2M20 1h1M22 1h2M27 1h1M35 1h1M41 1h2M44 1h2M66 1h1M128 1h1M8 2h1M21 2h2M33 2h1M35 2h2M52 2h1M58 2h1M62 2h1M68 2h1M8 3h1M17 3h1M30 3h1M34 3h1M37 3h1M40 3h1M42 3h1M51 3h1M54 3h1M57 3h2M66 3h1M68 3h1M4 6h1M24 6h1M102 7h1M0 8h1M42 8h2M45 8h1M57 8h1M75 8h1M79 8h1M83 8h1M105 8h1M124 8h1M128 8h1M133 8h2M136 8h1M139 8h1M4 9h1M10 9h1M12 9h1M17 9h1M68 9h1M70 9h1M89 9h1M99 9h1M103 9h1M119 9h1M136 9h1M139 9h1M18 10h1M36 10h1M39 10h2M57 10h1M78 10h1M84 10h1M121 10h1M130 10h1M132 10h1M78 11h1M102 11h1M121 11h1M106 12h1M68 13h1M121 13h1M133 13h1M17 14h2M32 14h1M54 14h1M105 14h1M119 14h1M126 14h1M27 15h1M41 15h2M45 15h1M57 15h1M83 15h1M92 15h1M94 15h1M105 15h2M4 16h1M32 16h1M39 16h1M45 16h1M54 16h1M79 16h1M87 16h1M106 16h1M126 16h1M18 17h1M35 17h1M102 17h1M106 17h1M139 17h1M41 18h1M45 18h1M102 18h1M121 18h1M4 19h1M18 19h1M0 20h1M4 20h1M50 20h1M54 20h1M62 20h1M79 20h1M105 20h2M112 20h1M130 20h1M133 20h1M94 21h1M119 21h1M121 21h1M128 21h1M33 22h1M57 22h1M63 22h1M83 22h1M87 22h1M103 22h1M12 23h1M79 23h1M102 23h1M106 23h2M114 23h1M119 23h1M121 23h1M128 23h1M10 24h1M17 24h2M20 24h1M24 24h1M42 24h1M68 24h1M95 24h1M112 24h1M116 24h1M121 24h1M124 24h1M133 24h2M17 25h1M54 25h1M76 25h1M87 25h1M105 25h1M126 25h1M128 25h1M4 26h1M10 26h1M18 26h1M24 26h1M35 26h1M39 26h1M45 26h1M54 26h1M85 26h1M41 27h2M54 27h1M57 27h1M60 27h1M68 27h1M94 27h1M103 27h1M130 27h1M136 27h1M139 27h1M63 28h1M68 28h1M75 28h1M78 28h1M89 28h1M92 28h1M133 28h2M17 29h1M58 29h1M112 29h1M128 29h1M0 30h1M45 30h1M60 30h1M67 30h1M112 30h1M121 30h1M17 31h1M35 31h1M68 31h1M79 31h1M121 31h1M128 31h1M0 33h1M54 33h1M4 37h1M78 37h1M102 37h1M106 37h1M17 41h1M35 43h1M128 43h1M83 45h1M103 45h1M0 46h1M4 46h1M68 46h1M70 46h1M78 46h2M17 48h1M83 48h1M57 50h1M78 50h1M54 57h1M102 57h1M41 60h1M18 64h1" stroke="#1c4eb3"/>
<path d="M4 0h1M17 0h1M24 0h1M35 0h1M41 0h1M45 0h1M54 0h1M57 0h1M60 0h1M62 0h2M3 1h2M8 1h1M10 1h1M12 1h1M18 1h1M24 1h1M32 1h1M39 1h1M50 1h3M54 1h1M57 1h1M60 1h1M62 1h2M68 1h1M4 2h1M12 2h1M17 2h4M24 2h1M32 2h1M40 2h2M45 2h1M54 2h1M57 2h1M60 2h1M67 2h1M4 3h2M10 3h1M18 3h1M23 3h2M27 3h1M39 3h1M41 3h1M45 3h1M50 3h1M60 3h1M62 3h2M87 6h1M105 7h1M17 8h1M35 8h1M68 8h1M78 8h1M85 8h1M102 8h1M18 9h1M74 9h1M83 9h1M118 9h1M133 9h1M4 10h1M35 10h1M68 10h1M128 10h1M139 10h1M45 11h1M50 11h1M131 13h1M42 14h1M70 14h1M83 14h1M112 14h1M4 15h1M17 15h2M54 15h1M70 15h1M78 15h1M86 15h2M112 15h1M127 15h1M18 16h1M57 16h1M68 16h1M78 16h1M119 16h1M121 16h1M114 17h1M78 18h1M134 18h1M45 19h1M87 19h1M139 19h1M35 20h1M87 20h1M134 20h1M39 21h1M112 21h1M78 22h2M102 22h1M121 22h1M126 22h1M45 23h1M54 23h1M78 23h1M103 23h1M112 23h1M139 23h1M4 24h1M39 24h1M54 24h1M78 24h1M86 24h2M94 24h1M102 24h2M128 24h1M4 25h1M57 25h1M68 25h1M71 25h1M102 25h1M115 25h1M124 25h1M78 26h1M17 27h1M45 27h1M78 27h1M121 27h1M128 27h1M54 28h1M79 28h1M90 29h1M134 29h1M35 30h1M54 30h1M79 30h1M102 30h1M78 31h1M18 37h1M68 37h1M121 46h1" stroke="#1b3ca2"/>
</g>
<text transform="translate(597 27.7) scale(0.72 1)" font-size="7.4" fill="#111" font-weight="bold">GROUP</text>
<text transform="translate(597.3 37.7) rotate(0.02) scale(0.68 1)" font-size="6.9" fill="#111" stroke="#111" stroke-width="0.1">hsa-mir-582</text>
<text transform="translate(597.3 43.75) rotate(0.02) scale(0.68 1)" font-size="6.9" fill="#111" stroke="#111" stroke-width="0.1">hsa-mir-197</text>
<text transform="translate(597.3 49.8) rotate(0.02) scale(0.68 1)" font-size="6.9" fill="#111" stroke="#111" stroke-width="0.1">hsa-mir-9-2</text>
<text transform="translate(597.3 55.85) rotate(0.02) scale(0.68 1)" font-size="6.9" fill="#111" stroke="#111" stroke-width="0.1">hsa-mir-9-1</text>
<text transform="translate(597.3 61.9) rotate(0.02) scale(0.68 1)" font-size="6.9" fill="#111" stroke="#111" stroke-width="0.1">hsa-mir-9-3</text>
<text transform="translate(597.3 67.95) rotate(0.02) scale(0.68 1)" font-size="6.9" fill="#111" stroke="#111" stroke-width="0.1">hsa-mir-205</text>
<text transform="translate(597.3 74) rotate(0.02) scale(0.68 1)" font-size="6.9" fill="#111" stroke="#111" stroke-width="0.1">hsa-mir-127</text>
<text transform="translate(597.3 80.05) rotate(0.02) scale(0.68 1)" font-size="6.9" fill="#111" stroke="#111" stroke-width="0.1">hsa-mir-329</text>
<text transform="translate(597.3 86.1) rotate(0.02) scale(0.68 1)" font-size="6.9" fill="#111" stroke="#111" stroke-width="0.1">hsa-mir-100</text>
<text transform="translate(597.3 92.15) rotate(0.02) scale(0.68 1)" font-size="6.9" fill="#111" stroke="#111" stroke-width="0.1">hsa-mir-136</text>
<text transform="translate(597.3 98.2) rotate(0.02) scale(0.68 1)" font-size="6.9" fill="#111" stroke="#111" stroke-width="0.1">hsa-mir-485</text>
<text transform="translate(597.3 104.25) rotate(0.02) scale(0.68 1)" font-size="6.9" fill="#111" stroke="#111" stroke-width="0.1">hsa-mir-486</text>
<text transform="translate(597.3 110.3) rotate(0.02) scale(0.68 1)" font-size="6.9" fill="#111" stroke="#111" stroke-width="0.1">hsa-mir-487b</text>
<text transform="translate(597.3 116.35) rotate(0.02) scale(0.68 1)" font-size="6.9" fill="#111" stroke="#111" stroke-width="0.1">hsa-mir-431</text>
<text transform="translate(597.3 122.4) rotate(0.02) scale(0.68 1)" font-size="6.9" fill="#111" stroke="#111" stroke-width="0.1">hsa-mir-381</text>
<text transform="translate(597.3 128.45) rotate(0.02) scale(0.68 1)" font-size="6.9" fill="#111" stroke="#111" stroke-width="0.1">hsa-mir-376c</text>
<text transform="translate(597.3 134.5) rotate(0.02) scale(0.68 1)" font-size="6.9" fill="#111" stroke="#111" stroke-width="0.1">hsa-mir-369</text>
<text transform="translate(597.3 140.55) rotate(0.02) scale(0.68 1)" font-size="6.9" fill="#111" stroke="#111" stroke-width="0.1">hsa-mir-129b-1</text>
<text transform="translate(597.3 146.6) rotate(0.02) scale(0.68 1)" font-size="6.9" fill="#111" stroke="#111" stroke-width="0.1">hsa-mir-889</text>
<text transform="translate(597.3 152.65) rotate(0.02) scale(0.68 1)" font-size="6.9" fill="#111" stroke="#111" stroke-width="0.1">hsa-mir-134</text>
<text transform="translate(597.3 158.7) rotate(0.02) scale(0.68 1)" font-size="6.9" fill="#111" stroke="#111" stroke-width="0.1">hsa-mir-154</text>
<text transform="translate(597.3 164.75) rotate(0.02) scale(0.68 1)" font-size="6.9" fill="#111" stroke="#111" stroke-width="0.1">hsa-mir-382</text>
<text transform="translate(597.3 170.8) rotate(0.02) scale(0.68 1)" font-size="6.9" fill="#111" stroke="#111" stroke-width="0.1">hsa-mir-320</text>
<text transform="translate(597.3 176.85) rotate(0.02) scale(0.68 1)" font-size="6.9" fill="#111" stroke="#111" stroke-width="0.1">hsa-mir-323</text>
<text transform="translate(597.3 182.9) rotate(0.02) scale(0.68 1)" font-size="6.9" fill="#111" stroke="#111" stroke-width="0.1">hsa-mir-377</text>
<text transform="translate(597.3 188.95) rotate(0.02) scale(0.68 1)" font-size="6.9" fill="#111" stroke="#111" stroke-width="0.1">hsa-mir-654</text>
<text transform="translate(597.3 195) rotate(0.02) scale(0.68 1)" font-size="6.9" fill="#111" stroke="#111" stroke-width="0.1">hsa-mir-337</text>
<text transform="translate(597.3 201.05) rotate(0.02) scale(0.68 1)" font-size="6.9" fill="#111" stroke="#111" stroke-width="0.1">hsa-mir-493</text>
<text transform="translate(597.3 207.1) rotate(0.02) scale(0.68 1)" font-size="6.9" fill="#111" stroke="#111" stroke-width="0.1">hsa-mir-494</text>
<text transform="translate(597.3 213.15) rotate(0.02) scale(0.68 1)" font-size="6.9" fill="#111" stroke="#111" stroke-width="0.1">hsa-mir-411</text>
<text transform="translate(597.3 219.2) rotate(0.02) scale(0.68 1)" font-size="6.9" fill="#111" stroke="#111" stroke-width="0.1">hsa-mir-410</text>
<text transform="translate(597.3 225.25) rotate(0.02) scale(0.68 1)" font-size="6.9" fill="#111" stroke="#111" stroke-width="0.1">hsa-mir-539</text>
<text transform="translate(597.3 231.3) rotate(0.02) scale(0.68 1)" font-size="6.9" fill="#111" stroke="#111" stroke-width="0.1">hsa-mir-758</text>
<text transform="translate(597.3 237.35) rotate(0.02) scale(0.68 1)" font-size="6.9" fill="#111" stroke="#111" stroke-width="0.1">hsa-mir-224</text>
<text transform="translate(597.3 243.4) rotate(0.02) scale(0.68 1)" font-size="6.9" fill="#111" stroke="#111" stroke-width="0.1">hsa-mir-543</text>
<text transform="translate(597.3 249.45) rotate(0.02) scale(0.68 1)" font-size="6.9" fill="#111" stroke="#111" stroke-width="0.1">hsa-mir-495</text>
<text transform="translate(597.3 255.5) rotate(0.02) scale(0.68 1)" font-size="6.9" fill="#111" stroke="#111" stroke-width="0.1">hsa-mir-432</text>
<text transform="translate(597.3 261.55) rotate(0.02) scale(0.68 1)" font-size="6.9" fill="#111" stroke="#111" stroke-width="0.1">hsa-mir-655</text>
<text transform="translate(597.3 267.6) rotate(0.02) scale(0.68 1)" font-size="6.9" fill="#111" stroke="#111" stroke-width="0.1">hsa-mir-299</text>
<text transform="translate(597.3 273.65) rotate(0.02) scale(0.68 1)" font-size="6.9" fill="#111" stroke="#111" stroke-width="0.1">hsa-mir-452</text>
<text transform="translate(597.3 279.7) rotate(0.02) scale(0.68 1)" font-size="6.9" fill="#111" stroke="#111" stroke-width="0.1">hsa-mir-376a-2</text>
<text transform="translate(597.3 285.75) rotate(0.02) scale(0.68 1)" font-size="6.9" fill="#111" stroke="#111" stroke-width="0.1">hsa-mir-656</text>
<text transform="translate(597.3 291.8) rotate(0.02) scale(0.68 1)" font-size="6.9" fill="#111" stroke="#111" stroke-width="0.1">hsa-mir-376a-1</text>
<text transform="translate(597.3 297.85) rotate(0.02) scale(0.68 1)" font-size="6.9" fill="#111" stroke="#111" stroke-width="0.1">hsa-mir-376b</text>
<text transform="translate(597.3 303.9) rotate(0.02) scale(0.68 1)" font-size="6.9" fill="#111" stroke="#111" stroke-width="0.1">hsa-mir-193b</text>
<text transform="translate(597.3 309.95) rotate(0.02) scale(0.68 1)" font-size="6.9" fill="#111" stroke="#111" stroke-width="0.1">hsa-mir-496</text>
<text transform="translate(597.3 316) rotate(0.02) scale(0.68 1)" font-size="6.9" fill="#111" stroke="#111" stroke-width="0.1">hsa-mir-412</text>
<text transform="translate(597.3 322.05) rotate(0.02) scale(0.68 1)" font-size="6.9" fill="#111" stroke="#111" stroke-width="0.1">hsa-mir-433</text>
<text transform="translate(597.3 328.1) rotate(0.02) scale(0.68 1)" font-size="6.9" fill="#111" stroke="#111" stroke-width="0.1">hsa-mir-329-2</text>
<text transform="translate(597.3 334.15) rotate(0.02) scale(0.68 1)" font-size="6.9" fill="#111" stroke="#111" stroke-width="0.1">hsa-mir-203</text>
<text transform="translate(597.3 340.2) rotate(0.02) scale(0.68 1)" font-size="6.9" fill="#111" stroke="#111" stroke-width="0.1">hsa-mir-380</text>
<text transform="translate(597.3 346.25) rotate(0.02) scale(0.68 1)" font-size="6.9" fill="#111" stroke="#111" stroke-width="0.1">hsa-mir-451a</text>
<text transform="translate(597.3 352.3) rotate(0.02) scale(0.68 1)" font-size="6.9" fill="#111" stroke="#111" stroke-width="0.1">hsa-mir-668</text>
<text transform="translate(597.3 358.35) rotate(0.02) scale(0.68 1)" font-size="6.9" fill="#111" stroke="#111" stroke-width="0.1">hsa-mir-1185-1</text>
<text transform="translate(597.3 364.4) rotate(0.02) scale(0.68 1)" font-size="6.9" fill="#111" stroke="#111" stroke-width="0.1">hsa-mir-329-1</text>
<text transform="translate(597.3 370.45) rotate(0.02) scale(0.68 1)" font-size="6.9" fill="#111" stroke="#111" stroke-width="0.1">hsa-mir-1269</text>
<text transform="translate(597.3 376.5) rotate(0.02) scale(0.68 1)" font-size="6.9" fill="#111" stroke="#111" stroke-width="0.1">hsa-mir-598</text>
<text transform="translate(597.3 382.55) rotate(0.02) scale(0.68 1)" font-size="6.9" fill="#111" stroke="#111" stroke-width="0.1">hsa-mir-487</text>
<text transform="translate(597.3 388.6) rotate(0.02) scale(0.68 1)" font-size="6.9" fill="#111" stroke="#111" stroke-width="0.1">hsa-mir-170</text>
<text transform="translate(597.3 394.65) rotate(0.02) scale(0.68 1)" font-size="6.9" fill="#111" stroke="#111" stroke-width="0.1">hsa-mir-126-1</text>
<text transform="translate(597.3 400.7) rotate(0.02) scale(0.68 1)" font-size="6.9" fill="#111" stroke="#111" stroke-width="0.1">hsa-mir-665</text>
<text transform="translate(597.3 406.75) rotate(0.02) scale(0.68 1)" font-size="6.9" fill="#111" stroke="#111" stroke-width="0.1">hsa-mir-1197</text>
<text transform="translate(597.3 412.8) rotate(0.02) scale(0.68 1)" font-size="6.9" fill="#111" stroke="#111" stroke-width="0.1">hsa-mir-605</text>
<text transform="translate(597.3 418.85) rotate(0.02) scale(0.68 1)" font-size="6.9" fill="#111" stroke="#111" stroke-width="0.1">hsa-mir-1247</text>
<text transform="translate(597.3 424.9) rotate(0.02) scale(0.68 1)" font-size="6.9" fill="#111" stroke="#111" stroke-width="0.1">hsa-mir-196a-2</text>
<text transform="translate(597.3 430.95) rotate(0.02) scale(0.68 1)" font-size="6.9" fill="#111" stroke="#111" stroke-width="0.1">hsa-mir-514-2</text>
<text transform="translate(597.3 437) rotate(0.02) scale(0.68 1)" font-size="6.9" fill="#111" stroke="#111" stroke-width="0.1">hsa-mir-541</text>
<text transform="translate(597.3 443.05) rotate(0.02) scale(0.68 1)" font-size="6.9" fill="#111" stroke="#111" stroke-width="0.1">hsa-mir-504</text>
<text transform="translate(597.3 449.1) rotate(0.02) scale(0.68 1)" font-size="6.9" fill="#111" stroke="#111" stroke-width="0.1">hsa-mir-514-3</text>
<text transform="translate(597.3 455.15) rotate(0.02) scale(0.68 1)" font-size="6.9" fill="#111" stroke="#111" stroke-width="0.1">hsa-mir-514-1</text>
<text transform="translate(597.3 461.2) rotate(0.02) scale(0.68 1)" font-size="6.9" fill="#111" stroke="#111" stroke-width="0.1">hsa-mir-126-2</text>
<text transform="translate(597.3 467.25) rotate(0.02) scale(0.68 1)" font-size="6.9" fill="#111" stroke="#111" stroke-width="0.1">hsa-mir-596</text>
<text transform="translate(597.3 473.3) rotate(0.02) scale(0.68 1)" font-size="6.9" fill="#111" stroke="#111" stroke-width="0.1">hsa-mir-137</text>
<defs><linearGradient id="ygb" x1="0" y1="0" x2="0" y2="1"><stop offset="0.000" stop-color="#ffffd9"/><stop offset="0.125" stop-color="#edf8b1"/><stop offset="0.250" stop-color="#c7e9b4"/><stop offset="0.375" stop-color="#7fcdbb"/><stop offset="0.500" stop-color="#41b6c4"/><stop offset="0.625" stop-color="#1d8fcc"/><stop offset="0.750" stop-color="#2062b4"/><stop offset="0.875" stop-color="#22389a"/><stop offset="1.000" stop-color="#0c2272"/></linearGradient></defs>
<rect x="634.3" y="20.2" width="4.7" height="137" fill="url(#ygb)"/>
<text transform="translate(641.3 23.8) rotate(0.02) scale(0.64 1)" font-size="8.6" fill="#1a1a1a">2</text>
<text transform="translate(641.3 42.9) rotate(0.02) scale(0.64 1)" font-size="8.6" fill="#1a1a1a">1.5</text>
<text transform="translate(641.3 62.5) rotate(0.02) scale(0.64 1)" font-size="8.6" fill="#1a1a1a">1</text>
<text transform="translate(641.3 81.9) rotate(0.02) scale(0.64 1)" font-size="8.6" fill="#1a1a1a">0.5</text>
<text transform="translate(641.3 102) rotate(0.02) scale(0.64 1)" font-size="8.6" fill="#1a1a1a">0</text>
<text transform="translate(641.3 121.6) rotate(0.02) scale(0.64 1)" font-size="8.6" fill="#1a1a1a">-0.5</text>
<text transform="translate(641.3 141.5) rotate(0.02) scale(0.64 1)" font-size="8.6" fill="#1a1a1a">-1</text>
<text transform="translate(641.3 161.1) rotate(0.02) scale(0.64 1)" font-size="8.6" fill="#1a1a1a">-1.5</text>
<text transform="translate(654.6 25.9) scale(0.72 1)" font-size="7.4" fill="#111" font-weight="bold">GROUP</text>
<rect x="655" y="30" width="7.5" height="12.6" fill="#1e96dc"/>
<rect x="655" y="42.6" width="7.5" height="13.2" fill="#f0b800"/>
<text transform="translate(664 39.4) scale(0.75 1)" font-size="7.2" fill="#222">low</text>
<text transform="translate(664 52.4) scale(0.75 1)" font-size="7.2" fill="#222">high</text>
</svg></body></html>
